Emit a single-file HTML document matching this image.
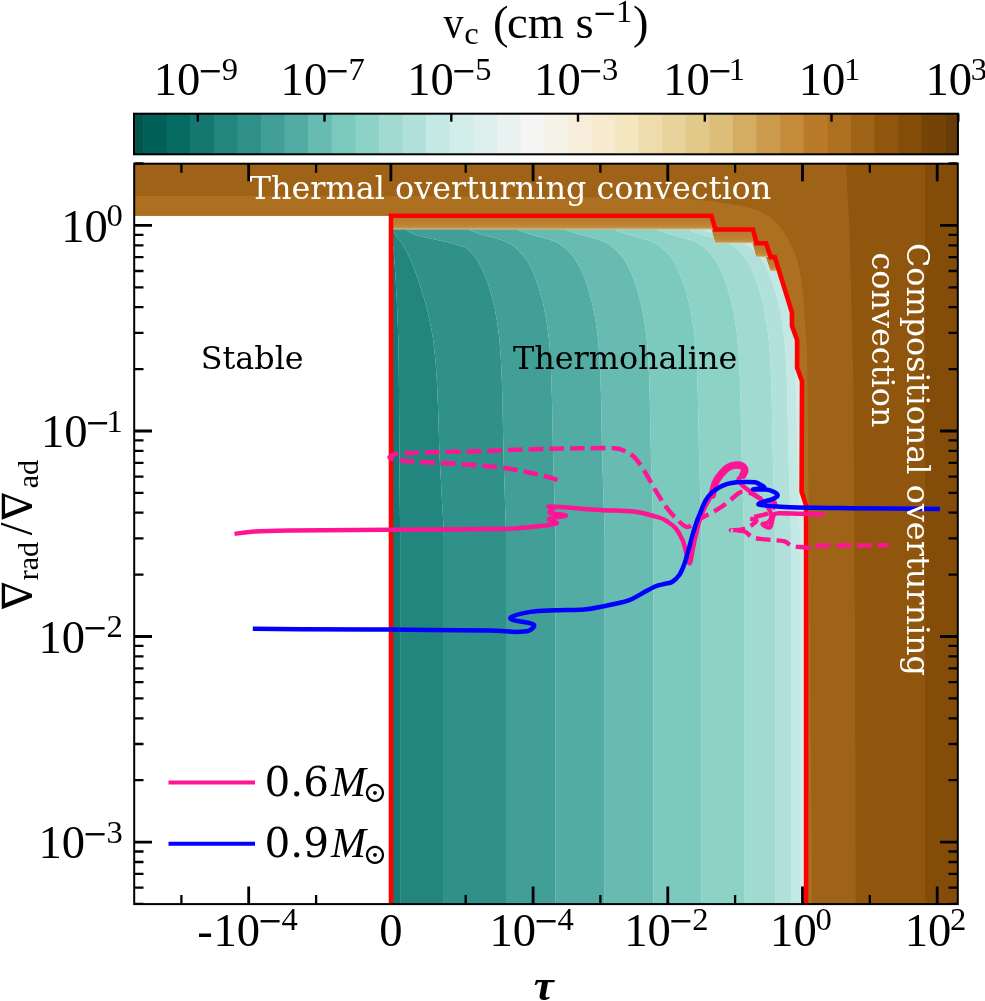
<!DOCTYPE html>
<html><head><meta charset="utf-8"><title>plot</title><style>html,body{margin:0;padding:0;background:#fff;}svg{display:block;}</style></head><body><svg width="985" height="1001" viewBox="0 0 985 1001"><rect width="985" height="1001" fill="#fff"/>
<g id="cbar">
<rect x="134" y="113.7" width="9.7" height="40.6" fill="#01554b"/>
<rect x="143.1" y="113.7" width="24.2" height="40.6" fill="#016058"/>
<rect x="166.7" y="113.7" width="24.2" height="40.6" fill="#066b63"/>
<rect x="190.3" y="113.7" width="24.2" height="40.6" fill="#147870"/>
<rect x="213.9" y="113.7" width="24.2" height="40.6" fill="#23867e"/>
<rect x="237.5" y="113.7" width="24.2" height="40.6" fill="#2f9189"/>
<rect x="261" y="113.7" width="24.2" height="40.6" fill="#419f97"/>
<rect x="284.6" y="113.7" width="24.2" height="40.6" fill="#52aca3"/>
<rect x="308.2" y="113.7" width="24.2" height="40.6" fill="#67bbb0"/>
<rect x="331.8" y="113.7" width="24.2" height="40.6" fill="#7ccabe"/>
<rect x="355.4" y="113.7" width="24.2" height="40.6" fill="#8dd2c7"/>
<rect x="379" y="113.7" width="24.2" height="40.6" fill="#a0dad1"/>
<rect x="402.6" y="113.7" width="24.2" height="40.6" fill="#b1e1da"/>
<rect x="426.2" y="113.7" width="24.2" height="40.6" fill="#c4e9e4"/>
<rect x="449.8" y="113.7" width="24.2" height="40.6" fill="#d2ede9"/>
<rect x="473.4" y="113.7" width="24.2" height="40.6" fill="#ddefed"/>
<rect x="497" y="113.7" width="24.2" height="40.6" fill="#e9f2f1"/>
<rect x="520.6" y="113.7" width="24.2" height="40.6" fill="#f5f5f4"/>
<rect x="544.2" y="113.7" width="24.2" height="40.6" fill="#f5f2e8"/>
<rect x="567.8" y="113.7" width="24.2" height="40.6" fill="#f6eedb"/>
<rect x="591.4" y="113.7" width="24.2" height="40.6" fill="#f6ebcf"/>
<rect x="615" y="113.7" width="24.2" height="40.6" fill="#f5e7c0"/>
<rect x="638.6" y="113.7" width="24.2" height="40.6" fill="#efdcad"/>
<rect x="662.1" y="113.7" width="24.2" height="40.6" fill="#e9d39d"/>
<rect x="685.7" y="113.7" width="24.2" height="40.6" fill="#e3c989"/>
<rect x="709.3" y="113.7" width="24.2" height="40.6" fill="#ddbe78"/>
<rect x="732.9" y="113.7" width="24.2" height="40.6" fill="#d4ac62"/>
<rect x="756.5" y="113.7" width="24.2" height="40.6" fill="#cc9a4c"/>
<rect x="780.1" y="113.7" width="24.2" height="40.6" fill="#c48b3a"/>
<rect x="803.7" y="113.7" width="24.2" height="40.6" fill="#b97b29"/>
<rect x="827.3" y="113.7" width="24.2" height="40.6" fill="#ad7021"/>
<rect x="850.9" y="113.7" width="24.2" height="40.6" fill="#9f6317"/>
<rect x="874.5" y="113.7" width="24.2" height="40.6" fill="#91560d"/>
<rect x="898.1" y="113.7" width="24.2" height="40.6" fill="#844c09"/>
<rect x="921.7" y="113.7" width="24.2" height="40.6" fill="#754308"/>
<rect x="945.3" y="113.7" width="13.2" height="40.6" fill="#683c07"/>
<rect x="134" y="113.7" width="823.9" height="40.6" fill="none" stroke="#000" stroke-width="2"/>
<line x1="197.8" y1="113.7" x2="197.8" y2="121.7" stroke="#000" stroke-width="2.4"/>
<line x1="324.5" y1="113.7" x2="324.5" y2="121.7" stroke="#000" stroke-width="2.4"/>
<line x1="451.3" y1="113.7" x2="451.3" y2="121.7" stroke="#000" stroke-width="2.4"/>
<line x1="578" y1="113.7" x2="578" y2="121.7" stroke="#000" stroke-width="2.4"/>
<line x1="704.8" y1="113.7" x2="704.8" y2="121.7" stroke="#000" stroke-width="2.4"/>
<line x1="831.5" y1="113.7" x2="831.5" y2="121.7" stroke="#000" stroke-width="2.4"/>
<line x1="958.3" y1="113.7" x2="958.3" y2="121.7" stroke="#000" stroke-width="2.4"/>
</g>
<clipPath id="axclip"><rect x="134.5" y="163.7" width="823" height="740.4"/></clipPath>
<g clip-path="url(#axclip)">
<path d="M134.5,163.7 H957.5 V904.1 H390.9 V215.7 H134.5 Z" fill="#9f6317"/>
<polygon points="846,163.7 849.6,234 853.3,382 854.8,604 855.8,904.1 957.5,904.1 957.5,163.7" fill="#91560d"/>
<rect x="925" y="163.7" width="32.5" height="740.4" fill="#844c09"/>
<path d="M134.5,196 C178.8,196.1 314.1,196 400,196.3 C485.9,196.6 600,197.2 650,197.8 C700,198.5 688.3,199.4 700,200.2 C711.7,201 712.5,201.4 720,202.5 C727.5,203.6 738,205.1 745,206.8 C752,208.5 757,210.1 762,212.5 C767,214.9 771.1,217.8 775,221.5 C778.9,225.2 782.2,229.2 785.5,234.5 C788.8,239.8 792.1,246.8 794.5,253 C796.9,259.2 798.5,264.3 800,272 C801.5,279.7 802.6,289.3 803.5,299 C804.4,308.7 804.9,319.8 805.5,330 C806.1,340.2 806.7,331.7 807.2,360 C807.8,388.3 808,409.3 808.8,500 C809.6,590.7 811.5,836.8 812,904.1 L390.9,904.1 L390.9,215.7 L134.5,215.7Z" fill="#ad7021"/>
<defs><linearGradient id="stripg" x1="0" y1="0" x2="0" y2="1"><stop offset="0" stop-color="#a86e26"/><stop offset="0.2" stop-color="#b77b2f"/><stop offset="0.65" stop-color="#bd8234"/><stop offset="0.88" stop-color="#c68f40"/><stop offset="0.96" stop-color="#d9b470"/><stop offset="1" stop-color="#e6cc92"/></linearGradient><pattern id="strip" patternUnits="userSpaceOnUse" x="0" y="215.7" width="985" height="13.8"><rect width="985" height="13.8" fill="url(#stripg)"/></pattern></defs>
<polygon points="391,907.1 391,215.7 711.3,215.7 715.4,229.5 753,229.5 756.5,243.3 766.1,243.3 770.7,257.1 774.8,257.1 791.9,312.3 792,326.1 797.1,339.9 797.1,367.5 802,381.3 801.6,491.7 806.1,505.5 806.1,907.1" fill="url(#strip)"/>
<clipPath id="tclip"><polygon points="391,907.1 391,229.5 711.3,229.5 715.4,243.3 752.5,243.3 756.2,257.1 765.8,257.1 770.4,270.9 776.8,270.9 789.9,312.3 790,326.1 795.1,339.9 795.1,367.5 800,381.3 799.6,491.7 804.1,505.5 804.1,907.1"/></clipPath>
<polygon points="391,907.1 391,229.5 711.3,229.5 715.4,243.3 752.5,243.3 756.2,257.1 765.8,257.1 770.4,270.9 776.8,270.9 789.9,312.3 790,326.1 795.1,339.9 795.1,367.5 800,381.3 799.6,491.7 804.1,505.5 804.1,907.1" fill="#e4f3f1"/>
<g clip-path="url(#tclip)">
<path d="M389,412 L389,410.2 L390,410.2 L390,412 L390,414 L390,416 L390,418 L390,420 L390,422 L390,424 L390,426 L390,428 L390,430 L390,432 L390,434 L390,436 L390,438 L390,440 L390,442 L390,444 L390,446 L390,448 L390,450 L390,452 L390,454 L390,456 L390,458 L390,460 L390,462 L390,464 L390,466 L390,468 L390,470 L390,472 L390,474 L390,476 L390,478 L390,480 L390,482 L390,484 L390,486 L390,488 L390,490 L390,492 L390,494 L390,496 L390,498 L390,500 L390,502 L390,504 L390,506 L390,508 L390,510 L390,512 L390,514 L390,516 L390,518 L390,520 L390,522 L390,524 L390,526 L390,528 L390,530 L390,532 L390,534 L390,536 L390,538 L390,540 L390,542 L390,544 L390,546 L390,548 L390,550 L390,552 L390,554 L390,556 L390,558 L390,560 L390,562 L390,564 L390,566 L390,568 L390,570 L390,572 L390,574 L390,576 L390,578 L390,580 L390,582 L390,584 L390,586 L390,588 L390,590 L390,592 L390,594 L390,596 L390,598 L390,600 L390,602 L390,604 L390,606 L390,608 L390,610 L390,612 L390,614 L390,616 L390,618 L390,620 L390,622 L390,624 L390,626 L390,628 L390,630 L390,632 L390,634 L390,636 L390,638 L390,640 L390,642 L390,644 L390,646 L390,648 L390,650 L390,652 L390,654 L390,656 L390,658 L390,660 L390,662 L390,664 L390,666 L390,668 L390,670 L390,672 L390,674 L390,676 L390,678 L390,680 L390,682 L390,684 L390,686 L390,688 L390,690 L390,692 L390,694 L390,696 L390,698 L390,700 L390,702 L390,704 L390,706 L390,708 L390,710 L390,712 L390,714 L390,716 L390,718 L390,720 L390,722 L390,724 L390,726 L390,728 L390,730 L390,732 L390,734 L390,736 L390,738 L390,740 L390,742 L390,744 L390,746 L390,748 L390,750 L390,752 L390,754 L390,756 L390,758 L390,760 L390,762 L390,764 L390,766 L390,768 L390,770 L390,772 L390,774 L390,776 L390,778 L390,780 L390,782 L390,784 L390,786 L390,788 L390,790 L390,792 L390,794 L390,796 L390,798 L390,800 L390,802 L390,804 L390,806 L390,808 L390,810 L390,812 L390,814 L390,816 L390,818 L390,820 L390,822 L390,824 L390,826 L390,828 L390,830 L390,832 L390,834 L390,836 L390,838 L390,840 L390,842 L390,844 L390,846 L390,848 L390,850 L390,852 L390,854 L390,856 L390,858 L390,860 L390,862 L390,864 L390,866 L390,868 L390,870 L390,872 L390,874 L390,876 L390,878 L390,880 L390,882 L390,884 L390,886 L390,888 L390,890 L390,892 L390,894 L390,896 L390,898 L390,900 L390,902 L390,904 L390,906 L390,906 L389,906 L389,904 L389,902 L389,900 L389,898 L389,896 L389,894 L389,892 L389,890 L389,888 L389,886 L389,884 L389,882 L389,880 L389,878 L389,876 L389,874 L389,872 L389,870 L389,868 L389,866 L389,864 L389,862 L389,860 L389,858 L389,856 L389,854 L389,852 L389,850 L389,848 L389,846 L389,844 L389,842 L389,840 L389,838 L389,836 L389,834 L389,832 L389,830 L389,828 L389,826 L389,824 L389,822 L389,820 L389,818 L389,816 L389,814 L389,812 L389,810 L389,808 L389,806 L389,804 L389,802 L389,800 L389,798 L389,796 L389,794 L389,792 L389,790 L389,788 L389,786 L389,784 L389,782 L389,780 L389,778 L389,776 L389,774 L389,772 L389,770 L389,768 L389,766 L389,764 L389,762 L389,760 L389,758 L389,756 L389,754 L389,752 L389,750 L389,748 L389,746 L389,744 L389,742 L389,740 L389,738 L389,736 L389,734 L389,732 L389,730 L389,728 L389,726 L389,724 L389,722 L389,720 L389,718 L389,716 L389,714 L389,712 L389,710 L389,708 L389,706 L389,704 L389,702 L389,700 L389,698 L389,696 L389,694 L389,692 L389,690 L389,688 L389,686 L389,684 L389,682 L389,680 L389,678 L389,676 L389,674 L389,672 L389,670 L389,668 L389,666 L389,664 L389,662 L389,660 L389,658 L389,656 L389,654 L389,652 L389,650 L389,648 L389,646 L389,644 L389,642 L389,640 L389,638 L389,636 L389,634 L389,632 L389,630 L389,628 L389,626 L389,624 L389,622 L389,620 L389,618 L389,616 L389,614 L389,612 L389,610 L389,608 L389,606 L389,604 L389,602 L389,600 L389,598 L389,596 L389,594 L389,592 L389,590 L389,588 L389,586 L389,584 L389,582 L389,580 L389,578 L389,576 L389,574 L389,572 L389,570 L389,568 L389,566 L389,564 L389,562 L389,560 L389,558 L389,556 L389,554 L389,552 L389,550 L389,548 L389,546 L389,544 L389,542 L389,540 L389,538 L389,536 L389,534 L389,532 L389,530 L389,528 L389,526 L389,524 L389,522 L389,520 L389,518 L389,516 L389,514 L389,512 L389,510 L389,508 L389,506 L389,504 L389,502 L389,500 L389,498 L389,496 L389,494 L389,492 L389,490 L389,488 L389,486 L389,484 L389,482 L389,480 L389,478 L389,476 L389,474 L389,472 L389,470 L389,468 L389,466 L389,464 L389,462 L389,460 L389,458 L389,456 L389,454 L389,452 L389,450 L389,448 L389,446 L389,444 L389,442 L389,440 L389,438 L389,436 L389,434 L389,432 L389,430 L389,428 L389,426 L389,424 L389,422 L389,420 L389,418 L389,416 L389,414 L389,412Z" fill="#004b40"/>
<path d="M389,240 L389,239.9 L390,239.9 L390,240 L390.1,242 L390.1,244 L390.2,246 L390.2,248 L390.2,250 L390.3,252 L390.3,254 L390.3,256 L390.3,258 L390.3,260 L390.4,262 L390.4,264 L390.4,266 L390.4,268 L390.4,270 L390.4,272 L390.4,274 L390.4,276 L390.5,278 L390.5,280 L390.5,282 L390.5,284 L390.5,286 L390.5,288 L390.5,290 L390.5,292 L390.5,294 L390.5,296 L390.5,298 L390.5,300 L390.6,302 L390.6,304 L390.6,306 L390.6,308 L390.6,310 L390.6,312 L390.6,314 L390.6,316 L390.6,318 L390.6,320 L390.6,322 L390.6,324 L390.6,326 L390.6,328 L390.6,330 L390.6,332 L390.6,334 L390.6,336 L390.6,338 L390.6,340 L390.6,342 L390.6,344 L390.6,346 L390.6,348 L390.6,350 L390.6,352 L390.6,354 L390.6,356 L390.7,358 L390.7,360 L390.7,362 L390.7,364 L390.7,366 L390.7,368 L390.7,370 L390.7,372 L390.7,374 L390.7,376 L390.7,378 L390.7,380 L390.7,382 L390.7,384 L390.7,386 L390.7,388 L390.7,390 L390.7,392 L390.7,394 L390.7,396 L390.7,398 L390.7,400 L390.7,402 L390.7,404 L390.7,406 L390.7,408 L390.7,410 L390.7,412 L390.7,414 L390.7,416 L390.7,418 L390.7,420 L390.7,422 L390.7,424 L390.7,426 L390.7,428 L390.7,430 L390.7,432 L390.7,434 L390.7,436 L390.7,438 L390.7,440 L390.7,442 L390.7,444 L390.7,446 L390.7,448 L390.7,450 L390.7,452 L390.7,454 L390.7,456 L390.7,458 L390.7,460 L390.7,462 L390.7,464 L390.7,466 L390.7,468 L390.7,470 L390.7,472 L390.7,474 L390.7,476 L390.7,478 L390.7,480 L390.7,482 L390.7,484 L390.7,486 L390.7,488 L390.7,490 L390.7,492 L390.7,494 L390.7,496 L390.7,498 L390.7,500 L390.7,502 L390.7,504 L390.7,506 L390.7,508 L390.7,510 L390.7,512 L390.7,514 L390.7,516 L390.7,518 L390.7,520 L390.7,522 L390.7,524 L390.7,526 L390.7,528 L390.7,530 L390.7,532 L390.7,534 L390.7,536 L390.7,538 L390.7,540 L390.7,542 L390.7,544 L390.7,546 L390.7,548 L390.7,550 L390.7,552 L390.7,554 L390.7,556 L390.7,558 L390.7,560 L390.7,562 L390.7,564 L390.7,566 L390.7,568 L390.7,570 L390.7,572 L390.7,574 L390.7,576 L390.7,578 L390.7,580 L390.7,582 L390.7,584 L390.7,586 L390.7,588 L390.7,590 L390.7,592 L390.7,594 L390.7,596 L390.7,598 L390.7,600 L390.7,602 L390.7,604 L390.7,606 L390.7,608 L390.7,610 L390.7,612 L390.7,614 L390.7,616 L390.7,618 L390.7,620 L390.7,622 L390.7,624 L390.7,626 L390.7,628 L390.7,630 L390.7,632 L390.7,634 L390.7,636 L390.7,638 L390.7,640 L390.7,642 L390.7,644 L390.7,646 L390.7,648 L390.7,650 L390.7,652 L390.7,654 L390.7,656 L390.7,658 L390.7,660 L390.7,662 L390.7,664 L390.7,666 L390.7,668 L390.7,670 L390.7,672 L390.7,674 L390.7,676 L390.7,678 L390.7,680 L390.7,682 L390.7,684 L390.7,686 L390.7,688 L390.7,690 L390.7,692 L390.7,694 L390.7,696 L390.7,698 L390.7,700 L390.7,702 L390.7,704 L390.7,706 L390.7,708 L390.7,710 L390.7,712 L390.7,714 L390.7,716 L390.7,718 L390.7,720 L390.7,722 L390.7,724 L390.7,726 L390.7,728 L390.7,730 L390.7,732 L390.7,734 L390.7,736 L390.7,738 L390.7,740 L390.7,742 L390.7,744 L390.7,746 L390.7,748 L390.7,750 L390.7,752 L390.7,754 L390.7,756 L390.7,758 L390.7,760 L390.7,762 L390.7,764 L390.7,766 L390.7,768 L390.7,770 L390.7,772 L390.7,774 L390.7,776 L390.7,778 L390.7,780 L390.7,782 L390.7,784 L390.7,786 L390.7,788 L390.7,790 L390.7,792 L390.7,794 L390.7,796 L390.7,798 L390.7,800 L390.7,802 L390.7,804 L390.7,806 L390.7,808 L390.7,810 L390.7,812 L390.7,814 L390.7,816 L390.7,818 L390.7,820 L390.7,822 L390.7,824 L390.7,826 L390.7,828 L390.7,830 L390.7,832 L390.7,834 L390.7,836 L390.7,838 L390.7,840 L390.7,842 L390.7,844 L390.7,846 L390.7,848 L390.7,850 L390.7,852 L390.7,854 L390.7,856 L390.7,858 L390.7,860 L390.7,862 L390.7,864 L390.7,866 L390.7,868 L390.7,870 L390.7,872 L390.7,874 L390.7,876 L390.7,878 L390.7,880 L390.7,882 L390.7,884 L390.7,886 L390.7,888 L390.7,890 L390.7,892 L390.7,894 L390.7,896 L390.7,898 L390.7,900 L390.7,902 L390.7,904 L390.7,906 L390,906 L390,904 L390,902 L390,900 L390,898 L390,896 L390,894 L390,892 L390,890 L390,888 L390,886 L390,884 L390,882 L390,880 L390,878 L390,876 L390,874 L390,872 L390,870 L390,868 L390,866 L390,864 L390,862 L390,860 L390,858 L390,856 L390,854 L390,852 L390,850 L390,848 L390,846 L390,844 L390,842 L390,840 L390,838 L390,836 L390,834 L390,832 L390,830 L390,828 L390,826 L390,824 L390,822 L390,820 L390,818 L390,816 L390,814 L390,812 L390,810 L390,808 L390,806 L390,804 L390,802 L390,800 L390,798 L390,796 L390,794 L390,792 L390,790 L390,788 L390,786 L390,784 L390,782 L390,780 L390,778 L390,776 L390,774 L390,772 L390,770 L390,768 L390,766 L390,764 L390,762 L390,760 L390,758 L390,756 L390,754 L390,752 L390,750 L390,748 L390,746 L390,744 L390,742 L390,740 L390,738 L390,736 L390,734 L390,732 L390,730 L390,728 L390,726 L390,724 L390,722 L390,720 L390,718 L390,716 L390,714 L390,712 L390,710 L390,708 L390,706 L390,704 L390,702 L390,700 L390,698 L390,696 L390,694 L390,692 L390,690 L390,688 L390,686 L390,684 L390,682 L390,680 L390,678 L390,676 L390,674 L390,672 L390,670 L390,668 L390,666 L390,664 L390,662 L390,660 L390,658 L390,656 L390,654 L390,652 L390,650 L390,648 L390,646 L390,644 L390,642 L390,640 L390,638 L390,636 L390,634 L390,632 L390,630 L390,628 L390,626 L390,624 L390,622 L390,620 L390,618 L390,616 L390,614 L390,612 L390,610 L390,608 L390,606 L390,604 L390,602 L390,600 L390,598 L390,596 L390,594 L390,592 L390,590 L390,588 L390,586 L390,584 L390,582 L390,580 L390,578 L390,576 L390,574 L390,572 L390,570 L390,568 L390,566 L390,564 L390,562 L390,560 L390,558 L390,556 L390,554 L390,552 L390,550 L390,548 L390,546 L390,544 L390,542 L390,540 L390,538 L390,536 L390,534 L390,532 L390,530 L390,528 L390,526 L390,524 L390,522 L390,520 L390,518 L390,516 L390,514 L390,512 L390,510 L390,508 L390,506 L390,504 L390,502 L390,500 L390,498 L390,496 L390,494 L390,492 L390,490 L390,488 L390,486 L390,484 L390,482 L390,480 L390,478 L390,476 L390,474 L390,472 L390,470 L390,468 L390,466 L390,464 L390,462 L390,460 L390,458 L390,456 L390,454 L390,452 L390,450 L390,448 L390,446 L390,444 L390,442 L390,440 L390,438 L390,436 L390,434 L390,432 L390,430 L390,428 L390,426 L390,424 L390,422 L390,420 L390,418 L390,416 L390,414 L390,412 L390,410.2 L389,410.2 L389,410 L389,408 L389,406 L389,404 L389,402 L389,400 L389,398 L389,396 L389,394 L389,392 L389,390 L389,388 L389,386 L389,384 L389,382 L389,380 L389,378 L389,376 L389,374 L389,372 L389,370 L389,368 L389,366 L389,364 L389,362 L389,360 L389,358 L389,356 L389,354 L389,352 L389,350 L389,348 L389,346 L389,344 L389,342 L389,340 L389,338 L389,336 L389,334 L389,332 L389,330 L389,328 L389,326 L389,324 L389,322 L389,320 L389,318 L389,316 L389,314 L389,312 L389,310 L389,308 L389,306 L389,304 L389,302 L389,300 L389,298 L389,296 L389,294 L389,292 L389,290 L389,288 L389,286 L389,284 L389,282 L389,280 L389,278 L389,276 L389,274 L389,272 L389,270 L389,268 L389,266 L389,264 L389,262 L389,260 L389,258 L389,256 L389,254 L389,252 L389,250 L389,248 L389,246 L389,244 L389,242 L389,240Z" fill="#01554b"/>
<path d="M389,226 L390,226 L390.2,226 L390.2,228 L390.3,230 L390.3,232 L390.4,234 L390.5,236 L390.6,238 L390.7,240 L390.8,242 L390.8,244 L390.8,246 L390.9,248 L390.9,250 L390.9,252 L391,254 L391,256 L391,258 L391,258.8 L391,260 L391,262 L391,264 L391.1,266 L391.1,268 L391.1,270 L391.1,272 L391.1,274 L391.1,276 L391.1,278 L391.2,280 L391.2,282 L391.2,284 L391.2,286 L391.2,288 L391.2,290 L391.2,292 L391.2,294 L391.2,296 L391.2,298 L391.2,300 L391.2,302 L391.3,304 L391.3,306 L391.3,308 L391.3,310 L391.3,312 L391.3,314 L391.3,316 L391.3,318 L391.3,320 L391.3,322 L391.3,324 L391.3,326 L391.3,328 L391.3,330 L391.3,332 L391.3,334 L391.3,336 L391.3,338 L391.3,340 L391.3,342 L391.3,344 L391.3,346 L391.3,348 L391.3,350 L391.3,352 L391.3,354 L391.4,356 L391.4,358 L391.4,360 L391.4,362 L391.4,364 L391.4,366 L391.4,368 L391.4,370 L391.4,372 L391.4,374 L391.4,376 L391.4,378 L391.4,380 L391.4,382 L391.4,384 L391.4,386 L391.4,388 L391.4,390 L391.4,392 L391.4,394 L391.4,396 L391.4,398 L391.4,400 L391.4,402 L391.4,404 L391.4,406 L391.4,408 L391.4,410 L391.4,412 L391.4,414 L391.4,416 L391.4,418 L391.4,420 L391.4,422 L391.4,424 L391.4,426 L391.4,428 L391.4,430 L391.4,432 L391.4,434 L391.4,436 L391.4,438 L391.4,440 L391.4,442 L391.4,444 L391.4,446 L391.4,448 L391.4,450 L391.4,452 L391.4,454 L391.4,456 L391.4,458 L391.4,460 L391.4,462 L391.4,464 L391.4,466 L391.4,468 L391.4,470 L391.4,472 L391.4,474 L391.4,476 L391.4,478 L391.4,480 L391.4,482 L391.4,484 L391.4,486 L391.4,488 L391.4,490 L391.4,492 L391.4,494 L391.4,496 L391.4,498 L391.4,500 L391.4,502 L391.4,504 L391.4,506 L391.4,508 L391.4,510 L391.4,512 L391.4,514 L391.4,516 L391.4,518 L391.4,520 L391.4,522 L391.4,524 L391.4,526 L391.4,528 L391.4,530 L391.4,532 L391.4,534 L391.4,536 L391.4,538 L391.4,540 L391.4,542 L391.4,544 L391.4,546 L391.4,548 L391.4,550 L391.4,552 L391.4,554 L391.4,556 L391.4,558 L391.4,560 L391.4,562 L391.4,564 L391.4,566 L391.4,568 L391.4,570 L391.4,572 L391.4,574 L391.4,576 L391.4,578 L391.4,580 L391.4,582 L391.4,584 L391.4,586 L391.4,588 L391.4,590 L391.4,592 L391.4,594 L391.4,596 L391.4,598 L391.4,600 L391.4,602 L391.4,604 L391.4,606 L391.4,608 L391.4,610 L391.4,612 L391.4,614 L391.4,616 L391.4,618 L391.4,620 L391.4,622 L391.4,624 L391.4,626 L391.4,628 L391.4,630 L391.4,632 L391.4,634 L391.4,636 L391.4,638 L391.4,640 L391.4,642 L391.4,644 L391.4,646 L391.4,648 L391.4,650 L391.4,652 L391.4,654 L391.4,656 L391.4,658 L391.4,660 L391.4,662 L391.4,664 L391.4,666 L391.4,668 L391.4,670 L391.4,672 L391.4,674 L391.4,676 L391.4,678 L391.4,680 L391.4,682 L391.4,684 L391.4,686 L391.4,688 L391.4,690 L391.4,692 L391.4,694 L391.4,696 L391.4,698 L391.4,700 L391.4,702 L391.4,704 L391.4,706 L391.4,708 L391.4,710 L391.4,712 L391.4,714 L391.4,716 L391.4,718 L391.4,720 L391.4,722 L391.4,724 L391.4,726 L391.4,728 L391.4,730 L391.4,732 L391.4,734 L391.4,736 L391.4,738 L391.4,740 L391.4,742 L391.4,744 L391.4,746 L391.4,748 L391.4,750 L391.4,752 L391.4,754 L391.4,756 L391.4,758 L391.4,760 L391.4,762 L391.4,764 L391.4,766 L391.4,768 L391.4,770 L391.4,772 L391.4,774 L391.4,776 L391.4,778 L391.4,780 L391.4,782 L391.4,784 L391.4,786 L391.4,788 L391.4,790 L391.4,792 L391.4,794 L391.4,796 L391.4,798 L391.4,800 L391.4,802 L391.4,804 L391.4,806 L391.4,808 L391.4,810 L391.4,812 L391.4,814 L391.4,816 L391.4,818 L391.4,820 L391.4,822 L391.4,824 L391.4,826 L391.4,828 L391.4,830 L391.4,832 L391.4,834 L391.4,836 L391.4,838 L391.4,840 L391.4,842 L391.4,844 L391.4,846 L391.4,848 L391.4,850 L391.4,852 L391.4,854 L391.4,856 L391.4,858 L391.4,860 L391.4,862 L391.4,864 L391.4,866 L391.4,868 L391.4,870 L391.4,872 L391.4,874 L391.4,876 L391.4,878 L391.4,880 L391.4,882 L391.4,884 L391.4,886 L391.4,888 L391.4,890 L391.4,892 L391.4,894 L391.4,896 L391.4,898 L391.4,900 L391.4,902 L391.4,904 L391.4,906 L391,906 L390.7,906 L390.7,904 L390.7,902 L390.7,900 L390.7,898 L390.7,896 L390.7,894 L390.7,892 L390.7,890 L390.7,888 L390.7,886 L390.7,884 L390.7,882 L390.7,880 L390.7,878 L390.7,876 L390.7,874 L390.7,872 L390.7,870 L390.7,868 L390.7,866 L390.7,864 L390.7,862 L390.7,860 L390.7,858 L390.7,856 L390.7,854 L390.7,852 L390.7,850 L390.7,848 L390.7,846 L390.7,844 L390.7,842 L390.7,840 L390.7,838 L390.7,836 L390.7,834 L390.7,832 L390.7,830 L390.7,828 L390.7,826 L390.7,824 L390.7,822 L390.7,820 L390.7,818 L390.7,816 L390.7,814 L390.7,812 L390.7,810 L390.7,808 L390.7,806 L390.7,804 L390.7,802 L390.7,800 L390.7,798 L390.7,796 L390.7,794 L390.7,792 L390.7,790 L390.7,788 L390.7,786 L390.7,784 L390.7,782 L390.7,780 L390.7,778 L390.7,776 L390.7,774 L390.7,772 L390.7,770 L390.7,768 L390.7,766 L390.7,764 L390.7,762 L390.7,760 L390.7,758 L390.7,756 L390.7,754 L390.7,752 L390.7,750 L390.7,748 L390.7,746 L390.7,744 L390.7,742 L390.7,740 L390.7,738 L390.7,736 L390.7,734 L390.7,732 L390.7,730 L390.7,728 L390.7,726 L390.7,724 L390.7,722 L390.7,720 L390.7,718 L390.7,716 L390.7,714 L390.7,712 L390.7,710 L390.7,708 L390.7,706 L390.7,704 L390.7,702 L390.7,700 L390.7,698 L390.7,696 L390.7,694 L390.7,692 L390.7,690 L390.7,688 L390.7,686 L390.7,684 L390.7,682 L390.7,680 L390.7,678 L390.7,676 L390.7,674 L390.7,672 L390.7,670 L390.7,668 L390.7,666 L390.7,664 L390.7,662 L390.7,660 L390.7,658 L390.7,656 L390.7,654 L390.7,652 L390.7,650 L390.7,648 L390.7,646 L390.7,644 L390.7,642 L390.7,640 L390.7,638 L390.7,636 L390.7,634 L390.7,632 L390.7,630 L390.7,628 L390.7,626 L390.7,624 L390.7,622 L390.7,620 L390.7,618 L390.7,616 L390.7,614 L390.7,612 L390.7,610 L390.7,608 L390.7,606 L390.7,604 L390.7,602 L390.7,600 L390.7,598 L390.7,596 L390.7,594 L390.7,592 L390.7,590 L390.7,588 L390.7,586 L390.7,584 L390.7,582 L390.7,580 L390.7,578 L390.7,576 L390.7,574 L390.7,572 L390.7,570 L390.7,568 L390.7,566 L390.7,564 L390.7,562 L390.7,560 L390.7,558 L390.7,556 L390.7,554 L390.7,552 L390.7,550 L390.7,548 L390.7,546 L390.7,544 L390.7,542 L390.7,540 L390.7,538 L390.7,536 L390.7,534 L390.7,532 L390.7,530 L390.7,528 L390.7,526 L390.7,524 L390.7,522 L390.7,520 L390.7,518 L390.7,516 L390.7,514 L390.7,512 L390.7,510 L390.7,508 L390.7,506 L390.7,504 L390.7,502 L390.7,500 L390.7,498 L390.7,496 L390.7,494 L390.7,492 L390.7,490 L390.7,488 L390.7,486 L390.7,484 L390.7,482 L390.7,480 L390.7,478 L390.7,476 L390.7,474 L390.7,472 L390.7,470 L390.7,468 L390.7,466 L390.7,464 L390.7,462 L390.7,460 L390.7,458 L390.7,456 L390.7,454 L390.7,452 L390.7,450 L390.7,448 L390.7,446 L390.7,444 L390.7,442 L390.7,440 L390.7,438 L390.7,436 L390.7,434 L390.7,432 L390.7,430 L390.7,428 L390.7,426 L390.7,424 L390.7,422 L390.7,420 L390.7,418 L390.7,416 L390.7,414 L390.7,412 L390.7,410 L390.7,408 L390.7,406 L390.7,404 L390.7,402 L390.7,400 L390.7,398 L390.7,396 L390.7,394 L390.7,392 L390.7,390 L390.7,388 L390.7,386 L390.7,384 L390.7,382 L390.7,380 L390.7,378 L390.7,376 L390.7,374 L390.7,372 L390.7,370 L390.7,368 L390.7,366 L390.7,364 L390.7,362 L390.7,360 L390.7,358 L390.6,356 L390.6,354 L390.6,352 L390.6,350 L390.6,348 L390.6,346 L390.6,344 L390.6,342 L390.6,340 L390.6,338 L390.6,336 L390.6,334 L390.6,332 L390.6,330 L390.6,328 L390.6,326 L390.6,324 L390.6,322 L390.6,320 L390.6,318 L390.6,316 L390.6,314 L390.6,312 L390.6,310 L390.6,308 L390.6,306 L390.6,304 L390.6,302 L390.5,300 L390.5,298 L390.5,296 L390.5,294 L390.5,292 L390.5,290 L390.5,288 L390.5,286 L390.5,284 L390.5,282 L390.5,280 L390.5,278 L390.4,276 L390.4,274 L390.4,272 L390.4,270 L390.4,268 L390.4,266 L390.4,264 L390.4,262 L390.3,260 L390.3,258 L390.3,256 L390.3,254 L390.3,252 L390.2,250 L390.2,248 L390.2,246 L390.1,244 L390.1,242 L390,240 L390,239.9 L389,239.9 L389,238 L389,236 L389,234 L389,232 L389,230 L389,228 L389,226Z" fill="#016058"/>
<path d="M390.2,226 L390.9,226 L390.9,228 L390.9,230 L391,232 L391,232.2 L391.1,234 L391.2,236 L391.3,238 L391.4,240 L391.5,242 L391.5,244 L391.6,246 L391.6,248 L391.6,250 L391.7,252 L391.7,254 L391.7,256 L391.7,258 L391.7,260 L391.8,262 L391.8,264 L391.8,266 L391.8,268 L391.8,270 L391.8,272 L391.8,274 L391.9,276 L391.9,278 L391.9,280 L391.9,282 L391.9,284 L391.9,286 L391.9,288 L391.9,290 L391.9,292 L391.9,294 L392,296 L392,298 L392,300 L392,302 L392,304 L392,306 L392,308 L392,310 L392,310.4 L392,312 L392,314 L392.1,316 L392.1,318 L392.1,320 L392.1,322 L392.1,324 L392.1,326 L392.2,328 L392.2,330 L392.2,332 L392.2,334 L392.2,336 L392.2,338 L392.2,340 L392.2,342 L392.2,344 L392.3,346 L392.3,348 L392.3,350 L392.3,352 L392.3,354 L392.3,356 L392.3,358 L392.3,360 L392.3,362 L392.3,364 L392.3,366 L392.3,368 L392.3,370 L392.3,372 L392.3,374 L392.3,376 L392.4,378 L392.4,380 L392.4,382 L392.4,384 L392.4,386 L392.4,388 L392.4,390 L392.4,392 L392.4,394 L392.4,396 L392.4,398 L392.4,400 L392.4,402 L392.4,404 L392.4,406 L392.4,408 L392.4,410 L392.4,412 L392.4,414 L392.4,416 L392.4,418 L392.4,420 L392.4,422 L392.4,424 L392.4,426 L392.4,428 L392.4,430 L392.4,432 L392.4,434 L392.4,436 L392.4,438 L392.4,440 L392.4,442 L392.4,444 L392.4,446 L392.4,448 L392.4,450 L392.4,452 L392.4,454 L392.4,456 L392.5,458 L392.5,460 L392.5,462 L392.5,464 L392.5,466 L392.5,468 L392.5,470 L392.5,472 L392.5,474 L392.5,476 L392.5,478 L392.5,480 L392.5,482 L392.5,484 L392.5,486 L392.5,488 L392.5,490 L392.5,492 L392.5,494 L392.5,496 L392.5,498 L392.5,500 L392.5,502 L392.5,504 L392.5,506 L392.5,508 L392.5,510 L392.5,512 L392.5,514 L392.6,516 L392.6,518 L392.6,520 L392.6,522 L392.6,524 L392.6,526 L392.6,528 L392.6,530 L392.6,532 L392.6,534 L392.6,536 L392.6,538 L392.6,540 L392.6,542 L392.6,544 L392.6,546 L392.6,548 L392.6,550 L392.6,552 L392.6,554 L392.6,556 L392.6,558 L392.6,560 L392.6,562 L392.6,564 L392.6,566 L392.6,568 L392.6,570 L392.6,572 L392.6,574 L392.6,576 L392.6,578 L392.6,580 L392.6,582 L392.6,584 L392.6,586 L392.6,588 L392.6,590 L392.6,592 L392.6,594 L392.6,596 L392.6,598 L392.6,600 L392.6,602 L392.6,604 L392.6,606 L392.6,608 L392.6,610 L392.6,612 L392.6,614 L392.6,616 L392.6,618 L392.6,620 L392.6,622 L392.6,624 L392.6,626 L392.6,628 L392.6,630 L392.6,632 L392.6,634 L392.6,636 L392.6,638 L392.6,640 L392.6,642 L392.6,644 L392.6,646 L392.6,648 L392.6,650 L392.6,652 L392.6,654 L392.6,656 L392.6,658 L392.6,660 L392.6,662 L392.6,664 L392.6,666 L392.6,668 L392.6,670 L392.6,672 L392.6,674 L392.6,676 L392.6,678 L392.6,680 L392.6,682 L392.6,684 L392.6,686 L392.6,688 L392.6,690 L392.6,692 L392.6,694 L392.6,696 L392.6,698 L392.6,700 L392.6,702 L392.6,704 L392.6,706 L392.6,708 L392.6,710 L392.6,712 L392.6,714 L392.6,716 L392.6,718 L392.6,720 L392.6,722 L392.6,724 L392.6,726 L392.6,728 L392.6,730 L392.6,732 L392.6,734 L392.6,736 L392.6,738 L392.6,740 L392.6,742 L392.6,744 L392.6,746 L392.6,748 L392.6,750 L392.6,752 L392.6,754 L392.6,756 L392.6,758 L392.6,760 L392.6,762 L392.6,764 L392.6,766 L392.6,768 L392.6,770 L392.6,772 L392.6,774 L392.6,776 L392.6,778 L392.6,780 L392.6,782 L392.6,784 L392.6,786 L392.6,788 L392.6,790 L392.6,792 L392.6,794 L392.6,796 L392.6,798 L392.6,800 L392.6,802 L392.6,804 L392.6,806 L392.6,808 L392.6,810 L392.6,812 L392.6,814 L392.6,816 L392.6,818 L392.6,820 L392.6,822 L392.6,824 L392.6,826 L392.6,828 L392.6,830 L392.6,832 L392.6,834 L392.6,836 L392.6,838 L392.6,840 L392.6,842 L392.6,844 L392.6,846 L392.6,848 L392.6,850 L392.6,852 L392.6,854 L392.6,856 L392.6,858 L392.6,860 L392.6,862 L392.6,864 L392.6,866 L392.6,868 L392.6,870 L392.6,872 L392.6,874 L392.6,876 L392.6,878 L392.6,880 L392.6,882 L392.6,884 L392.6,886 L392.6,888 L392.6,890 L392.6,892 L392.6,894 L392.6,896 L392.6,898 L392.6,900 L392.6,902 L392.6,904 L392.6,906 L392,906 L391.4,906 L391.4,904 L391.4,902 L391.4,900 L391.4,898 L391.4,896 L391.4,894 L391.4,892 L391.4,890 L391.4,888 L391.4,886 L391.4,884 L391.4,882 L391.4,880 L391.4,878 L391.4,876 L391.4,874 L391.4,872 L391.4,870 L391.4,868 L391.4,866 L391.4,864 L391.4,862 L391.4,860 L391.4,858 L391.4,856 L391.4,854 L391.4,852 L391.4,850 L391.4,848 L391.4,846 L391.4,844 L391.4,842 L391.4,840 L391.4,838 L391.4,836 L391.4,834 L391.4,832 L391.4,830 L391.4,828 L391.4,826 L391.4,824 L391.4,822 L391.4,820 L391.4,818 L391.4,816 L391.4,814 L391.4,812 L391.4,810 L391.4,808 L391.4,806 L391.4,804 L391.4,802 L391.4,800 L391.4,798 L391.4,796 L391.4,794 L391.4,792 L391.4,790 L391.4,788 L391.4,786 L391.4,784 L391.4,782 L391.4,780 L391.4,778 L391.4,776 L391.4,774 L391.4,772 L391.4,770 L391.4,768 L391.4,766 L391.4,764 L391.4,762 L391.4,760 L391.4,758 L391.4,756 L391.4,754 L391.4,752 L391.4,750 L391.4,748 L391.4,746 L391.4,744 L391.4,742 L391.4,740 L391.4,738 L391.4,736 L391.4,734 L391.4,732 L391.4,730 L391.4,728 L391.4,726 L391.4,724 L391.4,722 L391.4,720 L391.4,718 L391.4,716 L391.4,714 L391.4,712 L391.4,710 L391.4,708 L391.4,706 L391.4,704 L391.4,702 L391.4,700 L391.4,698 L391.4,696 L391.4,694 L391.4,692 L391.4,690 L391.4,688 L391.4,686 L391.4,684 L391.4,682 L391.4,680 L391.4,678 L391.4,676 L391.4,674 L391.4,672 L391.4,670 L391.4,668 L391.4,666 L391.4,664 L391.4,662 L391.4,660 L391.4,658 L391.4,656 L391.4,654 L391.4,652 L391.4,650 L391.4,648 L391.4,646 L391.4,644 L391.4,642 L391.4,640 L391.4,638 L391.4,636 L391.4,634 L391.4,632 L391.4,630 L391.4,628 L391.4,626 L391.4,624 L391.4,622 L391.4,620 L391.4,618 L391.4,616 L391.4,614 L391.4,612 L391.4,610 L391.4,608 L391.4,606 L391.4,604 L391.4,602 L391.4,600 L391.4,598 L391.4,596 L391.4,594 L391.4,592 L391.4,590 L391.4,588 L391.4,586 L391.4,584 L391.4,582 L391.4,580 L391.4,578 L391.4,576 L391.4,574 L391.4,572 L391.4,570 L391.4,568 L391.4,566 L391.4,564 L391.4,562 L391.4,560 L391.4,558 L391.4,556 L391.4,554 L391.4,552 L391.4,550 L391.4,548 L391.4,546 L391.4,544 L391.4,542 L391.4,540 L391.4,538 L391.4,536 L391.4,534 L391.4,532 L391.4,530 L391.4,528 L391.4,526 L391.4,524 L391.4,522 L391.4,520 L391.4,518 L391.4,516 L391.4,514 L391.4,512 L391.4,510 L391.4,508 L391.4,506 L391.4,504 L391.4,502 L391.4,500 L391.4,498 L391.4,496 L391.4,494 L391.4,492 L391.4,490 L391.4,488 L391.4,486 L391.4,484 L391.4,482 L391.4,480 L391.4,478 L391.4,476 L391.4,474 L391.4,472 L391.4,470 L391.4,468 L391.4,466 L391.4,464 L391.4,462 L391.4,460 L391.4,458 L391.4,456 L391.4,454 L391.4,452 L391.4,450 L391.4,448 L391.4,446 L391.4,444 L391.4,442 L391.4,440 L391.4,438 L391.4,436 L391.4,434 L391.4,432 L391.4,430 L391.4,428 L391.4,426 L391.4,424 L391.4,422 L391.4,420 L391.4,418 L391.4,416 L391.4,414 L391.4,412 L391.4,410 L391.4,408 L391.4,406 L391.4,404 L391.4,402 L391.4,400 L391.4,398 L391.4,396 L391.4,394 L391.4,392 L391.4,390 L391.4,388 L391.4,386 L391.4,384 L391.4,382 L391.4,380 L391.4,378 L391.4,376 L391.4,374 L391.4,372 L391.4,370 L391.4,368 L391.4,366 L391.4,364 L391.4,362 L391.4,360 L391.4,358 L391.4,356 L391.3,354 L391.3,352 L391.3,350 L391.3,348 L391.3,346 L391.3,344 L391.3,342 L391.3,340 L391.3,338 L391.3,336 L391.3,334 L391.3,332 L391.3,330 L391.3,328 L391.3,326 L391.3,324 L391.3,322 L391.3,320 L391.3,318 L391.3,316 L391.3,314 L391.3,312 L391.3,310 L391.3,308 L391.3,306 L391.3,304 L391.2,302 L391.2,300 L391.2,298 L391.2,296 L391.2,294 L391.2,292 L391.2,290 L391.2,288 L391.2,286 L391.2,284 L391.2,282 L391.2,280 L391.1,278 L391.1,276 L391.1,274 L391.1,272 L391.1,270 L391.1,268 L391.1,266 L391,264 L391,262 L391,260 L391,258.8 L391,258 L391,256 L391,254 L390.9,252 L390.9,250 L390.9,248 L390.8,246 L390.8,244 L390.8,242 L390.7,240 L390.6,238 L390.5,236 L390.4,234 L390.3,232 L390.3,230 L390.2,228 L390.2,226Z" fill="#066b63"/>
<path d="M390.9,226 L391,226 L391.6,226 L391.6,228 L391.7,230 L391.7,232 L391.8,234 L391.9,236 L392,237.7 L392.1,238 L392.4,240 L392.7,242 L392.9,244 L393,245.2 L393.1,246 L393.3,248 L393.5,250 L393.7,252 L393.8,254 L394,256 L394,256.1 L394.2,258 L394.3,260 L394.5,262 L394.6,264 L394.8,266 L394.9,268 L395,269.7 L395,270 L395.2,272 L395.3,274 L395.4,276 L395.6,278 L395.7,280 L395.8,282 L395.9,284 L396,286 L396,286.2 L396.1,288 L396.2,290 L396.3,292 L396.4,294 L396.6,296 L396.7,298 L396.8,300 L396.9,302 L396.9,304 L397,305.3 L397,306 L397.1,308 L397.2,310 L397.3,312 L397.4,314 L397.5,316 L397.6,318 L397.6,320 L397.7,322 L397.8,324 L397.8,326 L397.9,328 L398,330 L398,331.1 L398,332 L398.1,334 L398.2,336 L398.2,338 L398.3,340 L398.3,342 L398.4,344 L398.4,346 L398.4,348 L398.5,350 L398.5,352 L398.5,354 L398.6,356 L398.6,358 L398.6,360 L398.7,362 L398.7,364 L398.7,366 L398.8,368 L398.8,370 L398.8,372 L398.8,374 L398.8,376 L398.9,378 L398.9,380 L398.9,382 L398.9,384 L398.9,386 L399,388 L399,390 L399,392 L399,394 L399,394.5 L399,396 L399,398 L399,400 L399.1,402 L399.1,404 L399.1,406 L399.1,408 L399.1,410 L399.1,412 L399.1,414 L399.1,416 L399.2,418 L399.2,420 L399.2,422 L399.2,424 L399.2,426 L399.2,428 L399.2,430 L399.2,432 L399.2,434 L399.3,436 L399.3,438 L399.3,440 L399.3,442 L399.3,444 L399.3,446 L399.3,448 L399.3,450 L399.4,452 L399.4,454 L399.4,456 L399.4,458 L399.4,460 L399.4,462 L399.4,464 L399.5,466 L399.5,468 L399.5,470 L399.5,472 L399.5,474 L399.6,476 L399.6,478 L399.6,480 L399.6,482 L399.6,484 L399.7,486 L399.7,488 L399.7,490 L399.7,492 L399.7,494 L399.7,496 L399.8,498 L399.8,500 L399.8,502 L399.8,504 L399.8,506 L399.9,508 L399.9,510 L399.9,512 L399.9,514 L399.9,516 L400,518 L400,520 L400,522 L400,522 L400,524 L400,526 L400.1,528 L400.1,530 L400.1,532 L400.1,534 L400.1,536 L400.1,538 L400.1,540 L400.1,542 L400.1,544 L400.1,546 L400.1,548 L400.1,550 L400.1,552 L400.1,554 L400.1,556 L400.1,558 L400.1,560 L400.1,562 L400.1,564 L400.1,566 L400.1,568 L400.1,570 L400.1,572 L400.1,574 L400.1,576 L400.1,578 L400.1,580 L400.1,582 L400.1,584 L400.1,586 L400.1,588 L400.1,590 L400.1,592 L400.1,594 L400.1,596 L400.1,598 L400.1,600 L400.1,602 L400.1,604 L400.1,606 L400.1,608 L400.1,610 L400.1,612 L400.1,614 L400.1,616 L400.1,618 L400.1,620 L400.1,622 L400.1,624 L400.1,626 L400.1,628 L400.1,630 L400.1,632 L400.1,634 L400.1,636 L400.1,638 L400.1,640 L400.1,642 L400.1,644 L400.1,646 L400.1,648 L400.1,650 L400.1,652 L400.1,654 L400.1,656 L400.1,658 L400.1,660 L400.1,662 L400.1,664 L400.1,666 L400.1,668 L400.1,670 L400.1,672 L400.1,674 L400.1,676 L400.1,678 L400.1,680 L400.1,682 L400.1,684 L400.1,686 L400.1,688 L400.1,690 L400.1,692 L400.1,694 L400.1,696 L400.1,698 L400.1,700 L400.1,702 L400.1,704 L400.1,706 L400.1,708 L400.1,710 L400.1,712 L400.1,714 L400.1,716 L400.1,718 L400.1,720 L400.1,722 L400.1,724 L400.1,726 L400.1,728 L400.1,730 L400.1,732 L400.1,734 L400.1,736 L400.1,738 L400.1,740 L400.1,742 L400.1,744 L400.1,746 L400.1,748 L400.1,750 L400.1,752 L400.1,754 L400.1,756 L400.1,758 L400.1,760 L400.1,762 L400.1,764 L400.1,766 L400.1,768 L400.1,770 L400.1,772 L400.1,774 L400.1,776 L400.1,778 L400.1,780 L400.1,782 L400.1,784 L400.1,786 L400.1,788 L400.1,790 L400.1,792 L400.1,794 L400.1,796 L400.1,798 L400.1,800 L400.1,802 L400.1,804 L400.1,806 L400.1,808 L400.1,810 L400.1,812 L400.1,814 L400.1,816 L400.1,818 L400.1,820 L400.1,822 L400.1,824 L400.1,826 L400.1,828 L400.1,830 L400.1,832 L400.1,834 L400.1,836 L400.1,838 L400.1,840 L400.1,842 L400.1,844 L400.1,846 L400.1,848 L400.1,850 L400.1,852 L400.1,854 L400.1,856 L400.1,858 L400.1,860 L400.1,862 L400.1,864 L400.1,866 L400.1,868 L400.1,870 L400.1,872 L400.1,874 L400.1,876 L400.1,878 L400.1,880 L400.1,882 L400.1,884 L400.1,886 L400.1,888 L400.1,890 L400.1,892 L400.1,894 L400.1,896 L400.1,898 L400.1,900 L400.1,902 L400.1,904 L400.1,906 L400,906 L399,906 L398,906 L397,906 L396,906 L395,906 L394,906 L393,906 L392.6,906 L392.6,904 L392.6,902 L392.6,900 L392.6,898 L392.6,896 L392.6,894 L392.6,892 L392.6,890 L392.6,888 L392.6,886 L392.6,884 L392.6,882 L392.6,880 L392.6,878 L392.6,876 L392.6,874 L392.6,872 L392.6,870 L392.6,868 L392.6,866 L392.6,864 L392.6,862 L392.6,860 L392.6,858 L392.6,856 L392.6,854 L392.6,852 L392.6,850 L392.6,848 L392.6,846 L392.6,844 L392.6,842 L392.6,840 L392.6,838 L392.6,836 L392.6,834 L392.6,832 L392.6,830 L392.6,828 L392.6,826 L392.6,824 L392.6,822 L392.6,820 L392.6,818 L392.6,816 L392.6,814 L392.6,812 L392.6,810 L392.6,808 L392.6,806 L392.6,804 L392.6,802 L392.6,800 L392.6,798 L392.6,796 L392.6,794 L392.6,792 L392.6,790 L392.6,788 L392.6,786 L392.6,784 L392.6,782 L392.6,780 L392.6,778 L392.6,776 L392.6,774 L392.6,772 L392.6,770 L392.6,768 L392.6,766 L392.6,764 L392.6,762 L392.6,760 L392.6,758 L392.6,756 L392.6,754 L392.6,752 L392.6,750 L392.6,748 L392.6,746 L392.6,744 L392.6,742 L392.6,740 L392.6,738 L392.6,736 L392.6,734 L392.6,732 L392.6,730 L392.6,728 L392.6,726 L392.6,724 L392.6,722 L392.6,720 L392.6,718 L392.6,716 L392.6,714 L392.6,712 L392.6,710 L392.6,708 L392.6,706 L392.6,704 L392.6,702 L392.6,700 L392.6,698 L392.6,696 L392.6,694 L392.6,692 L392.6,690 L392.6,688 L392.6,686 L392.6,684 L392.6,682 L392.6,680 L392.6,678 L392.6,676 L392.6,674 L392.6,672 L392.6,670 L392.6,668 L392.6,666 L392.6,664 L392.6,662 L392.6,660 L392.6,658 L392.6,656 L392.6,654 L392.6,652 L392.6,650 L392.6,648 L392.6,646 L392.6,644 L392.6,642 L392.6,640 L392.6,638 L392.6,636 L392.6,634 L392.6,632 L392.6,630 L392.6,628 L392.6,626 L392.6,624 L392.6,622 L392.6,620 L392.6,618 L392.6,616 L392.6,614 L392.6,612 L392.6,610 L392.6,608 L392.6,606 L392.6,604 L392.6,602 L392.6,600 L392.6,598 L392.6,596 L392.6,594 L392.6,592 L392.6,590 L392.6,588 L392.6,586 L392.6,584 L392.6,582 L392.6,580 L392.6,578 L392.6,576 L392.6,574 L392.6,572 L392.6,570 L392.6,568 L392.6,566 L392.6,564 L392.6,562 L392.6,560 L392.6,558 L392.6,556 L392.6,554 L392.6,552 L392.6,550 L392.6,548 L392.6,546 L392.6,544 L392.6,542 L392.6,540 L392.6,538 L392.6,536 L392.6,534 L392.6,532 L392.6,530 L392.6,528 L392.6,526 L392.6,524 L392.6,522 L392.6,520 L392.6,518 L392.6,516 L392.5,514 L392.5,512 L392.5,510 L392.5,508 L392.5,506 L392.5,504 L392.5,502 L392.5,500 L392.5,498 L392.5,496 L392.5,494 L392.5,492 L392.5,490 L392.5,488 L392.5,486 L392.5,484 L392.5,482 L392.5,480 L392.5,478 L392.5,476 L392.5,474 L392.5,472 L392.5,470 L392.5,468 L392.5,466 L392.5,464 L392.5,462 L392.5,460 L392.5,458 L392.4,456 L392.4,454 L392.4,452 L392.4,450 L392.4,448 L392.4,446 L392.4,444 L392.4,442 L392.4,440 L392.4,438 L392.4,436 L392.4,434 L392.4,432 L392.4,430 L392.4,428 L392.4,426 L392.4,424 L392.4,422 L392.4,420 L392.4,418 L392.4,416 L392.4,414 L392.4,412 L392.4,410 L392.4,408 L392.4,406 L392.4,404 L392.4,402 L392.4,400 L392.4,398 L392.4,396 L392.4,394 L392.4,392 L392.4,390 L392.4,388 L392.4,386 L392.4,384 L392.4,382 L392.4,380 L392.4,378 L392.3,376 L392.3,374 L392.3,372 L392.3,370 L392.3,368 L392.3,366 L392.3,364 L392.3,362 L392.3,360 L392.3,358 L392.3,356 L392.3,354 L392.3,352 L392.3,350 L392.3,348 L392.3,346 L392.2,344 L392.2,342 L392.2,340 L392.2,338 L392.2,336 L392.2,334 L392.2,332 L392.2,330 L392.2,328 L392.1,326 L392.1,324 L392.1,322 L392.1,320 L392.1,318 L392.1,316 L392,314 L392,312 L392,310.4 L392,310 L392,308 L392,306 L392,304 L392,302 L392,300 L392,298 L392,296 L391.9,294 L391.9,292 L391.9,290 L391.9,288 L391.9,286 L391.9,284 L391.9,282 L391.9,280 L391.9,278 L391.9,276 L391.8,274 L391.8,272 L391.8,270 L391.8,268 L391.8,266 L391.8,264 L391.8,262 L391.7,260 L391.7,258 L391.7,256 L391.7,254 L391.7,252 L391.6,250 L391.6,248 L391.6,246 L391.5,244 L391.5,242 L391.4,240 L391.3,238 L391.2,236 L391.1,234 L391,232.2 L391,232 L390.9,230 L390.9,228 L390.9,226Z" fill="#147870"/>
<path d="M391.6,226 L392,226 L393,226 L393.2,226 L393.5,228 L393.7,230 L394,231.4 L394.2,232 L394.9,234 L395,234.2 L396,236 L396,236 L397,237.4 L397.5,238 L398,238.7 L399,239.8 L399.2,240 L400,241 L400.9,242 L401,242.1 L402,243.6 L402.3,244 L403,245.3 L403.5,246 L404,247 L404.6,248 L405,248.8 L405.7,250 L406,250.7 L406.7,252 L407,252.6 L407.7,254 L408,254.6 L408.7,256 L409,256.7 L409.6,258 L410,258.9 L410.5,260 L411,261.1 L411.4,262 L412,263.4 L412.3,264 L413,265.8 L413.1,266 L413.9,268 L414,268.4 L414.6,270 L415,271 L415.4,272 L416,273.8 L416.1,274 L416.8,276 L417,276.5 L417.5,278 L418,279.4 L418.2,280 L418.9,282 L419,282.4 L419.5,284 L420,285.4 L420.2,286 L420.8,288 L421,288.6 L421.5,290 L422,291.8 L422.1,292 L422.7,294 L423,295 L423.3,296 L423.9,298 L424,298.3 L424.5,300 L425,301.8 L425.1,302 L425.6,304 L426,305.3 L426.2,306 L426.7,308 L427,309.1 L427.2,310 L427.7,312 L428,313.3 L428.2,314 L428.6,316 L429,317.7 L429.1,318 L429.5,320 L430,322 L430,322.2 L430.4,324 L430.8,326 L431,327.1 L431.2,328 L431.6,330 L431.9,332 L432,332.4 L432.3,334 L432.6,336 L432.9,338 L433,338.7 L433.2,340 L433.4,342 L433.7,344 L433.9,346 L434,346.6 L434.2,348 L434.4,350 L434.6,352 L434.8,354 L435,355.9 L435,356 L435.2,358 L435.4,360 L435.6,362 L435.7,364 L435.9,366 L436,367.6 L436,368 L436.2,370 L436.3,372 L436.4,374 L436.6,376 L436.7,378 L436.8,380 L436.9,382 L437,383.8 L437,384 L437.1,386 L437.2,388 L437.3,390 L437.4,392 L437.5,394 L437.6,396 L437.7,398 L437.7,400 L437.8,402 L437.9,404 L438,406 L438,406.8 L438,408 L438.1,410 L438.2,412 L438.2,414 L438.3,416 L438.4,418 L438.4,420 L438.5,422 L438.5,424 L438.6,426 L438.7,428 L438.7,430 L438.8,432 L438.8,434 L438.9,436 L439,438 L439,439.6 L439,440 L439.1,442 L439.1,444 L439.2,446 L439.3,448 L439.4,450 L439.5,452 L439.5,454 L439.6,456 L439.7,458 L439.8,460 L439.9,462 L440,463.9 L440,464 L440.1,466 L440.2,468 L440.3,470 L440.4,472 L440.5,474 L440.6,476 L440.7,478 L440.9,480 L441,482 L441,482.7 L441.1,484 L441.2,486 L441.3,488 L441.4,490 L441.5,492 L441.6,494 L441.7,496 L441.8,498 L441.9,500 L442,501.5 L442,502 L442.1,504 L442.3,506 L442.4,508 L442.5,510 L442.6,512 L442.8,514 L442.9,516 L443,517.6 L443,518 L443.1,520 L443.3,522 L443.4,524 L443.5,526 L443.6,528 L443.7,530 L443.7,532 L443.8,534 L443.8,536 L443.9,538 L443.9,540 L443.9,542 L443.9,544 L443.9,546 L443.9,548 L443.9,550 L443.9,552 L443.9,554 L443.9,556 L443.9,558 L443.9,560 L443.9,562 L443.9,564 L443.9,566 L443.9,568 L443.9,570 L443.9,572 L443.9,574 L443.9,576 L443.9,578 L443.9,580 L443.9,582 L443.9,584 L443.9,586 L443.9,588 L443.9,590 L443.9,592 L443.9,594 L443.9,596 L443.9,598 L443.9,600 L443.9,602 L443.9,604 L443.9,606 L443.9,608 L443.9,610 L443.9,612 L443.9,614 L443.9,616 L443.9,618 L443.9,620 L443.9,622 L443.9,624 L443.9,626 L443.9,628 L443.9,630 L443.9,632 L443.9,634 L443.9,636 L443.9,638 L443.9,640 L443.9,642 L443.9,644 L443.9,646 L443.9,648 L443.9,650 L443.9,652 L443.9,654 L443.9,656 L443.9,658 L443.9,660 L443.9,662 L443.9,664 L443.9,666 L443.9,668 L443.9,670 L443.9,672 L443.9,674 L443.9,676 L443.9,678 L443.9,680 L443.9,682 L443.9,684 L443.9,686 L443.9,688 L443.9,690 L443.9,692 L443.9,694 L443.9,696 L443.9,698 L443.9,700 L443.9,702 L443.9,704 L443.9,706 L443.9,708 L443.9,710 L443.9,712 L443.9,714 L443.9,716 L443.9,718 L443.9,720 L443.9,722 L443.9,724 L443.9,726 L443.9,728 L443.9,730 L443.9,732 L443.9,734 L443.9,736 L443.9,738 L443.9,740 L443.9,742 L443.9,744 L443.9,746 L443.9,748 L443.9,750 L443.9,752 L443.9,754 L443.9,756 L443.9,758 L443.9,760 L443.9,762 L443.9,764 L443.9,766 L443.9,768 L443.9,770 L443.9,772 L443.9,774 L443.9,776 L443.9,778 L443.9,780 L443.9,782 L443.9,784 L443.9,786 L443.9,788 L443.9,790 L443.9,792 L443.9,794 L443.9,796 L443.9,798 L443.9,800 L443.9,802 L443.9,804 L443.9,806 L443.9,808 L443.9,810 L443.9,812 L443.9,814 L443.9,816 L443.9,818 L443.9,820 L443.9,822 L443.9,824 L443.9,826 L443.9,828 L443.9,830 L443.9,832 L443.9,834 L443.9,836 L443.9,838 L443.9,840 L443.9,842 L443.9,844 L443.9,846 L443.9,848 L443.9,850 L443.9,852 L443.9,854 L443.9,856 L443.9,858 L443.9,860 L443.9,862 L443.9,864 L443.9,866 L443.9,868 L443.9,870 L443.9,872 L443.9,874 L443.9,876 L443.9,878 L443.9,880 L443.9,882 L443.9,884 L443.9,886 L443.9,888 L443.9,890 L443.9,892 L443.9,894 L443.9,896 L443.9,898 L443.9,900 L443.9,902 L443.9,904 L443.9,906 L443,906 L442,906 L441,906 L440,906 L439,906 L438,906 L437,906 L436,906 L435,906 L434,906 L433,906 L432,906 L431,906 L430,906 L429,906 L428,906 L427,906 L426,906 L425,906 L424,906 L423,906 L422,906 L421,906 L420,906 L419,906 L418,906 L417,906 L416,906 L415,906 L414,906 L413,906 L412,906 L411,906 L410,906 L409,906 L408,906 L407,906 L406,906 L405,906 L404,906 L403,906 L402,906 L401,906 L400.1,906 L400.1,904 L400.1,902 L400.1,900 L400.1,898 L400.1,896 L400.1,894 L400.1,892 L400.1,890 L400.1,888 L400.1,886 L400.1,884 L400.1,882 L400.1,880 L400.1,878 L400.1,876 L400.1,874 L400.1,872 L400.1,870 L400.1,868 L400.1,866 L400.1,864 L400.1,862 L400.1,860 L400.1,858 L400.1,856 L400.1,854 L400.1,852 L400.1,850 L400.1,848 L400.1,846 L400.1,844 L400.1,842 L400.1,840 L400.1,838 L400.1,836 L400.1,834 L400.1,832 L400.1,830 L400.1,828 L400.1,826 L400.1,824 L400.1,822 L400.1,820 L400.1,818 L400.1,816 L400.1,814 L400.1,812 L400.1,810 L400.1,808 L400.1,806 L400.1,804 L400.1,802 L400.1,800 L400.1,798 L400.1,796 L400.1,794 L400.1,792 L400.1,790 L400.1,788 L400.1,786 L400.1,784 L400.1,782 L400.1,780 L400.1,778 L400.1,776 L400.1,774 L400.1,772 L400.1,770 L400.1,768 L400.1,766 L400.1,764 L400.1,762 L400.1,760 L400.1,758 L400.1,756 L400.1,754 L400.1,752 L400.1,750 L400.1,748 L400.1,746 L400.1,744 L400.1,742 L400.1,740 L400.1,738 L400.1,736 L400.1,734 L400.1,732 L400.1,730 L400.1,728 L400.1,726 L400.1,724 L400.1,722 L400.1,720 L400.1,718 L400.1,716 L400.1,714 L400.1,712 L400.1,710 L400.1,708 L400.1,706 L400.1,704 L400.1,702 L400.1,700 L400.1,698 L400.1,696 L400.1,694 L400.1,692 L400.1,690 L400.1,688 L400.1,686 L400.1,684 L400.1,682 L400.1,680 L400.1,678 L400.1,676 L400.1,674 L400.1,672 L400.1,670 L400.1,668 L400.1,666 L400.1,664 L400.1,662 L400.1,660 L400.1,658 L400.1,656 L400.1,654 L400.1,652 L400.1,650 L400.1,648 L400.1,646 L400.1,644 L400.1,642 L400.1,640 L400.1,638 L400.1,636 L400.1,634 L400.1,632 L400.1,630 L400.1,628 L400.1,626 L400.1,624 L400.1,622 L400.1,620 L400.1,618 L400.1,616 L400.1,614 L400.1,612 L400.1,610 L400.1,608 L400.1,606 L400.1,604 L400.1,602 L400.1,600 L400.1,598 L400.1,596 L400.1,594 L400.1,592 L400.1,590 L400.1,588 L400.1,586 L400.1,584 L400.1,582 L400.1,580 L400.1,578 L400.1,576 L400.1,574 L400.1,572 L400.1,570 L400.1,568 L400.1,566 L400.1,564 L400.1,562 L400.1,560 L400.1,558 L400.1,556 L400.1,554 L400.1,552 L400.1,550 L400.1,548 L400.1,546 L400.1,544 L400.1,542 L400.1,540 L400.1,538 L400.1,536 L400.1,534 L400.1,532 L400.1,530 L400.1,528 L400,526 L400,524 L400,522 L400,522 L400,520 L400,518 L399.9,516 L399.9,514 L399.9,512 L399.9,510 L399.9,508 L399.8,506 L399.8,504 L399.8,502 L399.8,500 L399.8,498 L399.7,496 L399.7,494 L399.7,492 L399.7,490 L399.7,488 L399.7,486 L399.6,484 L399.6,482 L399.6,480 L399.6,478 L399.6,476 L399.5,474 L399.5,472 L399.5,470 L399.5,468 L399.5,466 L399.4,464 L399.4,462 L399.4,460 L399.4,458 L399.4,456 L399.4,454 L399.4,452 L399.3,450 L399.3,448 L399.3,446 L399.3,444 L399.3,442 L399.3,440 L399.3,438 L399.3,436 L399.2,434 L399.2,432 L399.2,430 L399.2,428 L399.2,426 L399.2,424 L399.2,422 L399.2,420 L399.2,418 L399.1,416 L399.1,414 L399.1,412 L399.1,410 L399.1,408 L399.1,406 L399.1,404 L399.1,402 L399,400 L399,398 L399,396 L399,394.5 L399,394 L399,392 L399,390 L399,388 L398.9,386 L398.9,384 L398.9,382 L398.9,380 L398.9,378 L398.8,376 L398.8,374 L398.8,372 L398.8,370 L398.8,368 L398.7,366 L398.7,364 L398.7,362 L398.6,360 L398.6,358 L398.6,356 L398.5,354 L398.5,352 L398.5,350 L398.4,348 L398.4,346 L398.4,344 L398.3,342 L398.3,340 L398.2,338 L398.2,336 L398.1,334 L398,332 L398,331.1 L398,330 L397.9,328 L397.8,326 L397.8,324 L397.7,322 L397.6,320 L397.6,318 L397.5,316 L397.4,314 L397.3,312 L397.2,310 L397.1,308 L397,306 L397,305.3 L396.9,304 L396.9,302 L396.8,300 L396.7,298 L396.6,296 L396.4,294 L396.3,292 L396.2,290 L396.1,288 L396,286.2 L396,286 L395.9,284 L395.8,282 L395.7,280 L395.6,278 L395.4,276 L395.3,274 L395.2,272 L395,270 L395,269.7 L394.9,268 L394.8,266 L394.6,264 L394.5,262 L394.3,260 L394.2,258 L394,256.1 L394,256 L393.8,254 L393.7,252 L393.5,250 L393.3,248 L393.1,246 L393,245.2 L392.9,244 L392.7,242 L392.4,240 L392.1,238 L392,237.7 L391.9,236 L391.8,234 L391.7,232 L391.7,230 L391.6,228 L391.6,226Z" fill="#23867e"/>
<path d="M393.2,226 L394,226 L395,226 L396,226 L397,226 L398,226 L399,226 L400,226 L401,226 L402,226 L403,226 L403.7,226 L404,226.5 L404.9,228 L405,228.1 L406,229.5 L406.4,230 L407,230.5 L408,231.3 L409,232 L409,232 L410,232.5 L411,233 L412,233.4 L413,233.9 L413.3,234 L414,234.2 L415,234.6 L416,234.9 L417,235.2 L418,235.5 L419,235.8 L419.6,236 L420,236.1 L421,236.4 L422,236.7 L423,236.9 L424,237.1 L425,237.4 L426,237.6 L427,237.8 L427.7,238 L428,238.1 L429,238.3 L430,238.5 L431,238.7 L432,238.9 L433,239.1 L434,239.3 L435,239.5 L436,239.7 L437,239.9 L437.4,240 L438,240.1 L439,240.4 L440,240.6 L441,240.8 L442,241 L443,241.2 L444,241.4 L445,241.6 L446,241.8 L447,242 L447.1,242 L448,242.3 L449,242.5 L450,242.8 L451,243.1 L452,243.3 L453,243.6 L454,243.9 L454.6,244 L455,244.1 L456,244.5 L457,244.8 L458,245.1 L459,245.4 L460,245.7 L461,246 L461.1,246 L462,246.3 L463,246.6 L464,246.9 L465,247.2 L466,247.7 L466.4,248 L467,248.5 L468,249.4 L468.6,250 L469,250.4 L470,251.4 L470.6,252 L471,252.4 L472,253.5 L472.4,254 L473,254.7 L474,255.9 L474.1,256 L475,257.2 L475.6,258 L476,258.6 L477,260 L477,260 L478,261.6 L478.2,262 L479,263.3 L479.4,264 L480,265 L480.5,266 L481,266.9 L481.5,268 L482,269 L482.5,270 L483,271.1 L483.4,272 L484,273.4 L484.3,274 L485,275.8 L485.1,276 L485.9,278 L486,278.3 L486.6,280 L487,281.1 L487.3,282 L488,283.9 L488,284 L488.7,286 L489,287 L489.3,288 L489.9,290 L490,290.3 L490.5,292 L491,293.8 L491.1,294 L491.6,296 L492,297.4 L492.2,298 L492.7,300 L493,301.3 L493.2,302 L493.7,304 L494,305.5 L494.1,306 L494.6,308 L495,310 L495,310.2 L495.4,312 L495.7,314 L496,315.6 L496.1,316 L496.4,318 L496.8,320 L497,321.5 L497.1,322 L497.4,324 L497.7,326 L498,328 L498,328 L498.3,330 L498.5,332 L498.8,334 L499,336 L499,336 L499.2,338 L499.4,340 L499.6,342 L499.8,344 L499.9,346 L500,346.9 L500.1,348 L500.2,350 L500.4,352 L500.5,354 L500.7,356 L500.8,358 L500.9,360 L501,361.8 L501,362 L501.1,364 L501.2,366 L501.3,368 L501.4,370 L501.5,372 L501.6,374 L501.7,376 L501.7,378 L501.8,380 L501.9,382 L501.9,384 L502,385.6 L502,386 L502.1,388 L502.1,390 L502.2,392 L502.2,394 L502.3,396 L502.4,398 L502.4,400 L502.5,402 L502.5,404 L502.6,406 L502.6,408 L502.6,410 L502.7,412 L502.7,414 L502.8,416 L502.8,418 L502.8,420 L502.9,422 L502.9,424 L502.9,426 L503,428 L503,429.6 L503,430 L503,432 L503.1,434 L503.1,436 L503.2,438 L503.2,440 L503.2,442 L503.3,444 L503.3,446 L503.4,448 L503.4,450 L503.5,452 L503.5,454 L503.6,456 L503.6,458 L503.7,460 L503.7,462 L503.8,464 L503.8,466 L503.9,468 L504,470 L504,470.9 L504,472 L504.1,474 L504.2,476 L504.2,478 L504.3,480 L504.4,482 L504.4,484 L504.5,486 L504.5,488 L504.6,490 L504.7,492 L504.7,494 L504.8,496 L504.9,498 L504.9,500 L505,502 L505,503 L505,504 L505.1,506 L505.2,508 L505.2,510 L505.3,512 L505.4,514 L505.5,516 L505.5,518 L505.6,520 L505.7,522 L505.7,524 L505.8,526 L505.8,528 L505.9,530 L505.9,532 L506,534 L506,536 L506,537.6 L506,538 L506,540 L506,542 L506,544 L506,546 L506,548 L506,550 L506,552 L506,554 L506,556 L506,558 L506,560 L506,562 L506,564 L506,566 L506,568 L506,570 L506,572 L506,574 L506,576 L506,578 L506,580 L506,582 L506,584 L506,586 L506,588 L506,590 L506,592 L506,594 L506,596 L506,598 L506,600 L506,602 L506,604 L506,606 L506,608 L506,610 L506,612 L506,614 L506,616 L506,618 L506,620 L506,622 L506,624 L506,626 L506,628 L506,630 L506,632 L506,634 L506,636 L506,638 L506,640 L506,642 L506,644 L506,646 L506,648 L506,650 L506,652 L506,654 L506,656 L506,658 L506,660 L506,662 L506,664 L506,666 L506,668 L506,670 L506,672 L506,674 L506,676 L506,678 L506,680 L506,682 L506,684 L506,686 L506,688 L506,690 L506,692 L506,694 L506,696 L506,698 L506,700 L506,702 L506,704 L506,706 L506,708 L506,710 L506,712 L506,714 L506,716 L506,718 L506,720 L506,722 L506,724 L506,726 L506,728 L506,730 L506,732 L506,734 L506,736 L506,738 L506,740 L506,742 L506,744 L506,746 L506,748 L506,750 L506,752 L506,754 L506,756 L506,758 L506,760 L506,762 L506,764 L506,766 L506,768 L506,770 L506,772 L506,774 L506,776 L506,778 L506,780 L506,782 L506,784 L506,786 L506,788 L506,790 L506,792 L506,794 L506,796 L506,798 L506,800 L506,802 L506,804 L506,806 L506,808 L506,810 L506,812 L506,814 L506,816 L506,818 L506,820 L506,822 L506,824 L506,826 L506,828 L506,830 L506,832 L506,834 L506,836 L506,838 L506,840 L506,842 L506,844 L506,846 L506,848 L506,850 L506,852 L506,854 L506,856 L506,858 L506,860 L506,862 L506,864 L506,866 L506,868 L506,870 L506,872 L506,874 L506,876 L506,878 L506,880 L506,882 L506,884 L506,886 L506,888 L506,890 L506,892 L506,894 L506,896 L506,898 L506,900 L506,902 L506,904 L506,906 L506,906 L505,906 L504,906 L503,906 L502,906 L501,906 L500,906 L499,906 L498,906 L497,906 L496,906 L495,906 L494,906 L493,906 L492,906 L491,906 L490,906 L489,906 L488,906 L487,906 L486,906 L485,906 L484,906 L483,906 L482,906 L481,906 L480,906 L479,906 L478,906 L477,906 L476,906 L475,906 L474,906 L473,906 L472,906 L471,906 L470,906 L469,906 L468,906 L467,906 L466,906 L465,906 L464,906 L463,906 L462,906 L461,906 L460,906 L459,906 L458,906 L457,906 L456,906 L455,906 L454,906 L453,906 L452,906 L451,906 L450,906 L449,906 L448,906 L447,906 L446,906 L445,906 L444,906 L443.9,906 L443.9,904 L443.9,902 L443.9,900 L443.9,898 L443.9,896 L443.9,894 L443.9,892 L443.9,890 L443.9,888 L443.9,886 L443.9,884 L443.9,882 L443.9,880 L443.9,878 L443.9,876 L443.9,874 L443.9,872 L443.9,870 L443.9,868 L443.9,866 L443.9,864 L443.9,862 L443.9,860 L443.9,858 L443.9,856 L443.9,854 L443.9,852 L443.9,850 L443.9,848 L443.9,846 L443.9,844 L443.9,842 L443.9,840 L443.9,838 L443.9,836 L443.9,834 L443.9,832 L443.9,830 L443.9,828 L443.9,826 L443.9,824 L443.9,822 L443.9,820 L443.9,818 L443.9,816 L443.9,814 L443.9,812 L443.9,810 L443.9,808 L443.9,806 L443.9,804 L443.9,802 L443.9,800 L443.9,798 L443.9,796 L443.9,794 L443.9,792 L443.9,790 L443.9,788 L443.9,786 L443.9,784 L443.9,782 L443.9,780 L443.9,778 L443.9,776 L443.9,774 L443.9,772 L443.9,770 L443.9,768 L443.9,766 L443.9,764 L443.9,762 L443.9,760 L443.9,758 L443.9,756 L443.9,754 L443.9,752 L443.9,750 L443.9,748 L443.9,746 L443.9,744 L443.9,742 L443.9,740 L443.9,738 L443.9,736 L443.9,734 L443.9,732 L443.9,730 L443.9,728 L443.9,726 L443.9,724 L443.9,722 L443.9,720 L443.9,718 L443.9,716 L443.9,714 L443.9,712 L443.9,710 L443.9,708 L443.9,706 L443.9,704 L443.9,702 L443.9,700 L443.9,698 L443.9,696 L443.9,694 L443.9,692 L443.9,690 L443.9,688 L443.9,686 L443.9,684 L443.9,682 L443.9,680 L443.9,678 L443.9,676 L443.9,674 L443.9,672 L443.9,670 L443.9,668 L443.9,666 L443.9,664 L443.9,662 L443.9,660 L443.9,658 L443.9,656 L443.9,654 L443.9,652 L443.9,650 L443.9,648 L443.9,646 L443.9,644 L443.9,642 L443.9,640 L443.9,638 L443.9,636 L443.9,634 L443.9,632 L443.9,630 L443.9,628 L443.9,626 L443.9,624 L443.9,622 L443.9,620 L443.9,618 L443.9,616 L443.9,614 L443.9,612 L443.9,610 L443.9,608 L443.9,606 L443.9,604 L443.9,602 L443.9,600 L443.9,598 L443.9,596 L443.9,594 L443.9,592 L443.9,590 L443.9,588 L443.9,586 L443.9,584 L443.9,582 L443.9,580 L443.9,578 L443.9,576 L443.9,574 L443.9,572 L443.9,570 L443.9,568 L443.9,566 L443.9,564 L443.9,562 L443.9,560 L443.9,558 L443.9,556 L443.9,554 L443.9,552 L443.9,550 L443.9,548 L443.9,546 L443.9,544 L443.9,542 L443.9,540 L443.9,538 L443.8,536 L443.8,534 L443.7,532 L443.7,530 L443.6,528 L443.5,526 L443.4,524 L443.3,522 L443.1,520 L443,518 L443,517.6 L442.9,516 L442.8,514 L442.6,512 L442.5,510 L442.4,508 L442.3,506 L442.1,504 L442,502 L442,501.5 L441.9,500 L441.8,498 L441.7,496 L441.6,494 L441.5,492 L441.4,490 L441.3,488 L441.2,486 L441.1,484 L441,482.7 L441,482 L440.9,480 L440.7,478 L440.6,476 L440.5,474 L440.4,472 L440.3,470 L440.2,468 L440.1,466 L440,464 L440,463.9 L439.9,462 L439.8,460 L439.7,458 L439.6,456 L439.5,454 L439.5,452 L439.4,450 L439.3,448 L439.2,446 L439.1,444 L439.1,442 L439,440 L439,439.6 L439,438 L438.9,436 L438.8,434 L438.8,432 L438.7,430 L438.7,428 L438.6,426 L438.5,424 L438.5,422 L438.4,420 L438.4,418 L438.3,416 L438.2,414 L438.2,412 L438.1,410 L438,408 L438,406.8 L438,406 L437.9,404 L437.8,402 L437.7,400 L437.7,398 L437.6,396 L437.5,394 L437.4,392 L437.3,390 L437.2,388 L437.1,386 L437,384 L437,383.8 L436.9,382 L436.8,380 L436.7,378 L436.6,376 L436.4,374 L436.3,372 L436.2,370 L436,368 L436,367.6 L435.9,366 L435.7,364 L435.6,362 L435.4,360 L435.2,358 L435,356 L435,355.9 L434.8,354 L434.6,352 L434.4,350 L434.2,348 L434,346.6 L433.9,346 L433.7,344 L433.4,342 L433.2,340 L433,338.7 L432.9,338 L432.6,336 L432.3,334 L432,332.4 L431.9,332 L431.6,330 L431.2,328 L431,327.1 L430.8,326 L430.4,324 L430,322.2 L430,322 L429.5,320 L429.1,318 L429,317.7 L428.6,316 L428.2,314 L428,313.3 L427.7,312 L427.2,310 L427,309.1 L426.7,308 L426.2,306 L426,305.3 L425.6,304 L425.1,302 L425,301.8 L424.5,300 L424,298.3 L423.9,298 L423.3,296 L423,295 L422.7,294 L422.1,292 L422,291.8 L421.5,290 L421,288.6 L420.8,288 L420.2,286 L420,285.4 L419.5,284 L419,282.4 L418.9,282 L418.2,280 L418,279.4 L417.5,278 L417,276.5 L416.8,276 L416.1,274 L416,273.8 L415.4,272 L415,271 L414.6,270 L414,268.4 L413.9,268 L413.1,266 L413,265.8 L412.3,264 L412,263.4 L411.4,262 L411,261.1 L410.5,260 L410,258.9 L409.6,258 L409,256.7 L408.7,256 L408,254.6 L407.7,254 L407,252.6 L406.7,252 L406,250.7 L405.7,250 L405,248.8 L404.6,248 L404,247 L403.5,246 L403,245.3 L402.3,244 L402,243.6 L401,242.1 L400.9,242 L400,241 L399.2,240 L399,239.8 L398,238.7 L397.5,238 L397,237.4 L396,236 L396,236 L395,234.2 L394.9,234 L394.2,232 L394,231.4 L393.7,230 L393.5,228 L393.2,226Z" fill="#2f9189"/>
<path d="M403.7,226 L404,226 L405,226 L406,226 L407,226 L408,226 L409,226 L410,226 L411,226 L412,226 L413,226 L414,226 L415,226 L416,226 L417,226 L418,226 L419,226 L420,226 L421,226 L422,226 L423,226 L424,226 L425,226 L426,226 L427,226 L428,226 L429,226 L430,226 L431,226 L432,226 L433,226 L434,226 L435,226 L436,226 L437,226 L438,226 L439,226 L440,226 L441,226 L442,226 L443,226 L444,226 L445,226 L446,226 L447,226 L448,226 L449,226 L450,226 L451,226 L452,226 L453,226 L454,226 L455,226 L456,226 L457,226 L458,226 L459,226 L460,226 L460.5,226 L461,226.2 L462,226.5 L463,226.8 L464,227.1 L465,227.3 L466,227.7 L466.3,228 L467,228.4 L468,229.1 L469,229.8 L469.3,230 L470,230.3 L471,230.8 L472,231.2 L473,231.6 L473.8,232 L474,232.1 L475,232.4 L476,232.7 L477,233 L478,233.3 L479,233.7 L480,234 L480.1,234 L481,234.3 L482,234.5 L483,234.8 L484,235.1 L485,235.4 L486,235.7 L487,235.9 L487.2,236 L488,236.2 L489,236.5 L490,236.8 L491,237 L492,237.3 L493,237.6 L494,237.8 L494.6,238 L495,238.1 L496,238.4 L497,238.7 L498,239 L499,239.3 L500,239.6 L501,239.9 L501.4,240 L502,240.2 L503,240.6 L504,240.9 L505,241.3 L506,241.7 L506.9,242 L507,242 L508,242.6 L509,243.1 L510,243.7 L510.6,244 L511,244.3 L512,245 L513,245.7 L513.4,246 L514,246.4 L515,247.2 L516,248 L516,248 L517,248.9 L518,249.8 L518.2,250 L519,250.8 L520,251.8 L520.2,252 L521,252.9 L522,254 L522,254 L523,255.2 L523.6,256 L524,256.5 L525,257.8 L525.1,258 L526,259.2 L526.5,260 L527,260.7 L527.8,262 L528,262.3 L529,264 L529,264 L530,265.8 L530.1,266 L531,267.8 L531.1,268 L532,269.9 L532.1,270 L533,272 L533,272.1 L533.8,274 L534,274.4 L534.7,276 L535,276.9 L535.4,278 L536,279.5 L536.2,280 L536.9,282 L537,282.3 L537.6,284 L538,285.2 L538.2,286 L538.9,288 L539,288.4 L539.5,290 L540,291.8 L540.1,292 L540.6,294 L541,295.3 L541.2,296 L541.7,298 L542,299 L542.3,300 L542.8,302 L543,303 L543.2,304 L543.7,306 L544,307.4 L544.1,308 L544.5,310 L544.9,312 L545,312.4 L545.3,314 L545.6,316 L546,318 L546,318 L546.3,320 L546.7,322 L547,324 L547,324.2 L547.3,326 L547.6,328 L547.8,330 L548,331.2 L548.1,332 L548.3,334 L548.6,336 L548.8,338 L549,340 L549,340.2 L549.2,342 L549.3,344 L549.5,346 L549.7,348 L549.8,350 L550,352 L550,352.7 L550.1,354 L550.2,356 L550.3,358 L550.5,360 L550.6,362 L550.7,364 L550.8,366 L550.9,368 L551,370 L551,370.5 L551.1,372 L551.1,374 L551.2,376 L551.3,378 L551.4,380 L551.4,382 L551.5,384 L551.6,386 L551.6,388 L551.7,390 L551.8,392 L551.8,394 L551.9,396 L551.9,398 L552,400 L552,400.9 L552,402 L552.1,404 L552.1,406 L552.2,408 L552.2,410 L552.2,412 L552.3,414 L552.3,416 L552.4,418 L552.4,420 L552.4,422 L552.5,424 L552.5,426 L552.5,428 L552.6,430 L552.6,432 L552.6,434 L552.7,436 L552.7,438 L552.8,440 L552.8,442 L552.8,444 L552.9,446 L552.9,448 L553,450 L553,450.9 L553,452 L553.1,454 L553.1,456 L553.2,458 L553.2,460 L553.3,462 L553.4,464 L553.4,466 L553.5,468 L553.5,470 L553.6,472 L553.7,474 L553.7,476 L553.8,478 L553.9,480 L553.9,482 L554,484 L554,484.4 L554.1,486 L554.1,488 L554.2,490 L554.2,492 L554.3,494 L554.4,496 L554.4,498 L554.5,500 L554.5,502 L554.6,504 L554.7,506 L554.7,508 L554.8,510 L554.9,512 L555,514 L555,515.2 L555,516 L555.1,518 L555.2,520 L555.2,522 L555.3,524 L555.4,526 L555.4,528 L555.5,530 L555.5,532 L555.5,534 L555.6,536 L555.6,538 L555.6,540 L555.6,542 L555.6,544 L555.6,546 L555.6,548 L555.6,550 L555.6,552 L555.6,554 L555.6,556 L555.6,558 L555.6,560 L555.6,562 L555.6,564 L555.6,566 L555.6,568 L555.6,570 L555.6,572 L555.6,574 L555.6,576 L555.6,578 L555.6,580 L555.6,582 L555.6,584 L555.6,586 L555.6,588 L555.6,590 L555.6,592 L555.6,594 L555.6,596 L555.6,598 L555.6,600 L555.6,602 L555.6,604 L555.6,606 L555.6,608 L555.6,610 L555.6,612 L555.6,614 L555.6,616 L555.6,618 L555.6,620 L555.6,622 L555.6,624 L555.6,626 L555.6,628 L555.6,630 L555.6,632 L555.6,634 L555.6,636 L555.6,638 L555.6,640 L555.6,642 L555.6,644 L555.6,646 L555.6,648 L555.6,650 L555.6,652 L555.6,654 L555.6,656 L555.6,658 L555.6,660 L555.6,662 L555.6,664 L555.6,666 L555.6,668 L555.6,670 L555.6,672 L555.6,674 L555.6,676 L555.6,678 L555.6,680 L555.6,682 L555.6,684 L555.6,686 L555.6,688 L555.6,690 L555.6,692 L555.6,694 L555.6,696 L555.6,698 L555.6,700 L555.6,702 L555.6,704 L555.6,706 L555.6,708 L555.6,710 L555.6,712 L555.6,714 L555.6,716 L555.6,718 L555.6,720 L555.6,722 L555.6,724 L555.6,726 L555.6,728 L555.6,730 L555.6,732 L555.6,734 L555.6,736 L555.6,738 L555.6,740 L555.6,742 L555.6,744 L555.6,746 L555.6,748 L555.6,750 L555.6,752 L555.6,754 L555.6,756 L555.6,758 L555.6,760 L555.6,762 L555.6,764 L555.6,766 L555.6,768 L555.6,770 L555.6,772 L555.6,774 L555.6,776 L555.6,778 L555.6,780 L555.6,782 L555.6,784 L555.6,786 L555.6,788 L555.6,790 L555.6,792 L555.6,794 L555.6,796 L555.6,798 L555.6,800 L555.6,802 L555.6,804 L555.6,806 L555.6,808 L555.6,810 L555.6,812 L555.6,814 L555.6,816 L555.6,818 L555.6,820 L555.6,822 L555.6,824 L555.6,826 L555.6,828 L555.6,830 L555.6,832 L555.6,834 L555.6,836 L555.6,838 L555.6,840 L555.6,842 L555.6,844 L555.6,846 L555.6,848 L555.6,850 L555.6,852 L555.6,854 L555.6,856 L555.6,858 L555.6,860 L555.6,862 L555.6,864 L555.6,866 L555.6,868 L555.6,870 L555.6,872 L555.6,874 L555.6,876 L555.6,878 L555.6,880 L555.6,882 L555.6,884 L555.6,886 L555.6,888 L555.6,890 L555.6,892 L555.6,894 L555.6,896 L555.6,898 L555.6,900 L555.6,902 L555.6,904 L555.6,906 L555,906 L554,906 L553,906 L552,906 L551,906 L550,906 L549,906 L548,906 L547,906 L546,906 L545,906 L544,906 L543,906 L542,906 L541,906 L540,906 L539,906 L538,906 L537,906 L536,906 L535,906 L534,906 L533,906 L532,906 L531,906 L530,906 L529,906 L528,906 L527,906 L526,906 L525,906 L524,906 L523,906 L522,906 L521,906 L520,906 L519,906 L518,906 L517,906 L516,906 L515,906 L514,906 L513,906 L512,906 L511,906 L510,906 L509,906 L508,906 L507,906 L506,906 L506,904 L506,902 L506,900 L506,898 L506,896 L506,894 L506,892 L506,890 L506,888 L506,886 L506,884 L506,882 L506,880 L506,878 L506,876 L506,874 L506,872 L506,870 L506,868 L506,866 L506,864 L506,862 L506,860 L506,858 L506,856 L506,854 L506,852 L506,850 L506,848 L506,846 L506,844 L506,842 L506,840 L506,838 L506,836 L506,834 L506,832 L506,830 L506,828 L506,826 L506,824 L506,822 L506,820 L506,818 L506,816 L506,814 L506,812 L506,810 L506,808 L506,806 L506,804 L506,802 L506,800 L506,798 L506,796 L506,794 L506,792 L506,790 L506,788 L506,786 L506,784 L506,782 L506,780 L506,778 L506,776 L506,774 L506,772 L506,770 L506,768 L506,766 L506,764 L506,762 L506,760 L506,758 L506,756 L506,754 L506,752 L506,750 L506,748 L506,746 L506,744 L506,742 L506,740 L506,738 L506,736 L506,734 L506,732 L506,730 L506,728 L506,726 L506,724 L506,722 L506,720 L506,718 L506,716 L506,714 L506,712 L506,710 L506,708 L506,706 L506,704 L506,702 L506,700 L506,698 L506,696 L506,694 L506,692 L506,690 L506,688 L506,686 L506,684 L506,682 L506,680 L506,678 L506,676 L506,674 L506,672 L506,670 L506,668 L506,666 L506,664 L506,662 L506,660 L506,658 L506,656 L506,654 L506,652 L506,650 L506,648 L506,646 L506,644 L506,642 L506,640 L506,638 L506,636 L506,634 L506,632 L506,630 L506,628 L506,626 L506,624 L506,622 L506,620 L506,618 L506,616 L506,614 L506,612 L506,610 L506,608 L506,606 L506,604 L506,602 L506,600 L506,598 L506,596 L506,594 L506,592 L506,590 L506,588 L506,586 L506,584 L506,582 L506,580 L506,578 L506,576 L506,574 L506,572 L506,570 L506,568 L506,566 L506,564 L506,562 L506,560 L506,558 L506,556 L506,554 L506,552 L506,550 L506,548 L506,546 L506,544 L506,542 L506,540 L506,538 L506,537.6 L506,536 L506,534 L505.9,532 L505.9,530 L505.8,528 L505.8,526 L505.7,524 L505.7,522 L505.6,520 L505.5,518 L505.5,516 L505.4,514 L505.3,512 L505.2,510 L505.2,508 L505.1,506 L505,504 L505,503 L505,502 L504.9,500 L504.9,498 L504.8,496 L504.7,494 L504.7,492 L504.6,490 L504.5,488 L504.5,486 L504.4,484 L504.4,482 L504.3,480 L504.2,478 L504.2,476 L504.1,474 L504,472 L504,470.9 L504,470 L503.9,468 L503.8,466 L503.8,464 L503.7,462 L503.7,460 L503.6,458 L503.6,456 L503.5,454 L503.5,452 L503.4,450 L503.4,448 L503.3,446 L503.3,444 L503.2,442 L503.2,440 L503.2,438 L503.1,436 L503.1,434 L503,432 L503,430 L503,429.6 L503,428 L502.9,426 L502.9,424 L502.9,422 L502.8,420 L502.8,418 L502.8,416 L502.7,414 L502.7,412 L502.6,410 L502.6,408 L502.6,406 L502.5,404 L502.5,402 L502.4,400 L502.4,398 L502.3,396 L502.2,394 L502.2,392 L502.1,390 L502.1,388 L502,386 L502,385.6 L501.9,384 L501.9,382 L501.8,380 L501.7,378 L501.7,376 L501.6,374 L501.5,372 L501.4,370 L501.3,368 L501.2,366 L501.1,364 L501,362 L501,361.8 L500.9,360 L500.8,358 L500.7,356 L500.5,354 L500.4,352 L500.2,350 L500.1,348 L500,346.9 L499.9,346 L499.8,344 L499.6,342 L499.4,340 L499.2,338 L499,336 L499,336 L498.8,334 L498.5,332 L498.3,330 L498,328 L498,328 L497.7,326 L497.4,324 L497.1,322 L497,321.5 L496.8,320 L496.4,318 L496.1,316 L496,315.6 L495.7,314 L495.4,312 L495,310.2 L495,310 L494.6,308 L494.1,306 L494,305.5 L493.7,304 L493.2,302 L493,301.3 L492.7,300 L492.2,298 L492,297.4 L491.6,296 L491.1,294 L491,293.8 L490.5,292 L490,290.3 L489.9,290 L489.3,288 L489,287 L488.7,286 L488,284 L488,283.9 L487.3,282 L487,281.1 L486.6,280 L486,278.3 L485.9,278 L485.1,276 L485,275.8 L484.3,274 L484,273.4 L483.4,272 L483,271.1 L482.5,270 L482,269 L481.5,268 L481,266.9 L480.5,266 L480,265 L479.4,264 L479,263.3 L478.2,262 L478,261.6 L477,260 L477,260 L476,258.6 L475.6,258 L475,257.2 L474.1,256 L474,255.9 L473,254.7 L472.4,254 L472,253.5 L471,252.4 L470.6,252 L470,251.4 L469,250.4 L468.6,250 L468,249.4 L467,248.5 L466.4,248 L466,247.7 L465,247.2 L464,246.9 L463,246.6 L462,246.3 L461.1,246 L461,246 L460,245.7 L459,245.4 L458,245.1 L457,244.8 L456,244.5 L455,244.1 L454.6,244 L454,243.9 L453,243.6 L452,243.3 L451,243.1 L450,242.8 L449,242.5 L448,242.3 L447.1,242 L447,242 L446,241.8 L445,241.6 L444,241.4 L443,241.2 L442,241 L441,240.8 L440,240.6 L439,240.4 L438,240.1 L437.4,240 L437,239.9 L436,239.7 L435,239.5 L434,239.3 L433,239.1 L432,238.9 L431,238.7 L430,238.5 L429,238.3 L428,238.1 L427.7,238 L427,237.8 L426,237.6 L425,237.4 L424,237.1 L423,236.9 L422,236.7 L421,236.4 L420,236.1 L419.6,236 L419,235.8 L418,235.5 L417,235.2 L416,234.9 L415,234.6 L414,234.2 L413.3,234 L413,233.9 L412,233.4 L411,233 L410,232.5 L409,232 L409,232 L408,231.3 L407,230.5 L406.4,230 L406,229.5 L405,228.1 L404.9,228 L404,226.5 L403.7,226Z" fill="#419f97"/>
<path d="M460.5,226 L461,226 L462,226 L463,226 L464,226 L465,226 L466,226 L467,226 L468,226 L469,226 L470,226 L471,226 L472,226 L473,226 L474,226 L475,226 L476,226 L477,226 L478,226 L479,226 L480,226 L481,226 L482,226 L483,226 L484,226 L485,226 L486,226 L487,226 L488,226 L489,226 L490,226 L491,226 L492,226 L493,226 L494,226 L495,226 L496,226 L497,226 L498,226 L499,226 L500,226 L501,226 L502,226 L503,226 L504,226 L505,226 L506,226 L507,226 L508,226 L509,226 L510,226 L511,226 L512,226 L512.7,226 L513,226.2 L514,226.9 L515,227.7 L515.4,228 L516,228.4 L517,229.1 L518,229.7 L518.4,230 L519,230.3 L520,230.7 L521,231.2 L522,231.6 L522.9,232 L523,232 L524,232.3 L525,232.7 L526,233 L527,233.3 L528,233.6 L529,233.9 L529.2,234 L530,234.2 L531,234.5 L532,234.8 L533,235.1 L534,235.4 L535,235.6 L536,235.9 L536.3,236 L537,236.2 L538,236.5 L539,236.7 L540,237 L541,237.3 L542,237.5 L543,237.8 L543.7,238 L544,238.1 L545,238.4 L546,238.7 L547,239 L548,239.3 L549,239.6 L550,239.9 L550.5,240 L551,240.2 L552,240.5 L553,240.9 L554,241.3 L555,241.6 L556,242 L556,242 L557,242.5 L558,243.1 L559,243.6 L559.7,244 L560,244.2 L561,244.9 L562,245.6 L562.5,246 L563,246.4 L564,247.2 L565,247.9 L565.1,248 L566,248.8 L567,249.7 L567.3,250 L568,250.7 L569,251.7 L569.3,252 L570,252.8 L571,253.9 L571.1,254 L572,255.1 L572.7,256 L573,256.4 L574,257.7 L574.2,258 L575,259.1 L575.6,260 L576,260.6 L576.9,262 L577,262.1 L578,263.8 L578.1,264 L579,265.7 L579.2,266 L580,267.6 L580.2,268 L581,269.7 L581.2,270 L582,271.8 L582.1,272 L582.9,274 L583,274.2 L583.8,276 L584,276.6 L584.5,278 L585,279.2 L585.3,280 L586,282 L586,282 L586.7,284 L587,284.9 L587.3,286 L588,288 L588,288.1 L588.6,290 L589,291.4 L589.2,292 L589.7,294 L590,295 L590.3,296 L590.8,298 L591,298.7 L591.3,300 L591.9,302 L592,302.6 L592.3,304 L592.8,306 L593,307 L593.2,308 L593.6,310 L594,311.9 L594,312 L594.4,314 L594.7,316 L595,317.5 L595.1,318 L595.4,320 L595.8,322 L596,323.6 L596.1,324 L596.4,326 L596.7,328 L596.9,330 L597,330.5 L597.2,332 L597.4,334 L597.7,336 L597.9,338 L598,339.2 L598.1,340 L598.3,342 L598.4,344 L598.6,346 L598.8,348 L598.9,350 L599,351.3 L599,352 L599.2,354 L599.3,356 L599.4,358 L599.6,360 L599.7,362 L599.8,364 L599.9,366 L600,368 L600,368.3 L600.1,370 L600.2,372 L600.2,374 L600.3,376 L600.4,378 L600.5,380 L600.5,382 L600.6,384 L600.7,386 L600.7,388 L600.8,390 L600.9,392 L600.9,394 L601,396 L601,397.1 L601,398 L601.1,400 L601.1,402 L601.2,404 L601.2,406 L601.3,408 L601.3,410 L601.3,412 L601.4,414 L601.4,416 L601.5,418 L601.5,420 L601.5,422 L601.6,424 L601.6,426 L601.6,428 L601.7,430 L601.7,432 L601.7,434 L601.8,436 L601.8,438 L601.9,440 L601.9,442 L601.9,444 L602,446 L602,446.7 L602,448 L602.1,450 L602.1,452 L602.2,454 L602.2,456 L602.3,458 L602.3,460 L602.4,462 L602.5,464 L602.5,466 L602.6,468 L602.6,470 L602.7,472 L602.8,474 L602.8,476 L602.9,478 L603,480 L603,481.3 L603,482 L603.1,484 L603.1,486 L603.2,488 L603.3,490 L603.3,492 L603.4,494 L603.5,496 L603.5,498 L603.6,500 L603.6,502 L603.7,504 L603.8,506 L603.8,508 L603.9,510 L604,512 L604,512.5 L604.1,514 L604.1,516 L604.2,518 L604.3,520 L604.3,522 L604.4,524 L604.5,526 L604.5,528 L604.6,530 L604.6,532 L604.6,534 L604.7,536 L604.7,538 L604.7,540 L604.7,542 L604.7,544 L604.7,546 L604.7,548 L604.7,550 L604.7,552 L604.7,554 L604.7,556 L604.7,558 L604.7,560 L604.7,562 L604.7,564 L604.7,566 L604.7,568 L604.7,570 L604.7,572 L604.7,574 L604.7,576 L604.7,578 L604.7,580 L604.7,582 L604.7,584 L604.7,586 L604.7,588 L604.7,590 L604.7,592 L604.7,594 L604.7,596 L604.7,598 L604.7,600 L604.7,602 L604.7,604 L604.7,606 L604.7,608 L604.7,610 L604.7,612 L604.7,614 L604.7,616 L604.7,618 L604.7,620 L604.7,622 L604.7,624 L604.7,626 L604.7,628 L604.7,630 L604.7,632 L604.7,634 L604.7,636 L604.7,638 L604.7,640 L604.7,642 L604.7,644 L604.7,646 L604.7,648 L604.7,650 L604.7,652 L604.7,654 L604.7,656 L604.7,658 L604.7,660 L604.7,662 L604.7,664 L604.7,666 L604.7,668 L604.7,670 L604.7,672 L604.7,674 L604.7,676 L604.7,678 L604.7,680 L604.7,682 L604.7,684 L604.7,686 L604.7,688 L604.7,690 L604.7,692 L604.7,694 L604.7,696 L604.7,698 L604.7,700 L604.7,702 L604.7,704 L604.7,706 L604.7,708 L604.7,710 L604.7,712 L604.7,714 L604.7,716 L604.7,718 L604.7,720 L604.7,722 L604.7,724 L604.7,726 L604.7,728 L604.7,730 L604.7,732 L604.7,734 L604.7,736 L604.7,738 L604.7,740 L604.7,742 L604.7,744 L604.7,746 L604.7,748 L604.7,750 L604.7,752 L604.7,754 L604.7,756 L604.7,758 L604.7,760 L604.7,762 L604.7,764 L604.7,766 L604.7,768 L604.7,770 L604.7,772 L604.7,774 L604.7,776 L604.7,778 L604.7,780 L604.7,782 L604.7,784 L604.7,786 L604.7,788 L604.7,790 L604.7,792 L604.7,794 L604.7,796 L604.7,798 L604.7,800 L604.7,802 L604.7,804 L604.7,806 L604.7,808 L604.7,810 L604.7,812 L604.7,814 L604.7,816 L604.7,818 L604.7,820 L604.7,822 L604.7,824 L604.7,826 L604.7,828 L604.7,830 L604.7,832 L604.7,834 L604.7,836 L604.7,838 L604.7,840 L604.7,842 L604.7,844 L604.7,846 L604.7,848 L604.7,850 L604.7,852 L604.7,854 L604.7,856 L604.7,858 L604.7,860 L604.7,862 L604.7,864 L604.7,866 L604.7,868 L604.7,870 L604.7,872 L604.7,874 L604.7,876 L604.7,878 L604.7,880 L604.7,882 L604.7,884 L604.7,886 L604.7,888 L604.7,890 L604.7,892 L604.7,894 L604.7,896 L604.7,898 L604.7,900 L604.7,902 L604.7,904 L604.7,906 L604,906 L603,906 L602,906 L601,906 L600,906 L599,906 L598,906 L597,906 L596,906 L595,906 L594,906 L593,906 L592,906 L591,906 L590,906 L589,906 L588,906 L587,906 L586,906 L585,906 L584,906 L583,906 L582,906 L581,906 L580,906 L579,906 L578,906 L577,906 L576,906 L575,906 L574,906 L573,906 L572,906 L571,906 L570,906 L569,906 L568,906 L567,906 L566,906 L565,906 L564,906 L563,906 L562,906 L561,906 L560,906 L559,906 L558,906 L557,906 L556,906 L555.6,906 L555.6,904 L555.6,902 L555.6,900 L555.6,898 L555.6,896 L555.6,894 L555.6,892 L555.6,890 L555.6,888 L555.6,886 L555.6,884 L555.6,882 L555.6,880 L555.6,878 L555.6,876 L555.6,874 L555.6,872 L555.6,870 L555.6,868 L555.6,866 L555.6,864 L555.6,862 L555.6,860 L555.6,858 L555.6,856 L555.6,854 L555.6,852 L555.6,850 L555.6,848 L555.6,846 L555.6,844 L555.6,842 L555.6,840 L555.6,838 L555.6,836 L555.6,834 L555.6,832 L555.6,830 L555.6,828 L555.6,826 L555.6,824 L555.6,822 L555.6,820 L555.6,818 L555.6,816 L555.6,814 L555.6,812 L555.6,810 L555.6,808 L555.6,806 L555.6,804 L555.6,802 L555.6,800 L555.6,798 L555.6,796 L555.6,794 L555.6,792 L555.6,790 L555.6,788 L555.6,786 L555.6,784 L555.6,782 L555.6,780 L555.6,778 L555.6,776 L555.6,774 L555.6,772 L555.6,770 L555.6,768 L555.6,766 L555.6,764 L555.6,762 L555.6,760 L555.6,758 L555.6,756 L555.6,754 L555.6,752 L555.6,750 L555.6,748 L555.6,746 L555.6,744 L555.6,742 L555.6,740 L555.6,738 L555.6,736 L555.6,734 L555.6,732 L555.6,730 L555.6,728 L555.6,726 L555.6,724 L555.6,722 L555.6,720 L555.6,718 L555.6,716 L555.6,714 L555.6,712 L555.6,710 L555.6,708 L555.6,706 L555.6,704 L555.6,702 L555.6,700 L555.6,698 L555.6,696 L555.6,694 L555.6,692 L555.6,690 L555.6,688 L555.6,686 L555.6,684 L555.6,682 L555.6,680 L555.6,678 L555.6,676 L555.6,674 L555.6,672 L555.6,670 L555.6,668 L555.6,666 L555.6,664 L555.6,662 L555.6,660 L555.6,658 L555.6,656 L555.6,654 L555.6,652 L555.6,650 L555.6,648 L555.6,646 L555.6,644 L555.6,642 L555.6,640 L555.6,638 L555.6,636 L555.6,634 L555.6,632 L555.6,630 L555.6,628 L555.6,626 L555.6,624 L555.6,622 L555.6,620 L555.6,618 L555.6,616 L555.6,614 L555.6,612 L555.6,610 L555.6,608 L555.6,606 L555.6,604 L555.6,602 L555.6,600 L555.6,598 L555.6,596 L555.6,594 L555.6,592 L555.6,590 L555.6,588 L555.6,586 L555.6,584 L555.6,582 L555.6,580 L555.6,578 L555.6,576 L555.6,574 L555.6,572 L555.6,570 L555.6,568 L555.6,566 L555.6,564 L555.6,562 L555.6,560 L555.6,558 L555.6,556 L555.6,554 L555.6,552 L555.6,550 L555.6,548 L555.6,546 L555.6,544 L555.6,542 L555.6,540 L555.6,538 L555.6,536 L555.5,534 L555.5,532 L555.5,530 L555.4,528 L555.4,526 L555.3,524 L555.2,522 L555.2,520 L555.1,518 L555,516 L555,515.2 L555,514 L554.9,512 L554.8,510 L554.7,508 L554.7,506 L554.6,504 L554.5,502 L554.5,500 L554.4,498 L554.4,496 L554.3,494 L554.2,492 L554.2,490 L554.1,488 L554.1,486 L554,484.4 L554,484 L553.9,482 L553.9,480 L553.8,478 L553.7,476 L553.7,474 L553.6,472 L553.5,470 L553.5,468 L553.4,466 L553.4,464 L553.3,462 L553.2,460 L553.2,458 L553.1,456 L553.1,454 L553,452 L553,450.9 L553,450 L552.9,448 L552.9,446 L552.8,444 L552.8,442 L552.8,440 L552.7,438 L552.7,436 L552.6,434 L552.6,432 L552.6,430 L552.5,428 L552.5,426 L552.5,424 L552.4,422 L552.4,420 L552.4,418 L552.3,416 L552.3,414 L552.2,412 L552.2,410 L552.2,408 L552.1,406 L552.1,404 L552,402 L552,400.9 L552,400 L551.9,398 L551.9,396 L551.8,394 L551.8,392 L551.7,390 L551.6,388 L551.6,386 L551.5,384 L551.4,382 L551.4,380 L551.3,378 L551.2,376 L551.1,374 L551.1,372 L551,370.5 L551,370 L550.9,368 L550.8,366 L550.7,364 L550.6,362 L550.5,360 L550.3,358 L550.2,356 L550.1,354 L550,352.7 L550,352 L549.8,350 L549.7,348 L549.5,346 L549.3,344 L549.2,342 L549,340.2 L549,340 L548.8,338 L548.6,336 L548.3,334 L548.1,332 L548,331.2 L547.8,330 L547.6,328 L547.3,326 L547,324.2 L547,324 L546.7,322 L546.3,320 L546,318 L546,318 L545.6,316 L545.3,314 L545,312.4 L544.9,312 L544.5,310 L544.1,308 L544,307.4 L543.7,306 L543.2,304 L543,303 L542.8,302 L542.3,300 L542,299 L541.7,298 L541.2,296 L541,295.3 L540.6,294 L540.1,292 L540,291.8 L539.5,290 L539,288.4 L538.9,288 L538.2,286 L538,285.2 L537.6,284 L537,282.3 L536.9,282 L536.2,280 L536,279.5 L535.4,278 L535,276.9 L534.7,276 L534,274.4 L533.8,274 L533,272.1 L533,272 L532.1,270 L532,269.9 L531.1,268 L531,267.8 L530.1,266 L530,265.8 L529,264 L529,264 L528,262.3 L527.8,262 L527,260.7 L526.5,260 L526,259.2 L525.1,258 L525,257.8 L524,256.5 L523.6,256 L523,255.2 L522,254 L522,254 L521,252.9 L520.2,252 L520,251.8 L519,250.8 L518.2,250 L518,249.8 L517,248.9 L516,248 L516,248 L515,247.2 L514,246.4 L513.4,246 L513,245.7 L512,245 L511,244.3 L510.6,244 L510,243.7 L509,243.1 L508,242.6 L507,242 L506.9,242 L506,241.7 L505,241.3 L504,240.9 L503,240.6 L502,240.2 L501.4,240 L501,239.9 L500,239.6 L499,239.3 L498,239 L497,238.7 L496,238.4 L495,238.1 L494.6,238 L494,237.8 L493,237.6 L492,237.3 L491,237 L490,236.8 L489,236.5 L488,236.2 L487.2,236 L487,235.9 L486,235.7 L485,235.4 L484,235.1 L483,234.8 L482,234.5 L481,234.3 L480.1,234 L480,234 L479,233.7 L478,233.3 L477,233 L476,232.7 L475,232.4 L474,232.1 L473.8,232 L473,231.6 L472,231.2 L471,230.8 L470,230.3 L469.3,230 L469,229.8 L468,229.1 L467,228.4 L466.3,228 L466,227.7 L465,227.3 L464,227.1 L463,226.8 L462,226.5 L461,226.2 L460.5,226Z" fill="#52aca3"/>
<path d="M512.7,226 L513,226 L514,226 L515,226 L516,226 L517,226 L518,226 L519,226 L520,226 L521,226 L522,226 L523,226 L524,226 L525,226 L526,226 L527,226 L528,226 L529,226 L530,226 L531,226 L532,226 L533,226 L534,226 L535,226 L536,226 L537,226 L538,226 L539,226 L540,226 L541,226 L542,226 L543,226 L544,226 L545,226 L546,226 L547,226 L548,226 L549,226 L550,226 L551,226 L552,226 L553,226 L554,226 L555,226 L556,226 L557,226 L558,226 L559,226 L560,226 L561,226 L561.4,226 L562,226.4 L563,227.1 L564,227.9 L564.2,228 L565,228.6 L566,229.2 L567,229.9 L567.1,230 L568,230.4 L569,230.8 L570,231.3 L571,231.7 L571.7,232 L572,232.1 L573,232.4 L574,232.8 L575,233.1 L576,233.4 L577,233.7 L577.9,234 L578,234 L579,234.3 L580,234.6 L581,234.9 L582,235.1 L583,235.4 L584,235.7 L585,236 L585,236 L586,236.3 L587,236.5 L588,236.8 L589,237.1 L590,237.3 L591,237.6 L592,237.9 L592.4,238 L593,238.2 L594,238.5 L595,238.8 L596,239.1 L597,239.3 L598,239.6 L599,239.9 L599.2,240 L600,240.3 L601,240.6 L602,241 L603,241.4 L604,241.7 L604.7,242 L605,242.1 L606,242.7 L607,243.2 L608,243.8 L608.4,244 L609,244.4 L610,245.1 L611,245.8 L611.3,246 L612,246.6 L613,247.4 L613.8,248 L614,248.2 L615,249.1 L616,250 L616,250 L617,251 L618,252 L618,252 L619,253.1 L619.8,254 L620,254.2 L621,255.4 L621.5,256 L622,256.7 L623,258 L623,258 L624,259.5 L624.4,260 L625,261 L625.6,262 L626,262.6 L626.8,264 L627,264.3 L627.9,266 L628,266.2 L628.9,268 L629,268.1 L629.9,270 L630,270.2 L630.8,272 L631,272.5 L631.7,274 L632,274.8 L632.5,276 L633,277.3 L633.3,278 L634,280 L634,280 L634.7,282 L635,282.8 L635.4,284 L636,285.8 L636.1,286 L636.7,288 L637,289 L637.3,290 L637.9,292 L638,292.4 L638.5,294 L639,295.9 L639,296 L639.6,298 L640,299.7 L640.1,300 L640.6,302 L641,303.8 L641.1,304 L641.5,306 L642,308 L642,308.2 L642.4,310 L642.7,312 L643,313.4 L643.1,314 L643.5,316 L643.8,318 L644,319.1 L644.2,320 L644.5,322 L644.8,324 L645,325.3 L645.1,326 L645.4,328 L645.7,330 L645.9,332 L646,332.6 L646.2,334 L646.4,336 L646.6,338 L646.8,340 L647,342 L647,342.2 L647.2,344 L647.3,346 L647.5,348 L647.6,350 L647.8,352 L647.9,354 L648,355.3 L648,356 L648.2,358 L648.3,360 L648.4,362 L648.5,364 L648.6,366 L648.7,368 L648.8,370 L648.9,372 L649,374 L649,374.6 L649.1,376 L649.1,378 L649.2,380 L649.3,382 L649.3,384 L649.4,386 L649.5,388 L649.5,390 L649.6,392 L649.6,394 L649.7,396 L649.8,398 L649.8,400 L649.9,402 L649.9,404 L649.9,406 L650,408 L650,408.4 L650,410 L650.1,412 L650.1,414 L650.2,416 L650.2,418 L650.2,420 L650.3,422 L650.3,424 L650.3,426 L650.4,428 L650.4,430 L650.4,432 L650.5,434 L650.5,436 L650.5,438 L650.6,440 L650.6,442 L650.7,444 L650.7,446 L650.8,448 L650.8,450 L650.9,452 L650.9,454 L651,456 L651,457.6 L651,458 L651.1,460 L651.1,462 L651.2,464 L651.2,466 L651.3,468 L651.4,470 L651.4,472 L651.5,474 L651.6,476 L651.6,478 L651.7,480 L651.7,482 L651.8,484 L651.9,486 L651.9,488 L652,489.9 L652,490 L652.1,492 L652.1,494 L652.2,496 L652.2,498 L652.3,500 L652.4,502 L652.4,504 L652.5,506 L652.6,508 L652.6,510 L652.7,512 L652.8,514 L652.9,516 L652.9,518 L653,520 L653,520.1 L653.1,522 L653.1,524 L653.2,526 L653.2,528 L653.3,530 L653.3,532 L653.4,534 L653.4,536 L653.4,538 L653.4,540 L653.4,542 L653.4,544 L653.4,546 L653.4,548 L653.4,550 L653.4,552 L653.4,554 L653.4,556 L653.4,558 L653.4,560 L653.4,562 L653.4,564 L653.4,566 L653.4,568 L653.4,570 L653.4,572 L653.4,574 L653.4,576 L653.4,578 L653.4,580 L653.4,582 L653.4,584 L653.4,586 L653.4,588 L653.4,590 L653.4,592 L653.4,594 L653.4,596 L653.4,598 L653.4,600 L653.4,602 L653.4,604 L653.4,606 L653.4,608 L653.4,610 L653.4,612 L653.4,614 L653.4,616 L653.4,618 L653.4,620 L653.4,622 L653.4,624 L653.4,626 L653.4,628 L653.4,630 L653.4,632 L653.4,634 L653.4,636 L653.4,638 L653.4,640 L653.4,642 L653.4,644 L653.4,646 L653.4,648 L653.4,650 L653.4,652 L653.4,654 L653.4,656 L653.4,658 L653.4,660 L653.4,662 L653.4,664 L653.4,666 L653.4,668 L653.4,670 L653.4,672 L653.4,674 L653.4,676 L653.4,678 L653.4,680 L653.4,682 L653.4,684 L653.4,686 L653.4,688 L653.4,690 L653.4,692 L653.4,694 L653.4,696 L653.4,698 L653.4,700 L653.4,702 L653.4,704 L653.4,706 L653.4,708 L653.4,710 L653.4,712 L653.4,714 L653.4,716 L653.4,718 L653.4,720 L653.4,722 L653.4,724 L653.4,726 L653.4,728 L653.4,730 L653.4,732 L653.4,734 L653.4,736 L653.4,738 L653.4,740 L653.4,742 L653.4,744 L653.4,746 L653.4,748 L653.4,750 L653.4,752 L653.4,754 L653.4,756 L653.4,758 L653.4,760 L653.4,762 L653.4,764 L653.4,766 L653.4,768 L653.4,770 L653.4,772 L653.4,774 L653.4,776 L653.4,778 L653.4,780 L653.4,782 L653.4,784 L653.4,786 L653.4,788 L653.4,790 L653.4,792 L653.4,794 L653.4,796 L653.4,798 L653.4,800 L653.4,802 L653.4,804 L653.4,806 L653.4,808 L653.4,810 L653.4,812 L653.4,814 L653.4,816 L653.4,818 L653.4,820 L653.4,822 L653.4,824 L653.4,826 L653.4,828 L653.4,830 L653.4,832 L653.4,834 L653.4,836 L653.4,838 L653.4,840 L653.4,842 L653.4,844 L653.4,846 L653.4,848 L653.4,850 L653.4,852 L653.4,854 L653.4,856 L653.4,858 L653.4,860 L653.4,862 L653.4,864 L653.4,866 L653.4,868 L653.4,870 L653.4,872 L653.4,874 L653.4,876 L653.4,878 L653.4,880 L653.4,882 L653.4,884 L653.4,886 L653.4,888 L653.4,890 L653.4,892 L653.4,894 L653.4,896 L653.4,898 L653.4,900 L653.4,902 L653.4,904 L653.4,906 L653,906 L652,906 L651,906 L650,906 L649,906 L648,906 L647,906 L646,906 L645,906 L644,906 L643,906 L642,906 L641,906 L640,906 L639,906 L638,906 L637,906 L636,906 L635,906 L634,906 L633,906 L632,906 L631,906 L630,906 L629,906 L628,906 L627,906 L626,906 L625,906 L624,906 L623,906 L622,906 L621,906 L620,906 L619,906 L618,906 L617,906 L616,906 L615,906 L614,906 L613,906 L612,906 L611,906 L610,906 L609,906 L608,906 L607,906 L606,906 L605,906 L604.7,906 L604.7,904 L604.7,902 L604.7,900 L604.7,898 L604.7,896 L604.7,894 L604.7,892 L604.7,890 L604.7,888 L604.7,886 L604.7,884 L604.7,882 L604.7,880 L604.7,878 L604.7,876 L604.7,874 L604.7,872 L604.7,870 L604.7,868 L604.7,866 L604.7,864 L604.7,862 L604.7,860 L604.7,858 L604.7,856 L604.7,854 L604.7,852 L604.7,850 L604.7,848 L604.7,846 L604.7,844 L604.7,842 L604.7,840 L604.7,838 L604.7,836 L604.7,834 L604.7,832 L604.7,830 L604.7,828 L604.7,826 L604.7,824 L604.7,822 L604.7,820 L604.7,818 L604.7,816 L604.7,814 L604.7,812 L604.7,810 L604.7,808 L604.7,806 L604.7,804 L604.7,802 L604.7,800 L604.7,798 L604.7,796 L604.7,794 L604.7,792 L604.7,790 L604.7,788 L604.7,786 L604.7,784 L604.7,782 L604.7,780 L604.7,778 L604.7,776 L604.7,774 L604.7,772 L604.7,770 L604.7,768 L604.7,766 L604.7,764 L604.7,762 L604.7,760 L604.7,758 L604.7,756 L604.7,754 L604.7,752 L604.7,750 L604.7,748 L604.7,746 L604.7,744 L604.7,742 L604.7,740 L604.7,738 L604.7,736 L604.7,734 L604.7,732 L604.7,730 L604.7,728 L604.7,726 L604.7,724 L604.7,722 L604.7,720 L604.7,718 L604.7,716 L604.7,714 L604.7,712 L604.7,710 L604.7,708 L604.7,706 L604.7,704 L604.7,702 L604.7,700 L604.7,698 L604.7,696 L604.7,694 L604.7,692 L604.7,690 L604.7,688 L604.7,686 L604.7,684 L604.7,682 L604.7,680 L604.7,678 L604.7,676 L604.7,674 L604.7,672 L604.7,670 L604.7,668 L604.7,666 L604.7,664 L604.7,662 L604.7,660 L604.7,658 L604.7,656 L604.7,654 L604.7,652 L604.7,650 L604.7,648 L604.7,646 L604.7,644 L604.7,642 L604.7,640 L604.7,638 L604.7,636 L604.7,634 L604.7,632 L604.7,630 L604.7,628 L604.7,626 L604.7,624 L604.7,622 L604.7,620 L604.7,618 L604.7,616 L604.7,614 L604.7,612 L604.7,610 L604.7,608 L604.7,606 L604.7,604 L604.7,602 L604.7,600 L604.7,598 L604.7,596 L604.7,594 L604.7,592 L604.7,590 L604.7,588 L604.7,586 L604.7,584 L604.7,582 L604.7,580 L604.7,578 L604.7,576 L604.7,574 L604.7,572 L604.7,570 L604.7,568 L604.7,566 L604.7,564 L604.7,562 L604.7,560 L604.7,558 L604.7,556 L604.7,554 L604.7,552 L604.7,550 L604.7,548 L604.7,546 L604.7,544 L604.7,542 L604.7,540 L604.7,538 L604.7,536 L604.6,534 L604.6,532 L604.6,530 L604.5,528 L604.5,526 L604.4,524 L604.3,522 L604.3,520 L604.2,518 L604.1,516 L604.1,514 L604,512.5 L604,512 L603.9,510 L603.8,508 L603.8,506 L603.7,504 L603.6,502 L603.6,500 L603.5,498 L603.5,496 L603.4,494 L603.3,492 L603.3,490 L603.2,488 L603.1,486 L603.1,484 L603,482 L603,481.3 L603,480 L602.9,478 L602.8,476 L602.8,474 L602.7,472 L602.6,470 L602.6,468 L602.5,466 L602.5,464 L602.4,462 L602.3,460 L602.3,458 L602.2,456 L602.2,454 L602.1,452 L602.1,450 L602,448 L602,446.7 L602,446 L601.9,444 L601.9,442 L601.9,440 L601.8,438 L601.8,436 L601.7,434 L601.7,432 L601.7,430 L601.6,428 L601.6,426 L601.6,424 L601.5,422 L601.5,420 L601.5,418 L601.4,416 L601.4,414 L601.3,412 L601.3,410 L601.3,408 L601.2,406 L601.2,404 L601.1,402 L601.1,400 L601,398 L601,397.1 L601,396 L600.9,394 L600.9,392 L600.8,390 L600.7,388 L600.7,386 L600.6,384 L600.5,382 L600.5,380 L600.4,378 L600.3,376 L600.2,374 L600.2,372 L600.1,370 L600,368.3 L600,368 L599.9,366 L599.8,364 L599.7,362 L599.6,360 L599.4,358 L599.3,356 L599.2,354 L599,352 L599,351.3 L598.9,350 L598.8,348 L598.6,346 L598.4,344 L598.3,342 L598.1,340 L598,339.2 L597.9,338 L597.7,336 L597.4,334 L597.2,332 L597,330.5 L596.9,330 L596.7,328 L596.4,326 L596.1,324 L596,323.6 L595.8,322 L595.4,320 L595.1,318 L595,317.5 L594.7,316 L594.4,314 L594,312 L594,311.9 L593.6,310 L593.2,308 L593,307 L592.8,306 L592.3,304 L592,302.6 L591.9,302 L591.3,300 L591,298.7 L590.8,298 L590.3,296 L590,295 L589.7,294 L589.2,292 L589,291.4 L588.6,290 L588,288.1 L588,288 L587.3,286 L587,284.9 L586.7,284 L586,282 L586,282 L585.3,280 L585,279.2 L584.5,278 L584,276.6 L583.8,276 L583,274.2 L582.9,274 L582.1,272 L582,271.8 L581.2,270 L581,269.7 L580.2,268 L580,267.6 L579.2,266 L579,265.7 L578.1,264 L578,263.8 L577,262.1 L576.9,262 L576,260.6 L575.6,260 L575,259.1 L574.2,258 L574,257.7 L573,256.4 L572.7,256 L572,255.1 L571.1,254 L571,253.9 L570,252.8 L569.3,252 L569,251.7 L568,250.7 L567.3,250 L567,249.7 L566,248.8 L565.1,248 L565,247.9 L564,247.2 L563,246.4 L562.5,246 L562,245.6 L561,244.9 L560,244.2 L559.7,244 L559,243.6 L558,243.1 L557,242.5 L556,242 L556,242 L555,241.6 L554,241.3 L553,240.9 L552,240.5 L551,240.2 L550.5,240 L550,239.9 L549,239.6 L548,239.3 L547,239 L546,238.7 L545,238.4 L544,238.1 L543.7,238 L543,237.8 L542,237.5 L541,237.3 L540,237 L539,236.7 L538,236.5 L537,236.2 L536.3,236 L536,235.9 L535,235.6 L534,235.4 L533,235.1 L532,234.8 L531,234.5 L530,234.2 L529.2,234 L529,233.9 L528,233.6 L527,233.3 L526,233 L525,232.7 L524,232.3 L523,232 L522.9,232 L522,231.6 L521,231.2 L520,230.7 L519,230.3 L518.4,230 L518,229.7 L517,229.1 L516,228.4 L515.4,228 L515,227.7 L514,226.9 L513,226.2 L512.7,226Z" fill="#67bbb0"/>
<path d="M561.4,226 L562,226 L563,226 L564,226 L565,226 L566,226 L567,226 L568,226 L569,226 L570,226 L571,226 L572,226 L573,226 L574,226 L575,226 L576,226 L577,226 L578,226 L579,226 L580,226 L581,226 L582,226 L583,226 L584,226 L585,226 L586,226 L587,226 L588,226 L589,226 L590,226 L591,226 L592,226 L593,226 L594,226 L595,226 L596,226 L597,226 L598,226 L599,226 L600,226 L601,226 L602,226 L603,226 L604,226 L605,226 L606,226 L607,226 L608,226 L609,226 L609.6,226 L610,226.3 L611,227 L612,227.7 L612.4,228 L613,228.4 L614,229.1 L615,229.8 L615.3,230 L616,230.3 L617,230.8 L618,231.2 L619,231.6 L619.8,232 L620,232 L621,232.4 L622,232.7 L623,233 L624,233.3 L625,233.7 L626,234 L626.1,234 L627,234.3 L628,234.5 L629,234.8 L630,235.1 L631,235.4 L632,235.7 L633,235.9 L633.2,236 L634,236.2 L635,236.5 L636,236.8 L637,237 L638,237.3 L639,237.6 L640,237.8 L640.6,238 L641,238.1 L642,238.4 L643,238.7 L644,239 L645,239.3 L646,239.6 L647,239.9 L647.4,240 L648,240.2 L649,240.6 L650,240.9 L651,241.3 L652,241.7 L652.9,242 L653,242 L654,242.6 L655,243.1 L656,243.7 L656.6,244 L657,244.3 L658,245 L659,245.7 L659.4,246 L660,246.4 L661,247.2 L662,248 L662,248 L663,248.9 L664,249.8 L664.2,250 L665,250.8 L666,251.8 L666.2,252 L667,252.9 L668,254 L668,254 L669,255.2 L669.6,256 L670,256.5 L671,257.8 L671.2,258 L672,259.2 L672.6,260 L673,260.7 L673.8,262 L674,262.3 L675,264 L675,264 L676,265.8 L676.1,266 L677,267.8 L677.1,268 L678,269.8 L678.1,270 L679,272 L679,272 L679.9,274 L680,274.4 L680.7,276 L681,276.8 L681.5,278 L682,279.4 L682.2,280 L682.9,282 L683,282.2 L683.6,284 L684,285.2 L684.3,286 L684.9,288 L685,288.4 L685.5,290 L686,291.7 L686.1,292 L686.7,294 L687,295.3 L687.2,296 L687.7,298 L688,299 L688.3,300 L688.8,302 L689,303 L689.2,304 L689.7,306 L690,307.3 L690.1,308 L690.6,310 L690.9,312 L691,312.3 L691.3,314 L691.7,316 L692,318 L692,318 L692.3,320 L692.7,322 L693,324 L693,324.1 L693.3,326 L693.6,328 L693.9,330 L694,331.1 L694.1,332 L694.4,334 L694.6,336 L694.8,338 L695,340 L695,340.1 L695.2,342 L695.3,344 L695.5,346 L695.7,348 L695.8,350 L696,352 L696,352.5 L696.1,354 L696.2,356 L696.4,358 L696.5,360 L696.6,362 L696.7,364 L696.8,366 L696.9,368 L697,370 L697,370.2 L697.1,372 L697.2,374 L697.2,376 L697.3,378 L697.4,380 L697.5,382 L697.5,384 L697.6,386 L697.7,388 L697.7,390 L697.8,392 L697.8,394 L697.9,396 L697.9,398 L698,400 L698,400.3 L698,402 L698.1,404 L698.1,406 L698.2,408 L698.2,410 L698.3,412 L698.3,414 L698.3,416 L698.4,418 L698.4,420 L698.4,422 L698.5,424 L698.5,426 L698.6,428 L698.6,430 L698.6,432 L698.7,434 L698.7,436 L698.7,438 L698.8,440 L698.8,442 L698.9,444 L698.9,446 L698.9,448 L699,450 L699,450.3 L699,452 L699.1,454 L699.1,456 L699.2,458 L699.3,460 L699.3,462 L699.4,464 L699.4,466 L699.5,468 L699.6,470 L699.6,472 L699.7,474 L699.7,476 L699.8,478 L699.9,480 L699.9,482 L700,483.9 L700,484 L700.1,486 L700.1,488 L700.2,490 L700.3,492 L700.3,494 L700.4,496 L700.4,498 L700.5,500 L700.6,502 L700.6,504 L700.7,506 L700.8,508 L700.8,510 L700.9,512 L701,514 L701,514.8 L701,516 L701.1,518 L701.2,520 L701.3,522 L701.3,524 L701.4,526 L701.4,528 L701.5,530 L701.5,532 L701.5,534 L701.6,536 L701.6,538 L701.6,540 L701.6,542 L701.6,544 L701.6,546 L701.6,548 L701.6,550 L701.6,552 L701.6,554 L701.6,556 L701.6,558 L701.6,560 L701.6,562 L701.6,564 L701.6,566 L701.6,568 L701.6,570 L701.6,572 L701.6,574 L701.6,576 L701.6,578 L701.6,580 L701.6,582 L701.6,584 L701.6,586 L701.6,588 L701.6,590 L701.6,592 L701.6,594 L701.6,596 L701.6,598 L701.6,600 L701.6,602 L701.6,604 L701.6,606 L701.6,608 L701.6,610 L701.6,612 L701.6,614 L701.6,616 L701.6,618 L701.6,620 L701.6,622 L701.6,624 L701.6,626 L701.6,628 L701.6,630 L701.6,632 L701.6,634 L701.6,636 L701.6,638 L701.6,640 L701.6,642 L701.6,644 L701.6,646 L701.6,648 L701.6,650 L701.6,652 L701.6,654 L701.6,656 L701.6,658 L701.6,660 L701.6,662 L701.6,664 L701.6,666 L701.6,668 L701.6,670 L701.6,672 L701.6,674 L701.6,676 L701.6,678 L701.6,680 L701.6,682 L701.6,684 L701.6,686 L701.6,688 L701.6,690 L701.6,692 L701.6,694 L701.6,696 L701.6,698 L701.6,700 L701.6,702 L701.6,704 L701.6,706 L701.6,708 L701.6,710 L701.6,712 L701.6,714 L701.6,716 L701.6,718 L701.6,720 L701.6,722 L701.6,724 L701.6,726 L701.6,728 L701.6,730 L701.6,732 L701.6,734 L701.6,736 L701.6,738 L701.6,740 L701.6,742 L701.6,744 L701.6,746 L701.6,748 L701.6,750 L701.6,752 L701.6,754 L701.6,756 L701.6,758 L701.6,760 L701.6,762 L701.6,764 L701.6,766 L701.6,768 L701.6,770 L701.6,772 L701.6,774 L701.6,776 L701.6,778 L701.6,780 L701.6,782 L701.6,784 L701.6,786 L701.6,788 L701.6,790 L701.6,792 L701.6,794 L701.6,796 L701.6,798 L701.6,800 L701.6,802 L701.6,804 L701.6,806 L701.6,808 L701.6,810 L701.6,812 L701.6,814 L701.6,816 L701.6,818 L701.6,820 L701.6,822 L701.6,824 L701.6,826 L701.6,828 L701.6,830 L701.6,832 L701.6,834 L701.6,836 L701.6,838 L701.6,840 L701.6,842 L701.6,844 L701.6,846 L701.6,848 L701.6,850 L701.6,852 L701.6,854 L701.6,856 L701.6,858 L701.6,860 L701.6,862 L701.6,864 L701.6,866 L701.6,868 L701.6,870 L701.6,872 L701.6,874 L701.6,876 L701.6,878 L701.6,880 L701.6,882 L701.6,884 L701.6,886 L701.6,888 L701.6,890 L701.6,892 L701.6,894 L701.6,896 L701.6,898 L701.6,900 L701.6,902 L701.6,904 L701.6,906 L701,906 L700,906 L699,906 L698,906 L697,906 L696,906 L695,906 L694,906 L693,906 L692,906 L691,906 L690,906 L689,906 L688,906 L687,906 L686,906 L685,906 L684,906 L683,906 L682,906 L681,906 L680,906 L679,906 L678,906 L677,906 L676,906 L675,906 L674,906 L673,906 L672,906 L671,906 L670,906 L669,906 L668,906 L667,906 L666,906 L665,906 L664,906 L663,906 L662,906 L661,906 L660,906 L659,906 L658,906 L657,906 L656,906 L655,906 L654,906 L653.4,906 L653.4,904 L653.4,902 L653.4,900 L653.4,898 L653.4,896 L653.4,894 L653.4,892 L653.4,890 L653.4,888 L653.4,886 L653.4,884 L653.4,882 L653.4,880 L653.4,878 L653.4,876 L653.4,874 L653.4,872 L653.4,870 L653.4,868 L653.4,866 L653.4,864 L653.4,862 L653.4,860 L653.4,858 L653.4,856 L653.4,854 L653.4,852 L653.4,850 L653.4,848 L653.4,846 L653.4,844 L653.4,842 L653.4,840 L653.4,838 L653.4,836 L653.4,834 L653.4,832 L653.4,830 L653.4,828 L653.4,826 L653.4,824 L653.4,822 L653.4,820 L653.4,818 L653.4,816 L653.4,814 L653.4,812 L653.4,810 L653.4,808 L653.4,806 L653.4,804 L653.4,802 L653.4,800 L653.4,798 L653.4,796 L653.4,794 L653.4,792 L653.4,790 L653.4,788 L653.4,786 L653.4,784 L653.4,782 L653.4,780 L653.4,778 L653.4,776 L653.4,774 L653.4,772 L653.4,770 L653.4,768 L653.4,766 L653.4,764 L653.4,762 L653.4,760 L653.4,758 L653.4,756 L653.4,754 L653.4,752 L653.4,750 L653.4,748 L653.4,746 L653.4,744 L653.4,742 L653.4,740 L653.4,738 L653.4,736 L653.4,734 L653.4,732 L653.4,730 L653.4,728 L653.4,726 L653.4,724 L653.4,722 L653.4,720 L653.4,718 L653.4,716 L653.4,714 L653.4,712 L653.4,710 L653.4,708 L653.4,706 L653.4,704 L653.4,702 L653.4,700 L653.4,698 L653.4,696 L653.4,694 L653.4,692 L653.4,690 L653.4,688 L653.4,686 L653.4,684 L653.4,682 L653.4,680 L653.4,678 L653.4,676 L653.4,674 L653.4,672 L653.4,670 L653.4,668 L653.4,666 L653.4,664 L653.4,662 L653.4,660 L653.4,658 L653.4,656 L653.4,654 L653.4,652 L653.4,650 L653.4,648 L653.4,646 L653.4,644 L653.4,642 L653.4,640 L653.4,638 L653.4,636 L653.4,634 L653.4,632 L653.4,630 L653.4,628 L653.4,626 L653.4,624 L653.4,622 L653.4,620 L653.4,618 L653.4,616 L653.4,614 L653.4,612 L653.4,610 L653.4,608 L653.4,606 L653.4,604 L653.4,602 L653.4,600 L653.4,598 L653.4,596 L653.4,594 L653.4,592 L653.4,590 L653.4,588 L653.4,586 L653.4,584 L653.4,582 L653.4,580 L653.4,578 L653.4,576 L653.4,574 L653.4,572 L653.4,570 L653.4,568 L653.4,566 L653.4,564 L653.4,562 L653.4,560 L653.4,558 L653.4,556 L653.4,554 L653.4,552 L653.4,550 L653.4,548 L653.4,546 L653.4,544 L653.4,542 L653.4,540 L653.4,538 L653.4,536 L653.4,534 L653.3,532 L653.3,530 L653.2,528 L653.2,526 L653.1,524 L653.1,522 L653,520.1 L653,520 L652.9,518 L652.9,516 L652.8,514 L652.7,512 L652.6,510 L652.6,508 L652.5,506 L652.4,504 L652.4,502 L652.3,500 L652.2,498 L652.2,496 L652.1,494 L652.1,492 L652,490 L652,489.9 L651.9,488 L651.9,486 L651.8,484 L651.7,482 L651.7,480 L651.6,478 L651.6,476 L651.5,474 L651.4,472 L651.4,470 L651.3,468 L651.2,466 L651.2,464 L651.1,462 L651.1,460 L651,458 L651,457.6 L651,456 L650.9,454 L650.9,452 L650.8,450 L650.8,448 L650.7,446 L650.7,444 L650.6,442 L650.6,440 L650.5,438 L650.5,436 L650.5,434 L650.4,432 L650.4,430 L650.4,428 L650.3,426 L650.3,424 L650.3,422 L650.2,420 L650.2,418 L650.2,416 L650.1,414 L650.1,412 L650,410 L650,408.4 L650,408 L649.9,406 L649.9,404 L649.9,402 L649.8,400 L649.8,398 L649.7,396 L649.6,394 L649.6,392 L649.5,390 L649.5,388 L649.4,386 L649.3,384 L649.3,382 L649.2,380 L649.1,378 L649.1,376 L649,374.6 L649,374 L648.9,372 L648.8,370 L648.7,368 L648.6,366 L648.5,364 L648.4,362 L648.3,360 L648.2,358 L648,356 L648,355.3 L647.9,354 L647.8,352 L647.6,350 L647.5,348 L647.3,346 L647.2,344 L647,342.2 L647,342 L646.8,340 L646.6,338 L646.4,336 L646.2,334 L646,332.6 L645.9,332 L645.7,330 L645.4,328 L645.1,326 L645,325.3 L644.8,324 L644.5,322 L644.2,320 L644,319.1 L643.8,318 L643.5,316 L643.1,314 L643,313.4 L642.7,312 L642.4,310 L642,308.2 L642,308 L641.5,306 L641.1,304 L641,303.8 L640.6,302 L640.1,300 L640,299.7 L639.6,298 L639,296 L639,295.9 L638.5,294 L638,292.4 L637.9,292 L637.3,290 L637,289 L636.7,288 L636.1,286 L636,285.8 L635.4,284 L635,282.8 L634.7,282 L634,280 L634,280 L633.3,278 L633,277.3 L632.5,276 L632,274.8 L631.7,274 L631,272.5 L630.8,272 L630,270.2 L629.9,270 L629,268.1 L628.9,268 L628,266.2 L627.9,266 L627,264.3 L626.8,264 L626,262.6 L625.6,262 L625,261 L624.4,260 L624,259.5 L623,258 L623,258 L622,256.7 L621.5,256 L621,255.4 L620,254.2 L619.8,254 L619,253.1 L618,252 L618,252 L617,251 L616,250 L616,250 L615,249.1 L614,248.2 L613.8,248 L613,247.4 L612,246.6 L611.3,246 L611,245.8 L610,245.1 L609,244.4 L608.4,244 L608,243.8 L607,243.2 L606,242.7 L605,242.1 L604.7,242 L604,241.7 L603,241.4 L602,241 L601,240.6 L600,240.3 L599.2,240 L599,239.9 L598,239.6 L597,239.3 L596,239.1 L595,238.8 L594,238.5 L593,238.2 L592.4,238 L592,237.9 L591,237.6 L590,237.3 L589,237.1 L588,236.8 L587,236.5 L586,236.3 L585,236 L585,236 L584,235.7 L583,235.4 L582,235.1 L581,234.9 L580,234.6 L579,234.3 L578,234 L577.9,234 L577,233.7 L576,233.4 L575,233.1 L574,232.8 L573,232.4 L572,232.1 L571.7,232 L571,231.7 L570,231.3 L569,230.8 L568,230.4 L567.1,230 L567,229.9 L566,229.2 L565,228.6 L564.2,228 L564,227.9 L563,227.1 L562,226.4 L561.4,226Z" fill="#7ccabe"/>
<path d="M609.6,226 L610,226 L611,226 L612,226 L613,226 L614,226 L615,226 L616,226 L617,226 L618,226 L619,226 L620,226 L621,226 L622,226 L623,226 L624,226 L625,226 L626,226 L627,226 L628,226 L629,226 L630,226 L631,226 L632,226 L633,226 L634,226 L635,226 L636,226 L637,226 L638,226 L639,226 L640,226 L641,226 L642,226 L643,226 L644,226 L645,226 L646,226 L647,226 L648,226 L649,226 L650,226 L651,226 L652,226 L652.1,226 L653,226.6 L654,227.4 L654.9,228 L655,228.1 L656,228.8 L657,229.5 L657.8,230 L658,230.1 L659,230.5 L660,231 L661,231.4 L662,231.8 L662.4,232 L663,232.2 L664,232.5 L665,232.9 L666,233.2 L667,233.5 L668,233.8 L668.6,234 L669,234.1 L670,234.4 L671,234.7 L672,235 L673,235.2 L674,235.5 L675,235.8 L675.7,236 L676,236.1 L677,236.3 L678,236.6 L679,236.9 L680,237.2 L681,237.4 L682,237.7 L683,238 L683.1,238 L684,238.3 L685,238.6 L686,238.9 L687,239.1 L688,239.4 L689,239.7 L689.9,240 L690,240 L691,240.4 L692,240.8 L693,241.1 L694,241.5 L695,241.8 L695.4,242 L696,242.3 L697,242.9 L698,243.4 L699,243.9 L699.1,244 L700,244.6 L701,245.3 L702,246 L702,246 L703,246.8 L704,247.6 L704.5,248 L705,248.5 L706,249.3 L706.7,250 L707,250.3 L708,251.3 L708.7,252 L709,252.3 L710,253.4 L710.5,254 L711,254.6 L712,255.8 L712.2,256 L713,257.1 L713.7,258 L714,258.5 L715,259.9 L715.1,260 L716,261.5 L716.3,262 L717,263.1 L717.5,264 L718,264.9 L718.6,266 L719,266.8 L719.6,268 L720,268.8 L720.6,270 L721,270.9 L721.5,272 L722,273.2 L722.4,274 L723,275.6 L723.2,276 L724,278 L724,278.1 L724.7,280 L725,280.8 L725.4,282 L726,283.7 L726.1,284 L726.8,286 L727,286.7 L727.4,288 L728,290 L728,290 L728.6,292 L729,293.4 L729.2,294 L729.7,296 L730,297 L730.3,298 L730.8,300 L731,300.9 L731.3,302 L731.8,304 L732,305.1 L732.2,306 L732.7,308 L733,309.7 L733.1,310 L733.4,312 L733.8,314 L734,315 L734.2,316 L734.5,318 L734.9,320 L735,320.9 L735.2,322 L735.5,324 L735.8,326 L736,327.4 L736.1,328 L736.4,330 L736.6,332 L736.9,334 L737,335.1 L737.1,336 L737.3,338 L737.5,340 L737.7,342 L737.9,344 L738,345.7 L738,346 L738.2,348 L738.3,350 L738.5,352 L738.6,354 L738.7,356 L738.9,358 L739,360 L739,360.1 L739.1,362 L739.2,364 L739.3,366 L739.4,368 L739.5,370 L739.6,372 L739.7,374 L739.8,376 L739.8,378 L739.9,380 L740,382 L740,382.7 L740,384 L740.1,386 L740.2,388 L740.2,390 L740.3,392 L740.3,394 L740.4,396 L740.5,398 L740.5,400 L740.6,402 L740.6,404 L740.6,406 L740.7,408 L740.7,410 L740.8,412 L740.8,414 L740.9,416 L740.9,418 L740.9,420 L741,422 L741,424 L741,424.2 L741,426 L741.1,428 L741.1,430 L741.1,432 L741.2,434 L741.2,436 L741.2,438 L741.3,440 L741.3,442 L741.4,444 L741.4,446 L741.5,448 L741.5,450 L741.6,452 L741.6,454 L741.7,456 L741.7,458 L741.8,460 L741.8,462 L741.9,464 L741.9,466 L742,467.8 L742,468 L742.1,470 L742.1,472 L742.2,474 L742.3,476 L742.3,478 L742.4,480 L742.4,482 L742.5,484 L742.6,486 L742.6,488 L742.7,490 L742.8,492 L742.8,494 L742.9,496 L742.9,498 L743,499.8 L743,500 L743.1,502 L743.1,504 L743.2,506 L743.3,508 L743.3,510 L743.4,512 L743.5,514 L743.6,516 L743.6,518 L743.7,520 L743.8,522 L743.8,524 L743.9,526 L743.9,528 L744,530 L744,530.7 L744,532 L744.1,534 L744.1,536 L744.1,538 L744.1,540 L744.1,542 L744.1,544 L744.1,546 L744.1,548 L744.1,550 L744.1,552 L744.1,554 L744.1,556 L744.1,558 L744.1,560 L744.1,562 L744.1,564 L744.1,566 L744.1,568 L744.1,570 L744.1,572 L744.1,574 L744.1,576 L744.1,578 L744.1,580 L744.1,582 L744.1,584 L744.1,586 L744.1,588 L744.1,590 L744.1,592 L744.1,594 L744.1,596 L744.1,598 L744.1,600 L744.1,602 L744.1,604 L744.1,606 L744.1,608 L744.1,610 L744.1,612 L744.1,614 L744.1,616 L744.1,618 L744.1,620 L744.1,622 L744.1,624 L744.1,626 L744.1,628 L744.1,630 L744.1,632 L744.1,634 L744.1,636 L744.1,638 L744.1,640 L744.1,642 L744.1,644 L744.1,646 L744.1,648 L744.1,650 L744.1,652 L744.1,654 L744.1,656 L744.1,658 L744.1,660 L744.1,662 L744.1,664 L744.1,666 L744.1,668 L744.1,670 L744.1,672 L744.1,674 L744.1,676 L744.1,678 L744.1,680 L744.1,682 L744.1,684 L744.1,686 L744.1,688 L744.1,690 L744.1,692 L744.1,694 L744.1,696 L744.1,698 L744.1,700 L744.1,702 L744.1,704 L744.1,706 L744.1,708 L744.1,710 L744.1,712 L744.1,714 L744.1,716 L744.1,718 L744.1,720 L744.1,722 L744.1,724 L744.1,726 L744.1,728 L744.1,730 L744.1,732 L744.1,734 L744.1,736 L744.1,738 L744.1,740 L744.1,742 L744.1,744 L744.1,746 L744.1,748 L744.1,750 L744.1,752 L744.1,754 L744.1,756 L744.1,758 L744.1,760 L744.1,762 L744.1,764 L744.1,766 L744.1,768 L744.1,770 L744.1,772 L744.1,774 L744.1,776 L744.1,778 L744.1,780 L744.1,782 L744.1,784 L744.1,786 L744.1,788 L744.1,790 L744.1,792 L744.1,794 L744.1,796 L744.1,798 L744.1,800 L744.1,802 L744.1,804 L744.1,806 L744.1,808 L744.1,810 L744.1,812 L744.1,814 L744.1,816 L744.1,818 L744.1,820 L744.1,822 L744.1,824 L744.1,826 L744.1,828 L744.1,830 L744.1,832 L744.1,834 L744.1,836 L744.1,838 L744.1,840 L744.1,842 L744.1,844 L744.1,846 L744.1,848 L744.1,850 L744.1,852 L744.1,854 L744.1,856 L744.1,858 L744.1,860 L744.1,862 L744.1,864 L744.1,866 L744.1,868 L744.1,870 L744.1,872 L744.1,874 L744.1,876 L744.1,878 L744.1,880 L744.1,882 L744.1,884 L744.1,886 L744.1,888 L744.1,890 L744.1,892 L744.1,894 L744.1,896 L744.1,898 L744.1,900 L744.1,902 L744.1,904 L744.1,906 L744,906 L743,906 L742,906 L741,906 L740,906 L739,906 L738,906 L737,906 L736,906 L735,906 L734,906 L733,906 L732,906 L731,906 L730,906 L729,906 L728,906 L727,906 L726,906 L725,906 L724,906 L723,906 L722,906 L721,906 L720,906 L719,906 L718,906 L717,906 L716,906 L715,906 L714,906 L713,906 L712,906 L711,906 L710,906 L709,906 L708,906 L707,906 L706,906 L705,906 L704,906 L703,906 L702,906 L701.6,906 L701.6,904 L701.6,902 L701.6,900 L701.6,898 L701.6,896 L701.6,894 L701.6,892 L701.6,890 L701.6,888 L701.6,886 L701.6,884 L701.6,882 L701.6,880 L701.6,878 L701.6,876 L701.6,874 L701.6,872 L701.6,870 L701.6,868 L701.6,866 L701.6,864 L701.6,862 L701.6,860 L701.6,858 L701.6,856 L701.6,854 L701.6,852 L701.6,850 L701.6,848 L701.6,846 L701.6,844 L701.6,842 L701.6,840 L701.6,838 L701.6,836 L701.6,834 L701.6,832 L701.6,830 L701.6,828 L701.6,826 L701.6,824 L701.6,822 L701.6,820 L701.6,818 L701.6,816 L701.6,814 L701.6,812 L701.6,810 L701.6,808 L701.6,806 L701.6,804 L701.6,802 L701.6,800 L701.6,798 L701.6,796 L701.6,794 L701.6,792 L701.6,790 L701.6,788 L701.6,786 L701.6,784 L701.6,782 L701.6,780 L701.6,778 L701.6,776 L701.6,774 L701.6,772 L701.6,770 L701.6,768 L701.6,766 L701.6,764 L701.6,762 L701.6,760 L701.6,758 L701.6,756 L701.6,754 L701.6,752 L701.6,750 L701.6,748 L701.6,746 L701.6,744 L701.6,742 L701.6,740 L701.6,738 L701.6,736 L701.6,734 L701.6,732 L701.6,730 L701.6,728 L701.6,726 L701.6,724 L701.6,722 L701.6,720 L701.6,718 L701.6,716 L701.6,714 L701.6,712 L701.6,710 L701.6,708 L701.6,706 L701.6,704 L701.6,702 L701.6,700 L701.6,698 L701.6,696 L701.6,694 L701.6,692 L701.6,690 L701.6,688 L701.6,686 L701.6,684 L701.6,682 L701.6,680 L701.6,678 L701.6,676 L701.6,674 L701.6,672 L701.6,670 L701.6,668 L701.6,666 L701.6,664 L701.6,662 L701.6,660 L701.6,658 L701.6,656 L701.6,654 L701.6,652 L701.6,650 L701.6,648 L701.6,646 L701.6,644 L701.6,642 L701.6,640 L701.6,638 L701.6,636 L701.6,634 L701.6,632 L701.6,630 L701.6,628 L701.6,626 L701.6,624 L701.6,622 L701.6,620 L701.6,618 L701.6,616 L701.6,614 L701.6,612 L701.6,610 L701.6,608 L701.6,606 L701.6,604 L701.6,602 L701.6,600 L701.6,598 L701.6,596 L701.6,594 L701.6,592 L701.6,590 L701.6,588 L701.6,586 L701.6,584 L701.6,582 L701.6,580 L701.6,578 L701.6,576 L701.6,574 L701.6,572 L701.6,570 L701.6,568 L701.6,566 L701.6,564 L701.6,562 L701.6,560 L701.6,558 L701.6,556 L701.6,554 L701.6,552 L701.6,550 L701.6,548 L701.6,546 L701.6,544 L701.6,542 L701.6,540 L701.6,538 L701.6,536 L701.5,534 L701.5,532 L701.5,530 L701.4,528 L701.4,526 L701.3,524 L701.3,522 L701.2,520 L701.1,518 L701,516 L701,514.8 L701,514 L700.9,512 L700.8,510 L700.8,508 L700.7,506 L700.6,504 L700.6,502 L700.5,500 L700.4,498 L700.4,496 L700.3,494 L700.3,492 L700.2,490 L700.1,488 L700.1,486 L700,484 L700,483.9 L699.9,482 L699.9,480 L699.8,478 L699.7,476 L699.7,474 L699.6,472 L699.6,470 L699.5,468 L699.4,466 L699.4,464 L699.3,462 L699.3,460 L699.2,458 L699.1,456 L699.1,454 L699,452 L699,450.3 L699,450 L698.9,448 L698.9,446 L698.9,444 L698.8,442 L698.8,440 L698.7,438 L698.7,436 L698.7,434 L698.6,432 L698.6,430 L698.6,428 L698.5,426 L698.5,424 L698.4,422 L698.4,420 L698.4,418 L698.3,416 L698.3,414 L698.3,412 L698.2,410 L698.2,408 L698.1,406 L698.1,404 L698,402 L698,400.3 L698,400 L697.9,398 L697.9,396 L697.8,394 L697.8,392 L697.7,390 L697.7,388 L697.6,386 L697.5,384 L697.5,382 L697.4,380 L697.3,378 L697.2,376 L697.2,374 L697.1,372 L697,370.2 L697,370 L696.9,368 L696.8,366 L696.7,364 L696.6,362 L696.5,360 L696.4,358 L696.2,356 L696.1,354 L696,352.5 L696,352 L695.8,350 L695.7,348 L695.5,346 L695.3,344 L695.2,342 L695,340.1 L695,340 L694.8,338 L694.6,336 L694.4,334 L694.1,332 L694,331.1 L693.9,330 L693.6,328 L693.3,326 L693,324.1 L693,324 L692.7,322 L692.3,320 L692,318 L692,318 L691.7,316 L691.3,314 L691,312.3 L690.9,312 L690.6,310 L690.1,308 L690,307.3 L689.7,306 L689.2,304 L689,303 L688.8,302 L688.3,300 L688,299 L687.7,298 L687.2,296 L687,295.3 L686.7,294 L686.1,292 L686,291.7 L685.5,290 L685,288.4 L684.9,288 L684.3,286 L684,285.2 L683.6,284 L683,282.2 L682.9,282 L682.2,280 L682,279.4 L681.5,278 L681,276.8 L680.7,276 L680,274.4 L679.9,274 L679,272 L679,272 L678.1,270 L678,269.8 L677.1,268 L677,267.8 L676.1,266 L676,265.8 L675,264 L675,264 L674,262.3 L673.8,262 L673,260.7 L672.6,260 L672,259.2 L671.2,258 L671,257.8 L670,256.5 L669.6,256 L669,255.2 L668,254 L668,254 L667,252.9 L666.2,252 L666,251.8 L665,250.8 L664.2,250 L664,249.8 L663,248.9 L662,248 L662,248 L661,247.2 L660,246.4 L659.4,246 L659,245.7 L658,245 L657,244.3 L656.6,244 L656,243.7 L655,243.1 L654,242.6 L653,242 L652.9,242 L652,241.7 L651,241.3 L650,240.9 L649,240.6 L648,240.2 L647.4,240 L647,239.9 L646,239.6 L645,239.3 L644,239 L643,238.7 L642,238.4 L641,238.1 L640.6,238 L640,237.8 L639,237.6 L638,237.3 L637,237 L636,236.8 L635,236.5 L634,236.2 L633.2,236 L633,235.9 L632,235.7 L631,235.4 L630,235.1 L629,234.8 L628,234.5 L627,234.3 L626.1,234 L626,234 L625,233.7 L624,233.3 L623,233 L622,232.7 L621,232.4 L620,232 L619.8,232 L619,231.6 L618,231.2 L617,230.8 L616,230.3 L615.3,230 L615,229.8 L614,229.1 L613,228.4 L612.4,228 L612,227.7 L611,227 L610,226.3 L609.6,226Z" fill="#8dd2c7"/>
<path d="M652.1,226 L653,226 L654,226 L655,226 L656,226 L657,226 L658,226 L659,226 L660,226 L661,226 L662,226 L663,226 L664,226 L665,226 L666,226 L667,226 L668,226 L669,226 L670,226 L671,226 L672,226 L673,226 L674,226 L675,226 L676,226 L677,226 L678,226 L679,226 L680,226 L681,226 L682,226 L683,226 L683.3,226 L684,226.5 L685,227.2 L686,228 L686.1,228 L687,228.7 L688,229.3 L689,230 L689,230 L690,230.5 L691,230.9 L692,231.4 L693,231.8 L693.6,232 L694,232.2 L695,232.5 L696,232.8 L697,233.2 L698,233.5 L699,233.8 L699.8,234 L700,234.1 L701,234.4 L702,234.7 L703,235 L704,235.3 L705,235.5 L706,235.8 L706.9,236 L707,236 L708,236.3 L709,236.6 L710,236.9 L711,237.2 L712,237.4 L713,237.7 L714,237.9 L714.3,238 L715,238.2 L716,238.5 L717,238.9 L718,239.2 L719,239.4 L720,239.7 L721,240 L721.1,240 L722,240.3 L723,240.7 L724,241.1 L725,241.5 L726,241.8 L726.6,242 L727,242.2 L728,242.8 L729,243.3 L730,243.9 L730.3,244 L731,244.5 L732,245.2 L733,245.9 L733.2,246 L734,246.7 L735,247.5 L735.7,248 L736,248.3 L737,249.2 L737.9,250 L738,250.1 L739,251.1 L739.9,252 L740,252.1 L741,253.2 L741.7,254 L742,254.4 L743,255.6 L743.3,256 L744,256.9 L744.9,258 L745,258.2 L746,259.6 L746.3,260 L747,261.2 L747.5,262 L748,262.8 L748.7,264 L749,264.5 L749.8,266 L750,266.4 L750.8,268 L751,268.4 L751.8,270 L752,270.5 L752.7,272 L753,272.7 L753.6,274 L754,275.1 L754.4,276 L755,277.6 L755.2,278 L755.9,280 L756,280.2 L756.6,282 L757,283.1 L757.3,284 L758,286 L758,286.1 L758.6,288 L759,289.3 L759.2,290 L759.8,292 L760,292.8 L760.4,294 L760.9,296 L761,296.3 L761.4,298 L762,300 L762,300.1 L762.5,302 L763,304 L763,304.2 L763.4,306 L763.8,308 L764,308.7 L764.3,310 L764.6,312 L765,313.9 L765,314 L765.4,316 L765.7,318 L766,319.7 L766.1,320 L766.4,322 L766.7,324 L767,326 L767,326 L767.3,328 L767.6,330 L767.8,332 L768,333.4 L768.1,334 L768.3,336 L768.5,338 L768.7,340 L768.9,342 L769,343.4 L769.1,344 L769.2,346 L769.4,348 L769.5,350 L769.7,352 L769.8,354 L769.9,356 L770,356.9 L770.1,358 L770.2,360 L770.3,362 L770.4,364 L770.5,366 L770.6,368 L770.7,370 L770.8,372 L770.9,374 L771,376 L771,377.3 L771,378 L771.1,380 L771.2,382 L771.2,384 L771.3,386 L771.4,388 L771.4,390 L771.5,392 L771.5,394 L771.6,396 L771.6,398 L771.7,400 L771.7,402 L771.8,404 L771.8,406 L771.9,408 L771.9,410 L772,412 L772,413.5 L772,414 L772,416 L772.1,418 L772.1,420 L772.2,422 L772.2,424 L772.2,426 L772.3,428 L772.3,430 L772.3,432 L772.4,434 L772.4,436 L772.4,438 L772.5,440 L772.5,442 L772.6,444 L772.6,446 L772.6,448 L772.7,450 L772.7,452 L772.8,454 L772.9,456 L772.9,458 L773,460 L773,461.2 L773,462 L773.1,464 L773.1,466 L773.2,468 L773.3,470 L773.3,472 L773.4,474 L773.4,476 L773.5,478 L773.6,480 L773.6,482 L773.7,484 L773.8,486 L773.8,488 L773.9,490 L774,492 L774,493.2 L774,494 L774.1,496 L774.1,498 L774.2,500 L774.3,502 L774.3,504 L774.4,506 L774.5,508 L774.5,510 L774.6,512 L774.7,514 L774.7,516 L774.8,518 L774.9,520 L775,522 L775,523.2 L775,524 L775.1,526 L775.1,528 L775.2,530 L775.2,532 L775.3,534 L775.3,536 L775.3,538 L775.3,540 L775.3,542 L775.3,544 L775.3,546 L775.3,548 L775.3,550 L775.3,552 L775.3,554 L775.3,556 L775.3,558 L775.3,560 L775.3,562 L775.3,564 L775.3,566 L775.3,568 L775.3,570 L775.3,572 L775.3,574 L775.3,576 L775.3,578 L775.3,580 L775.3,582 L775.3,584 L775.3,586 L775.3,588 L775.3,590 L775.3,592 L775.3,594 L775.3,596 L775.3,598 L775.3,600 L775.3,602 L775.3,604 L775.3,606 L775.3,608 L775.3,610 L775.3,612 L775.3,614 L775.3,616 L775.3,618 L775.3,620 L775.3,622 L775.3,624 L775.3,626 L775.3,628 L775.3,630 L775.3,632 L775.3,634 L775.3,636 L775.3,638 L775.3,640 L775.3,642 L775.3,644 L775.3,646 L775.3,648 L775.3,650 L775.3,652 L775.3,654 L775.3,656 L775.3,658 L775.3,660 L775.3,662 L775.3,664 L775.3,666 L775.3,668 L775.3,670 L775.3,672 L775.3,674 L775.3,676 L775.3,678 L775.3,680 L775.3,682 L775.3,684 L775.3,686 L775.3,688 L775.3,690 L775.3,692 L775.3,694 L775.3,696 L775.3,698 L775.3,700 L775.3,702 L775.3,704 L775.3,706 L775.3,708 L775.3,710 L775.3,712 L775.3,714 L775.3,716 L775.3,718 L775.3,720 L775.3,722 L775.3,724 L775.3,726 L775.3,728 L775.3,730 L775.3,732 L775.3,734 L775.3,736 L775.3,738 L775.3,740 L775.3,742 L775.3,744 L775.3,746 L775.3,748 L775.3,750 L775.3,752 L775.3,754 L775.3,756 L775.3,758 L775.3,760 L775.3,762 L775.3,764 L775.3,766 L775.3,768 L775.3,770 L775.3,772 L775.3,774 L775.3,776 L775.3,778 L775.3,780 L775.3,782 L775.3,784 L775.3,786 L775.3,788 L775.3,790 L775.3,792 L775.3,794 L775.3,796 L775.3,798 L775.3,800 L775.3,802 L775.3,804 L775.3,806 L775.3,808 L775.3,810 L775.3,812 L775.3,814 L775.3,816 L775.3,818 L775.3,820 L775.3,822 L775.3,824 L775.3,826 L775.3,828 L775.3,830 L775.3,832 L775.3,834 L775.3,836 L775.3,838 L775.3,840 L775.3,842 L775.3,844 L775.3,846 L775.3,848 L775.3,850 L775.3,852 L775.3,854 L775.3,856 L775.3,858 L775.3,860 L775.3,862 L775.3,864 L775.3,866 L775.3,868 L775.3,870 L775.3,872 L775.3,874 L775.3,876 L775.3,878 L775.3,880 L775.3,882 L775.3,884 L775.3,886 L775.3,888 L775.3,890 L775.3,892 L775.3,894 L775.3,896 L775.3,898 L775.3,900 L775.3,902 L775.3,904 L775.3,906 L775,906 L774,906 L773,906 L772,906 L771,906 L770,906 L769,906 L768,906 L767,906 L766,906 L765,906 L764,906 L763,906 L762,906 L761,906 L760,906 L759,906 L758,906 L757,906 L756,906 L755,906 L754,906 L753,906 L752,906 L751,906 L750,906 L749,906 L748,906 L747,906 L746,906 L745,906 L744.1,906 L744.1,904 L744.1,902 L744.1,900 L744.1,898 L744.1,896 L744.1,894 L744.1,892 L744.1,890 L744.1,888 L744.1,886 L744.1,884 L744.1,882 L744.1,880 L744.1,878 L744.1,876 L744.1,874 L744.1,872 L744.1,870 L744.1,868 L744.1,866 L744.1,864 L744.1,862 L744.1,860 L744.1,858 L744.1,856 L744.1,854 L744.1,852 L744.1,850 L744.1,848 L744.1,846 L744.1,844 L744.1,842 L744.1,840 L744.1,838 L744.1,836 L744.1,834 L744.1,832 L744.1,830 L744.1,828 L744.1,826 L744.1,824 L744.1,822 L744.1,820 L744.1,818 L744.1,816 L744.1,814 L744.1,812 L744.1,810 L744.1,808 L744.1,806 L744.1,804 L744.1,802 L744.1,800 L744.1,798 L744.1,796 L744.1,794 L744.1,792 L744.1,790 L744.1,788 L744.1,786 L744.1,784 L744.1,782 L744.1,780 L744.1,778 L744.1,776 L744.1,774 L744.1,772 L744.1,770 L744.1,768 L744.1,766 L744.1,764 L744.1,762 L744.1,760 L744.1,758 L744.1,756 L744.1,754 L744.1,752 L744.1,750 L744.1,748 L744.1,746 L744.1,744 L744.1,742 L744.1,740 L744.1,738 L744.1,736 L744.1,734 L744.1,732 L744.1,730 L744.1,728 L744.1,726 L744.1,724 L744.1,722 L744.1,720 L744.1,718 L744.1,716 L744.1,714 L744.1,712 L744.1,710 L744.1,708 L744.1,706 L744.1,704 L744.1,702 L744.1,700 L744.1,698 L744.1,696 L744.1,694 L744.1,692 L744.1,690 L744.1,688 L744.1,686 L744.1,684 L744.1,682 L744.1,680 L744.1,678 L744.1,676 L744.1,674 L744.1,672 L744.1,670 L744.1,668 L744.1,666 L744.1,664 L744.1,662 L744.1,660 L744.1,658 L744.1,656 L744.1,654 L744.1,652 L744.1,650 L744.1,648 L744.1,646 L744.1,644 L744.1,642 L744.1,640 L744.1,638 L744.1,636 L744.1,634 L744.1,632 L744.1,630 L744.1,628 L744.1,626 L744.1,624 L744.1,622 L744.1,620 L744.1,618 L744.1,616 L744.1,614 L744.1,612 L744.1,610 L744.1,608 L744.1,606 L744.1,604 L744.1,602 L744.1,600 L744.1,598 L744.1,596 L744.1,594 L744.1,592 L744.1,590 L744.1,588 L744.1,586 L744.1,584 L744.1,582 L744.1,580 L744.1,578 L744.1,576 L744.1,574 L744.1,572 L744.1,570 L744.1,568 L744.1,566 L744.1,564 L744.1,562 L744.1,560 L744.1,558 L744.1,556 L744.1,554 L744.1,552 L744.1,550 L744.1,548 L744.1,546 L744.1,544 L744.1,542 L744.1,540 L744.1,538 L744.1,536 L744.1,534 L744,532 L744,530.7 L744,530 L743.9,528 L743.9,526 L743.8,524 L743.8,522 L743.7,520 L743.6,518 L743.6,516 L743.5,514 L743.4,512 L743.3,510 L743.3,508 L743.2,506 L743.1,504 L743.1,502 L743,500 L743,499.8 L742.9,498 L742.9,496 L742.8,494 L742.8,492 L742.7,490 L742.6,488 L742.6,486 L742.5,484 L742.4,482 L742.4,480 L742.3,478 L742.3,476 L742.2,474 L742.1,472 L742.1,470 L742,468 L742,467.8 L741.9,466 L741.9,464 L741.8,462 L741.8,460 L741.7,458 L741.7,456 L741.6,454 L741.6,452 L741.5,450 L741.5,448 L741.4,446 L741.4,444 L741.3,442 L741.3,440 L741.2,438 L741.2,436 L741.2,434 L741.1,432 L741.1,430 L741.1,428 L741,426 L741,424.2 L741,424 L741,422 L740.9,420 L740.9,418 L740.9,416 L740.8,414 L740.8,412 L740.7,410 L740.7,408 L740.6,406 L740.6,404 L740.6,402 L740.5,400 L740.5,398 L740.4,396 L740.3,394 L740.3,392 L740.2,390 L740.2,388 L740.1,386 L740,384 L740,382.7 L740,382 L739.9,380 L739.8,378 L739.8,376 L739.7,374 L739.6,372 L739.5,370 L739.4,368 L739.3,366 L739.2,364 L739.1,362 L739,360.1 L739,360 L738.9,358 L738.7,356 L738.6,354 L738.5,352 L738.3,350 L738.2,348 L738,346 L738,345.7 L737.9,344 L737.7,342 L737.5,340 L737.3,338 L737.1,336 L737,335.1 L736.9,334 L736.6,332 L736.4,330 L736.1,328 L736,327.4 L735.8,326 L735.5,324 L735.2,322 L735,320.9 L734.9,320 L734.5,318 L734.2,316 L734,315 L733.8,314 L733.4,312 L733.1,310 L733,309.7 L732.7,308 L732.2,306 L732,305.1 L731.8,304 L731.3,302 L731,300.9 L730.8,300 L730.3,298 L730,297 L729.7,296 L729.2,294 L729,293.4 L728.6,292 L728,290 L728,290 L727.4,288 L727,286.7 L726.8,286 L726.1,284 L726,283.7 L725.4,282 L725,280.8 L724.7,280 L724,278.1 L724,278 L723.2,276 L723,275.6 L722.4,274 L722,273.2 L721.5,272 L721,270.9 L720.6,270 L720,268.8 L719.6,268 L719,266.8 L718.6,266 L718,264.9 L717.5,264 L717,263.1 L716.3,262 L716,261.5 L715.1,260 L715,259.9 L714,258.5 L713.7,258 L713,257.1 L712.2,256 L712,255.8 L711,254.6 L710.5,254 L710,253.4 L709,252.3 L708.7,252 L708,251.3 L707,250.3 L706.7,250 L706,249.3 L705,248.5 L704.5,248 L704,247.6 L703,246.8 L702,246 L702,246 L701,245.3 L700,244.6 L699.1,244 L699,243.9 L698,243.4 L697,242.9 L696,242.3 L695.4,242 L695,241.8 L694,241.5 L693,241.1 L692,240.8 L691,240.4 L690,240 L689.9,240 L689,239.7 L688,239.4 L687,239.1 L686,238.9 L685,238.6 L684,238.3 L683.1,238 L683,238 L682,237.7 L681,237.4 L680,237.2 L679,236.9 L678,236.6 L677,236.3 L676,236.1 L675.7,236 L675,235.8 L674,235.5 L673,235.2 L672,235 L671,234.7 L670,234.4 L669,234.1 L668.6,234 L668,233.8 L667,233.5 L666,233.2 L665,232.9 L664,232.5 L663,232.2 L662.4,232 L662,231.8 L661,231.4 L660,231 L659,230.5 L658,230.1 L657.8,230 L657,229.5 L656,228.8 L655,228.1 L654.9,228 L654,227.4 L653,226.6 L652.1,226Z" fill="#a0dad1"/>
<path d="M683.3,226 L684,226 L685,226 L686,226 L687,226 L688,226 L689,226 L690,226 L691,226 L692,226 L693,226 L694,226 L695,226 L696,226 L697,226 L698,226 L699,226 L699,226 L700,226.7 L701,227.5 L701.8,228 L702,228.2 L703,228.9 L704,229.6 L704.7,230 L705,230.1 L706,230.6 L707,231.1 L708,231.5 L709,231.9 L709.2,232 L710,232.3 L711,232.6 L712,233 L713,233.3 L714,233.6 L715,233.9 L715.5,234 L716,234.2 L717,234.5 L718,234.8 L719,235.1 L720,235.4 L721,235.6 L722,235.9 L722.6,236 L723,236.1 L724,236.4 L725,236.7 L726,237 L727,237.3 L728,237.5 L729,237.8 L730,238 L730,238 L731,238.3 L732,238.7 L733,239 L734,239.3 L735,239.6 L736,239.8 L736.8,240 L737,240.1 L738,240.5 L739,240.9 L740,241.2 L741,241.6 L742,241.9 L742.3,242 L743,242.4 L744,243 L745,243.5 L746,244 L746,244 L747,244.7 L748,245.4 L748.9,246 L749,246.1 L750,246.9 L751,247.7 L751.4,248 L752,248.6 L753,249.5 L753.6,250 L754,250.4 L755,251.4 L755.6,252 L756,252.4 L757,253.6 L757.4,254 L758,254.7 L759,255.9 L759.1,256 L760,257.3 L760.6,258 L761,258.6 L762,260 L762,260.1 L763,261.6 L763.2,262 L764,263.3 L764.4,264 L765,265.1 L765.5,266 L766,267 L766.5,268 L767,269 L767.5,270 L768,271.1 L768.4,272 L769,273.4 L769.2,274 L770,275.8 L770.1,276 L770.9,278 L771,278.4 L771.6,280 L772,281.1 L772.3,282 L773,284 L773,284 L773.7,286 L774,287.1 L774.3,288 L774.9,290 L775,290.3 L775.5,292 L776,293.8 L776.1,294 L776.6,296 L777,297.4 L777.1,298 L777.7,300 L778,301.3 L778.2,302 L778.6,304 L779,305.5 L779.1,306 L779.5,308 L780,310 L780,310.2 L780.3,312 L780.7,314 L781,315.6 L781.1,316 L781.4,318 L781.7,320 L782,321.5 L782.1,322 L782.4,324 L782.7,326 L783,328 L783,328.1 L783.3,330 L783.5,332 L783.8,334 L784,336 L784,336 L784.2,338 L784.4,340 L784.6,342 L784.7,344 L784.9,346 L785,347 L785.1,348 L785.2,350 L785.4,352 L785.5,354 L785.6,356 L785.8,358 L785.9,360 L786,362 L786,362 L786.1,364 L786.2,366 L786.3,368 L786.4,370 L786.5,372 L786.6,374 L786.6,376 L786.7,378 L786.8,380 L786.9,382 L786.9,384 L787,385.9 L787,386 L787.1,388 L787.1,390 L787.2,392 L787.2,394 L787.3,396 L787.3,398 L787.4,400 L787.4,402 L787.5,404 L787.5,406 L787.6,408 L787.6,410 L787.7,412 L787.7,414 L787.7,416 L787.8,418 L787.8,420 L787.9,422 L787.9,424 L787.9,426 L788,428 L788,430 L788,430.1 L788,432 L788.1,434 L788.1,436 L788.1,438 L788.2,440 L788.2,442 L788.3,444 L788.3,446 L788.3,448 L788.4,450 L788.4,452 L788.5,454 L788.5,456 L788.6,458 L788.7,460 L788.7,462 L788.8,464 L788.8,466 L788.9,468 L789,470 L789,471.2 L789,472 L789.1,474 L789.1,476 L789.2,478 L789.3,480 L789.3,482 L789.4,484 L789.5,486 L789.5,488 L789.6,490 L789.7,492 L789.7,494 L789.8,496 L789.8,498 L789.9,500 L790,502 L790,503.3 L790,504 L790.1,506 L790.2,508 L790.2,510 L790.3,512 L790.4,514 L790.4,516 L790.5,518 L790.6,520 L790.7,522 L790.7,524 L790.8,526 L790.8,528 L790.9,530 L790.9,532 L791,534 L791,536 L791,538 L791,539.9 L791,540 L791,542 L791,544 L791,546 L791,548 L791,550 L791,552 L791,554 L791,556 L791,558 L791,560 L791,562 L791,564 L791,566 L791,568 L791,570 L791,572 L791,574 L791,576 L791,578 L791,580 L791,582 L791,584 L791,586 L791,588 L791,590 L791,592 L791,594 L791,596 L791,598 L791,600 L791,602 L791,604 L791,606 L791,608 L791,610 L791,612 L791,614 L791,616 L791,618 L791,620 L791,622 L791,624 L791,626 L791,628 L791,630 L791,632 L791,634 L791,636 L791,638 L791,640 L791,642 L791,644 L791,646 L791,648 L791,650 L791,652 L791,654 L791,656 L791,658 L791,660 L791,662 L791,664 L791,666 L791,668 L791,670 L791,672 L791,674 L791,676 L791,678 L791,680 L791,682 L791,684 L791,686 L791,688 L791,690 L791,692 L791,694 L791,696 L791,698 L791,700 L791,702 L791,704 L791,706 L791,708 L791,710 L791,712 L791,714 L791,716 L791,718 L791,720 L791,722 L791,724 L791,726 L791,728 L791,730 L791,732 L791,734 L791,736 L791,738 L791,740 L791,742 L791,744 L791,746 L791,748 L791,750 L791,752 L791,754 L791,756 L791,758 L791,760 L791,762 L791,764 L791,766 L791,768 L791,770 L791,772 L791,774 L791,776 L791,778 L791,780 L791,782 L791,784 L791,786 L791,788 L791,790 L791,792 L791,794 L791,796 L791,798 L791,800 L791,802 L791,804 L791,806 L791,808 L791,810 L791,812 L791,814 L791,816 L791,818 L791,820 L791,822 L791,824 L791,826 L791,828 L791,830 L791,832 L791,834 L791,836 L791,838 L791,840 L791,842 L791,844 L791,846 L791,848 L791,850 L791,852 L791,854 L791,856 L791,858 L791,860 L791,862 L791,864 L791,866 L791,868 L791,870 L791,872 L791,874 L791,876 L791,878 L791,880 L791,882 L791,884 L791,886 L791,888 L791,890 L791,892 L791,894 L791,896 L791,898 L791,900 L791,902 L791,904 L791,906 L791,906 L790,906 L789,906 L788,906 L787,906 L786,906 L785,906 L784,906 L783,906 L782,906 L781,906 L780,906 L779,906 L778,906 L777,906 L776,906 L775.3,906 L775.3,904 L775.3,902 L775.3,900 L775.3,898 L775.3,896 L775.3,894 L775.3,892 L775.3,890 L775.3,888 L775.3,886 L775.3,884 L775.3,882 L775.3,880 L775.3,878 L775.3,876 L775.3,874 L775.3,872 L775.3,870 L775.3,868 L775.3,866 L775.3,864 L775.3,862 L775.3,860 L775.3,858 L775.3,856 L775.3,854 L775.3,852 L775.3,850 L775.3,848 L775.3,846 L775.3,844 L775.3,842 L775.3,840 L775.3,838 L775.3,836 L775.3,834 L775.3,832 L775.3,830 L775.3,828 L775.3,826 L775.3,824 L775.3,822 L775.3,820 L775.3,818 L775.3,816 L775.3,814 L775.3,812 L775.3,810 L775.3,808 L775.3,806 L775.3,804 L775.3,802 L775.3,800 L775.3,798 L775.3,796 L775.3,794 L775.3,792 L775.3,790 L775.3,788 L775.3,786 L775.3,784 L775.3,782 L775.3,780 L775.3,778 L775.3,776 L775.3,774 L775.3,772 L775.3,770 L775.3,768 L775.3,766 L775.3,764 L775.3,762 L775.3,760 L775.3,758 L775.3,756 L775.3,754 L775.3,752 L775.3,750 L775.3,748 L775.3,746 L775.3,744 L775.3,742 L775.3,740 L775.3,738 L775.3,736 L775.3,734 L775.3,732 L775.3,730 L775.3,728 L775.3,726 L775.3,724 L775.3,722 L775.3,720 L775.3,718 L775.3,716 L775.3,714 L775.3,712 L775.3,710 L775.3,708 L775.3,706 L775.3,704 L775.3,702 L775.3,700 L775.3,698 L775.3,696 L775.3,694 L775.3,692 L775.3,690 L775.3,688 L775.3,686 L775.3,684 L775.3,682 L775.3,680 L775.3,678 L775.3,676 L775.3,674 L775.3,672 L775.3,670 L775.3,668 L775.3,666 L775.3,664 L775.3,662 L775.3,660 L775.3,658 L775.3,656 L775.3,654 L775.3,652 L775.3,650 L775.3,648 L775.3,646 L775.3,644 L775.3,642 L775.3,640 L775.3,638 L775.3,636 L775.3,634 L775.3,632 L775.3,630 L775.3,628 L775.3,626 L775.3,624 L775.3,622 L775.3,620 L775.3,618 L775.3,616 L775.3,614 L775.3,612 L775.3,610 L775.3,608 L775.3,606 L775.3,604 L775.3,602 L775.3,600 L775.3,598 L775.3,596 L775.3,594 L775.3,592 L775.3,590 L775.3,588 L775.3,586 L775.3,584 L775.3,582 L775.3,580 L775.3,578 L775.3,576 L775.3,574 L775.3,572 L775.3,570 L775.3,568 L775.3,566 L775.3,564 L775.3,562 L775.3,560 L775.3,558 L775.3,556 L775.3,554 L775.3,552 L775.3,550 L775.3,548 L775.3,546 L775.3,544 L775.3,542 L775.3,540 L775.3,538 L775.3,536 L775.3,534 L775.2,532 L775.2,530 L775.1,528 L775.1,526 L775,524 L775,523.2 L775,522 L774.9,520 L774.8,518 L774.7,516 L774.7,514 L774.6,512 L774.5,510 L774.5,508 L774.4,506 L774.3,504 L774.3,502 L774.2,500 L774.1,498 L774.1,496 L774,494 L774,493.2 L774,492 L773.9,490 L773.8,488 L773.8,486 L773.7,484 L773.6,482 L773.6,480 L773.5,478 L773.4,476 L773.4,474 L773.3,472 L773.3,470 L773.2,468 L773.1,466 L773.1,464 L773,462 L773,461.2 L773,460 L772.9,458 L772.9,456 L772.8,454 L772.7,452 L772.7,450 L772.6,448 L772.6,446 L772.6,444 L772.5,442 L772.5,440 L772.4,438 L772.4,436 L772.4,434 L772.3,432 L772.3,430 L772.3,428 L772.2,426 L772.2,424 L772.2,422 L772.1,420 L772.1,418 L772,416 L772,414 L772,413.5 L772,412 L771.9,410 L771.9,408 L771.8,406 L771.8,404 L771.7,402 L771.7,400 L771.6,398 L771.6,396 L771.5,394 L771.5,392 L771.4,390 L771.4,388 L771.3,386 L771.2,384 L771.2,382 L771.1,380 L771,378 L771,377.3 L771,376 L770.9,374 L770.8,372 L770.7,370 L770.6,368 L770.5,366 L770.4,364 L770.3,362 L770.2,360 L770.1,358 L770,356.9 L769.9,356 L769.8,354 L769.7,352 L769.5,350 L769.4,348 L769.2,346 L769.1,344 L769,343.4 L768.9,342 L768.7,340 L768.5,338 L768.3,336 L768.1,334 L768,333.4 L767.8,332 L767.6,330 L767.3,328 L767,326 L767,326 L766.7,324 L766.4,322 L766.1,320 L766,319.7 L765.7,318 L765.4,316 L765,314 L765,313.9 L764.6,312 L764.3,310 L764,308.7 L763.8,308 L763.4,306 L763,304.2 L763,304 L762.5,302 L762,300.1 L762,300 L761.4,298 L761,296.3 L760.9,296 L760.4,294 L760,292.8 L759.8,292 L759.2,290 L759,289.3 L758.6,288 L758,286.1 L758,286 L757.3,284 L757,283.1 L756.6,282 L756,280.2 L755.9,280 L755.2,278 L755,277.6 L754.4,276 L754,275.1 L753.6,274 L753,272.7 L752.7,272 L752,270.5 L751.8,270 L751,268.4 L750.8,268 L750,266.4 L749.8,266 L749,264.5 L748.7,264 L748,262.8 L747.5,262 L747,261.2 L746.3,260 L746,259.6 L745,258.2 L744.9,258 L744,256.9 L743.3,256 L743,255.6 L742,254.4 L741.7,254 L741,253.2 L740,252.1 L739.9,252 L739,251.1 L738,250.1 L737.9,250 L737,249.2 L736,248.3 L735.7,248 L735,247.5 L734,246.7 L733.2,246 L733,245.9 L732,245.2 L731,244.5 L730.3,244 L730,243.9 L729,243.3 L728,242.8 L727,242.2 L726.6,242 L726,241.8 L725,241.5 L724,241.1 L723,240.7 L722,240.3 L721.1,240 L721,240 L720,239.7 L719,239.4 L718,239.2 L717,238.9 L716,238.5 L715,238.2 L714.3,238 L714,237.9 L713,237.7 L712,237.4 L711,237.2 L710,236.9 L709,236.6 L708,236.3 L707,236 L706.9,236 L706,235.8 L705,235.5 L704,235.3 L703,235 L702,234.7 L701,234.4 L700,234.1 L699.8,234 L699,233.8 L698,233.5 L697,233.2 L696,232.8 L695,232.5 L694,232.2 L693.6,232 L693,231.8 L692,231.4 L691,230.9 L690,230.5 L689,230 L689,230 L688,229.3 L687,228.7 L686.1,228 L686,228 L685,227.2 L684,226.5 L683.3,226Z" fill="#b1e1da"/>
<path d="M699,226 L700,226 L701,226 L702,226 L703,226 L704,226 L705,226 L706,226 L707,226 L708,226 L708,226 L709,226.7 L710,227.4 L710.8,228 L711,228.1 L712,228.8 L713,229.5 L713.7,230 L714,230.1 L715,230.5 L716,230.9 L717,231.4 L718,231.9 L718.3,232 L719,232.2 L720,232.5 L721,232.8 L722,233.1 L723,233.5 L724,233.8 L724.5,234 L725,234.1 L726,234.4 L727,234.7 L728,234.9 L729,235.2 L730,235.5 L731,235.8 L731.7,236 L732,236.1 L733,236.3 L734,236.6 L735,236.9 L736,237.1 L737,237.4 L738,237.7 L739,238 L739,238 L740,238.3 L741,238.6 L742,238.8 L743,239.1 L744,239.4 L745,239.7 L745.8,240 L746,240.1 L747,240.4 L748,240.7 L749,241.1 L750,241.5 L751,241.9 L751.4,242 L752,242.3 L753,242.8 L754,243.4 L755,244 L755,244 L756,244.6 L757,245.3 L757.9,246 L758,246.1 L759,246.8 L760,247.7 L760.4,248 L761,248.5 L762,249.4 L762.7,250 L763,250.3 L764,251.3 L764.7,252 L765,252.4 L766,253.5 L766.5,254 L767,254.6 L768,255.9 L768.1,256 L769,257.2 L769.6,258 L770,258.6 L771,260 L771,260.1 L772,261.6 L772.3,262 L773,263.2 L773.5,264 L774,265 L774.5,266 L775,266.9 L775.6,268 L776,268.9 L776.5,270 L777,271.1 L777.4,272 L778,273.3 L778.3,274 L779,275.8 L779.1,276 L779.9,278 L780,278.3 L780.6,280 L781,281 L781.4,282 L782,284 L782,284 L782.7,286 L783,287 L783.3,288 L783.9,290 L784,290.3 L784.5,292 L785,293.8 L785.1,294 L785.6,296 L786,297.4 L786.2,298 L786.7,300 L787,301.2 L787.2,302 L787.7,304 L788,305.5 L788.1,306 L788.6,308 L789,310 L789,310.2 L789.4,312 L789.7,314 L790,315.6 L790.1,316 L790.4,318 L790.8,320 L791,321.5 L791.1,322 L791.4,324 L791.7,326 L792,328 L792,328.1 L792.3,330 L792.6,332 L792.8,334 L793,336 L793,336 L793.2,338 L793.4,340 L793.6,342 L793.8,344 L793.9,346 L794,347 L794.1,348 L794.3,350 L794.4,352 L794.5,354 L794.7,356 L794.8,358 L794.9,360 L795,362 L795,362 L795.1,364 L795.2,366 L795.3,368 L795.4,370 L795.5,372 L795.6,374 L795.7,376 L795.8,378 L795.8,380 L795.9,382 L795.9,384 L796,386 L796,386 L796.1,388 L796.1,390 L796.2,392 L796.3,394 L796.3,396 L796.4,398 L796.4,400 L796.5,402 L796.5,404 L796.6,406 L796.6,408 L796.7,410 L796.7,412 L796.7,414 L796.8,416 L796.8,418 L796.8,420 L796.9,422 L796.9,424 L796.9,426 L797,428 L797,430 L797,430.2 L797,432 L797.1,434 L797.1,436 L797.2,438 L797.2,440 L797.2,442 L797.3,444 L797.3,446 L797.4,448 L797.4,450 L797.5,452 L797.5,454 L797.6,456 L797.6,458 L797.7,460 L797.7,462 L797.8,464 L797.9,466 L797.9,468 L798,470 L798,471.2 L798,472 L798.1,474 L798.2,476 L798.2,478 L798.3,480 L798.4,482 L798.4,484 L798.5,486 L798.6,488 L798.6,490 L798.7,492 L798.7,494 L798.8,496 L798.9,498 L798.9,500 L799,502 L799,503.3 L799,504 L799.1,506 L799.2,508 L799.3,510 L799.3,512 L799.4,514 L799.5,516 L799.6,518 L799.6,520 L799.7,522 L799.7,524 L799.8,526 L799.9,528 L799.9,530 L799.9,532 L800,534 L800,536 L800,538 L800,540 L800,542 L800,544 L800,546 L800,548 L800,550 L800,552 L800,554 L800,556 L800,558 L800,560 L800,562 L800,564 L800,566 L800,568 L800,570 L800,572 L800,574 L800,576 L800,578 L800,580 L800,582 L800,584 L800,586 L800,588 L800,590 L800,592 L800,594 L800,596 L800,598 L800,600 L800,602 L800,604 L800,606 L800,608 L800,610 L800,612 L800,614 L800,616 L800,618 L800,620 L800,622 L800,624 L800,626 L800,628 L800,630 L800,632 L800,634 L800,636 L800,638 L800,640 L800,642 L800,644 L800,646 L800,648 L800,650 L800,652 L800,654 L800,656 L800,658 L800,660 L800,662 L800,664 L800,666 L800,668 L800,670 L800,672 L800,674 L800,676 L800,678 L800,680 L800,682 L800,684 L800,686 L800,688 L800,690 L800,692 L800,694 L800,696 L800,698 L800,700 L800,702 L800,704 L800,706 L800,708 L800,710 L800,712 L800,714 L800,716 L800,718 L800,720 L800,722 L800,724 L800,726 L800,728 L800,730 L800,732 L800,734 L800,736 L800,738 L800,740 L800,742 L800,744 L800,746 L800,748 L800,750 L800,752 L800,754 L800,756 L800,758 L800,760 L800,762 L800,764 L800,766 L800,768 L800,770 L800,772 L800,774 L800,776 L800,778 L800,780 L800,782 L800,784 L800,786 L800,788 L800,790 L800,792 L800,794 L800,796 L800,798 L800,800 L800,802 L800,804 L800,806 L800,808 L800,810 L800,812 L800,814 L800,816 L800,818 L800,820 L800,822 L800,824 L800,826 L800,828 L800,830 L800,832 L800,834 L800,836 L800,838 L800,840 L800,842 L800,844 L800,846 L800,848 L800,850 L800,852 L800,854 L800,856 L800,858 L800,860 L800,862 L800,864 L800,866 L800,868 L800,870 L800,872 L800,874 L800,876 L800,878 L800,880 L800,882 L800,884 L800,886 L800,888 L800,890 L800,892 L800,894 L800,896 L800,898 L800,900 L800,902 L800,904 L800,906 L799,906 L798,906 L797,906 L796,906 L795,906 L794,906 L793,906 L792,906 L791,906 L791,904 L791,902 L791,900 L791,898 L791,896 L791,894 L791,892 L791,890 L791,888 L791,886 L791,884 L791,882 L791,880 L791,878 L791,876 L791,874 L791,872 L791,870 L791,868 L791,866 L791,864 L791,862 L791,860 L791,858 L791,856 L791,854 L791,852 L791,850 L791,848 L791,846 L791,844 L791,842 L791,840 L791,838 L791,836 L791,834 L791,832 L791,830 L791,828 L791,826 L791,824 L791,822 L791,820 L791,818 L791,816 L791,814 L791,812 L791,810 L791,808 L791,806 L791,804 L791,802 L791,800 L791,798 L791,796 L791,794 L791,792 L791,790 L791,788 L791,786 L791,784 L791,782 L791,780 L791,778 L791,776 L791,774 L791,772 L791,770 L791,768 L791,766 L791,764 L791,762 L791,760 L791,758 L791,756 L791,754 L791,752 L791,750 L791,748 L791,746 L791,744 L791,742 L791,740 L791,738 L791,736 L791,734 L791,732 L791,730 L791,728 L791,726 L791,724 L791,722 L791,720 L791,718 L791,716 L791,714 L791,712 L791,710 L791,708 L791,706 L791,704 L791,702 L791,700 L791,698 L791,696 L791,694 L791,692 L791,690 L791,688 L791,686 L791,684 L791,682 L791,680 L791,678 L791,676 L791,674 L791,672 L791,670 L791,668 L791,666 L791,664 L791,662 L791,660 L791,658 L791,656 L791,654 L791,652 L791,650 L791,648 L791,646 L791,644 L791,642 L791,640 L791,638 L791,636 L791,634 L791,632 L791,630 L791,628 L791,626 L791,624 L791,622 L791,620 L791,618 L791,616 L791,614 L791,612 L791,610 L791,608 L791,606 L791,604 L791,602 L791,600 L791,598 L791,596 L791,594 L791,592 L791,590 L791,588 L791,586 L791,584 L791,582 L791,580 L791,578 L791,576 L791,574 L791,572 L791,570 L791,568 L791,566 L791,564 L791,562 L791,560 L791,558 L791,556 L791,554 L791,552 L791,550 L791,548 L791,546 L791,544 L791,542 L791,540 L791,539.9 L791,538 L791,536 L791,534 L790.9,532 L790.9,530 L790.8,528 L790.8,526 L790.7,524 L790.7,522 L790.6,520 L790.5,518 L790.4,516 L790.4,514 L790.3,512 L790.2,510 L790.2,508 L790.1,506 L790,504 L790,503.3 L790,502 L789.9,500 L789.8,498 L789.8,496 L789.7,494 L789.7,492 L789.6,490 L789.5,488 L789.5,486 L789.4,484 L789.3,482 L789.3,480 L789.2,478 L789.1,476 L789.1,474 L789,472 L789,471.2 L789,470 L788.9,468 L788.8,466 L788.8,464 L788.7,462 L788.7,460 L788.6,458 L788.5,456 L788.5,454 L788.4,452 L788.4,450 L788.3,448 L788.3,446 L788.3,444 L788.2,442 L788.2,440 L788.1,438 L788.1,436 L788.1,434 L788,432 L788,430.1 L788,430 L788,428 L787.9,426 L787.9,424 L787.9,422 L787.8,420 L787.8,418 L787.7,416 L787.7,414 L787.7,412 L787.6,410 L787.6,408 L787.5,406 L787.5,404 L787.4,402 L787.4,400 L787.3,398 L787.3,396 L787.2,394 L787.2,392 L787.1,390 L787.1,388 L787,386 L787,385.9 L786.9,384 L786.9,382 L786.8,380 L786.7,378 L786.6,376 L786.6,374 L786.5,372 L786.4,370 L786.3,368 L786.2,366 L786.1,364 L786,362 L786,362 L785.9,360 L785.8,358 L785.6,356 L785.5,354 L785.4,352 L785.2,350 L785.1,348 L785,347 L784.9,346 L784.7,344 L784.6,342 L784.4,340 L784.2,338 L784,336 L784,336 L783.8,334 L783.5,332 L783.3,330 L783,328.1 L783,328 L782.7,326 L782.4,324 L782.1,322 L782,321.5 L781.7,320 L781.4,318 L781.1,316 L781,315.6 L780.7,314 L780.3,312 L780,310.2 L780,310 L779.5,308 L779.1,306 L779,305.5 L778.6,304 L778.2,302 L778,301.3 L777.7,300 L777.1,298 L777,297.4 L776.6,296 L776.1,294 L776,293.8 L775.5,292 L775,290.3 L774.9,290 L774.3,288 L774,287.1 L773.7,286 L773,284 L773,284 L772.3,282 L772,281.1 L771.6,280 L771,278.4 L770.9,278 L770.1,276 L770,275.8 L769.2,274 L769,273.4 L768.4,272 L768,271.1 L767.5,270 L767,269 L766.5,268 L766,267 L765.5,266 L765,265.1 L764.4,264 L764,263.3 L763.2,262 L763,261.6 L762,260.1 L762,260 L761,258.6 L760.6,258 L760,257.3 L759.1,256 L759,255.9 L758,254.7 L757.4,254 L757,253.6 L756,252.4 L755.6,252 L755,251.4 L754,250.4 L753.6,250 L753,249.5 L752,248.6 L751.4,248 L751,247.7 L750,246.9 L749,246.1 L748.9,246 L748,245.4 L747,244.7 L746,244 L746,244 L745,243.5 L744,243 L743,242.4 L742.3,242 L742,241.9 L741,241.6 L740,241.2 L739,240.9 L738,240.5 L737,240.1 L736.8,240 L736,239.8 L735,239.6 L734,239.3 L733,239 L732,238.7 L731,238.3 L730,238 L730,238 L729,237.8 L728,237.5 L727,237.3 L726,237 L725,236.7 L724,236.4 L723,236.1 L722.6,236 L722,235.9 L721,235.6 L720,235.4 L719,235.1 L718,234.8 L717,234.5 L716,234.2 L715.5,234 L715,233.9 L714,233.6 L713,233.3 L712,233 L711,232.6 L710,232.3 L709.2,232 L709,231.9 L708,231.5 L707,231.1 L706,230.6 L705,230.1 L704.7,230 L704,229.6 L703,228.9 L702,228.2 L701.8,228 L701,227.5 L700,226.7 L699,226Z" fill="#c4e9e4"/>
<path d="M708,226 L709,226 L710,226 L711,226 L712,226 L713,226 L714,226 L715,226 L716,226 L717,226 L717,226 L718,226.7 L719,227.4 L719.8,228 L720,228.1 L721,228.8 L722,229.5 L722.7,230 L723,230.1 L724,230.6 L725,231 L726,231.4 L727,231.9 L727.3,232 L728,232.2 L729,232.6 L730,232.9 L731,233.2 L732,233.5 L733,233.8 L733.5,234 L734,234.1 L735,234.4 L736,234.7 L737,235 L738,235.3 L739,235.5 L740,235.8 L740.7,236 L741,236.1 L742,236.4 L743,236.6 L744,236.9 L745,237.2 L746,237.5 L747,237.7 L748,238 L748,238 L749,238.3 L750,238.6 L751,238.9 L752,239.2 L753,239.5 L754,239.8 L754.8,240 L755,240.1 L756,240.4 L757,240.8 L758,241.1 L759,241.5 L760,241.9 L760.4,242 L761,242.3 L762,242.9 L763,243.4 L764,244 L764,244 L765,244.7 L766,245.4 L766.9,246 L767,246.1 L768,246.9 L769,247.7 L769.4,248 L770,248.5 L771,249.4 L771.7,250 L772,250.3 L773,251.3 L773.6,252 L774,252.4 L775,253.5 L775.4,254 L776,254.7 L777,255.9 L777.1,256 L778,257.2 L778.6,258 L779,258.6 L780,260 L780,260 L781,261.6 L781.3,262 L782,263.2 L782.4,264 L783,265 L783.5,266 L784,266.9 L784.6,268 L785,268.9 L785.5,270 L786,271.1 L786.4,272 L787,273.4 L787.3,274 L788,275.7 L788.1,276 L788.9,278 L789,278.3 L789.6,280 L790,281 L790.4,282 L791,283.9 L791,284 L791.7,286 L792,287 L792.3,288 L792.9,290 L793,290.3 L793.5,292 L794,293.7 L794.1,294 L794.6,296 L795,297.4 L795.2,298 L795.7,300 L796,301.2 L796.2,302 L796.7,304 L797,305.4 L797.1,306 L797.6,308 L798,310 L798,310.1 L798.4,312 L798.7,314 L799,315.5 L799.1,316 L799.4,318 L799.8,320 L800,321.4 L800.1,322 L800.4,324 L800.7,326 L801,327.9 L801,328 L801.3,330 L801.5,332 L801.8,334 L802,335.8 L802,336 L802.2,338 L802.4,340 L802.6,342 L802.8,344 L802.9,346 L803,346.8 L803.1,348 L803.3,350 L803.4,352 L803.5,354 L803.7,356 L803.8,358 L803.9,360 L804,361.6 L804,362 L804.1,364 L804.2,366 L804.3,368 L804.4,370 L804.5,372 L804.6,374 L804.7,376 L804.7,378 L804.8,380 L804.9,382 L805,384 L805,385.2 L805,386 L805.1,388 L805.1,390 L805.2,392 L805.3,394 L805.3,396 L805.4,398 L805.4,400 L805.5,402 L805.5,404 L805.6,406 L805.6,408 L805.7,410 L805.7,412 L805.7,414 L805.8,416 L805.8,418 L805.8,420 L805.9,422 L805.9,424 L806,426 L806,428 L806,428.8 L806,430 L806.1,432 L806.1,434 L806.1,436 L806.2,438 L806.2,440 L806.2,442 L806.3,444 L806.3,446 L806.4,448 L806.4,450 L806.5,452 L806.5,454 L806.6,456 L806.6,458 L806.7,460 L806.7,462 L806.8,464 L806.9,466 L806.9,468 L807,470 L807,470.4 L807,472 L807.1,474 L807.2,476 L807.2,478 L807.3,480 L807.4,482 L807.4,484 L807.5,486 L807.6,488 L807.6,490 L807.7,492 L807.7,494 L807.8,496 L807.9,498 L807.9,500 L808,502 L808,502.5 L808,504 L808.1,506 L808.2,508 L808.3,510 L808.3,512 L808.4,514 L808.5,516 L808.5,518 L808.6,520 L808.7,522 L808.7,524 L808.8,526 L808.9,528 L808.9,530 L808.9,532 L809,534 L809,535.8 L809,536 L809,538 L809,540 L809,542 L809,544 L809,546 L809,548 L809,550 L809,552 L809,554 L809,556 L809,558 L809,560 L809,562 L809,564 L809,566 L809,568 L809,570 L809,572 L809,574 L809,576 L809,578 L809,580 L809,582 L809,584 L809,586 L809,588 L809,590 L809,592 L809,594 L809,596 L809,598 L809,600 L809,602 L809,604 L809,606 L809,608 L809,610 L809,612 L809,614 L809,616 L809,618 L809,620 L809,622 L809,624 L809,626 L809,628 L809,630 L809,632 L809,634 L809,636 L809,638 L809,640 L809,642 L809,644 L809,646 L809,648 L809,650 L809,652 L809,654 L809,656 L809,658 L809,660 L809,662 L809,664 L809,666 L809,668 L809,670 L809,672 L809,674 L809,676 L809,678 L809,680 L809,682 L809,684 L809,686 L809,688 L809,690 L809,692 L809,694 L809,696 L809,698 L809,700 L809,702 L809,704 L809,706 L809,708 L809,710 L809,712 L809,714 L809,716 L809,718 L809,720 L809,722 L809,724 L809,726 L809,728 L809,730 L809,732 L809,734 L809,736 L809,738 L809,740 L809,742 L809,744 L809,746 L809,748 L809,750 L809,752 L809,754 L809,756 L809,758 L809,760 L809,762 L809,764 L809,766 L809,768 L809,770 L809,772 L809,774 L809,776 L809,778 L809,780 L809,782 L809,784 L809,786 L809,788 L809,790 L809,792 L809,794 L809,796 L809,798 L809,800 L809,802 L809,804 L809,806 L809,808 L809,810 L809,812 L809,814 L809,816 L809,818 L809,820 L809,822 L809,824 L809,826 L809,828 L809,830 L809,832 L809,834 L809,836 L809,838 L809,840 L809,842 L809,844 L809,846 L809,848 L809,850 L809,852 L809,854 L809,856 L809,858 L809,860 L809,862 L809,864 L809,866 L809,868 L809,870 L809,872 L809,874 L809,876 L809,878 L809,880 L809,882 L809,884 L809,886 L809,888 L809,890 L809,892 L809,894 L809,896 L809,898 L809,900 L809,902 L809,904 L809,906 L809,906 L808,906 L807,906 L806,906 L805,906 L804,906 L803,906 L802,906 L801,906 L800,906 L800,906 L800,904 L800,902 L800,900 L800,898 L800,896 L800,894 L800,892 L800,890 L800,888 L800,886 L800,884 L800,882 L800,880 L800,878 L800,876 L800,874 L800,872 L800,870 L800,868 L800,866 L800,864 L800,862 L800,860 L800,858 L800,856 L800,854 L800,852 L800,850 L800,848 L800,846 L800,844 L800,842 L800,840 L800,838 L800,836 L800,834 L800,832 L800,830 L800,828 L800,826 L800,824 L800,822 L800,820 L800,818 L800,816 L800,814 L800,812 L800,810 L800,808 L800,806 L800,804 L800,802 L800,800 L800,798 L800,796 L800,794 L800,792 L800,790 L800,788 L800,786 L800,784 L800,782 L800,780 L800,778 L800,776 L800,774 L800,772 L800,770 L800,768 L800,766 L800,764 L800,762 L800,760 L800,758 L800,756 L800,754 L800,752 L800,750 L800,748 L800,746 L800,744 L800,742 L800,740 L800,738 L800,736 L800,734 L800,732 L800,730 L800,728 L800,726 L800,724 L800,722 L800,720 L800,718 L800,716 L800,714 L800,712 L800,710 L800,708 L800,706 L800,704 L800,702 L800,700 L800,698 L800,696 L800,694 L800,692 L800,690 L800,688 L800,686 L800,684 L800,682 L800,680 L800,678 L800,676 L800,674 L800,672 L800,670 L800,668 L800,666 L800,664 L800,662 L800,660 L800,658 L800,656 L800,654 L800,652 L800,650 L800,648 L800,646 L800,644 L800,642 L800,640 L800,638 L800,636 L800,634 L800,632 L800,630 L800,628 L800,626 L800,624 L800,622 L800,620 L800,618 L800,616 L800,614 L800,612 L800,610 L800,608 L800,606 L800,604 L800,602 L800,600 L800,598 L800,596 L800,594 L800,592 L800,590 L800,588 L800,586 L800,584 L800,582 L800,580 L800,578 L800,576 L800,574 L800,572 L800,570 L800,568 L800,566 L800,564 L800,562 L800,560 L800,558 L800,556 L800,554 L800,552 L800,550 L800,548 L800,546 L800,544 L800,542 L800,540 L800,538 L800,536 L800,534 L799.9,532 L799.9,530 L799.9,528 L799.8,526 L799.7,524 L799.7,522 L799.6,520 L799.6,518 L799.5,516 L799.4,514 L799.3,512 L799.3,510 L799.2,508 L799.1,506 L799,504 L799,503.3 L799,502 L798.9,500 L798.9,498 L798.8,496 L798.7,494 L798.7,492 L798.6,490 L798.6,488 L798.5,486 L798.4,484 L798.4,482 L798.3,480 L798.2,478 L798.2,476 L798.1,474 L798,472 L798,471.2 L798,470 L797.9,468 L797.9,466 L797.8,464 L797.7,462 L797.7,460 L797.6,458 L797.6,456 L797.5,454 L797.5,452 L797.4,450 L797.4,448 L797.3,446 L797.3,444 L797.2,442 L797.2,440 L797.2,438 L797.1,436 L797.1,434 L797,432 L797,430.2 L797,430 L797,428 L796.9,426 L796.9,424 L796.9,422 L796.8,420 L796.8,418 L796.8,416 L796.7,414 L796.7,412 L796.7,410 L796.6,408 L796.6,406 L796.5,404 L796.5,402 L796.4,400 L796.4,398 L796.3,396 L796.3,394 L796.2,392 L796.1,390 L796.1,388 L796,386 L796,386 L795.9,384 L795.9,382 L795.8,380 L795.8,378 L795.7,376 L795.6,374 L795.5,372 L795.4,370 L795.3,368 L795.2,366 L795.1,364 L795,362 L795,362 L794.9,360 L794.8,358 L794.7,356 L794.5,354 L794.4,352 L794.3,350 L794.1,348 L794,347 L793.9,346 L793.8,344 L793.6,342 L793.4,340 L793.2,338 L793,336 L793,336 L792.8,334 L792.6,332 L792.3,330 L792,328.1 L792,328 L791.7,326 L791.4,324 L791.1,322 L791,321.5 L790.8,320 L790.4,318 L790.1,316 L790,315.6 L789.7,314 L789.4,312 L789,310.2 L789,310 L788.6,308 L788.1,306 L788,305.5 L787.7,304 L787.2,302 L787,301.2 L786.7,300 L786.2,298 L786,297.4 L785.6,296 L785.1,294 L785,293.8 L784.5,292 L784,290.3 L783.9,290 L783.3,288 L783,287 L782.7,286 L782,284 L782,284 L781.4,282 L781,281 L780.6,280 L780,278.3 L779.9,278 L779.1,276 L779,275.8 L778.3,274 L778,273.3 L777.4,272 L777,271.1 L776.5,270 L776,268.9 L775.6,268 L775,266.9 L774.5,266 L774,265 L773.5,264 L773,263.2 L772.3,262 L772,261.6 L771,260.1 L771,260 L770,258.6 L769.6,258 L769,257.2 L768.1,256 L768,255.9 L767,254.6 L766.5,254 L766,253.5 L765,252.4 L764.7,252 L764,251.3 L763,250.3 L762.7,250 L762,249.4 L761,248.5 L760.4,248 L760,247.7 L759,246.8 L758,246.1 L757.9,246 L757,245.3 L756,244.6 L755,244 L755,244 L754,243.4 L753,242.8 L752,242.3 L751.4,242 L751,241.9 L750,241.5 L749,241.1 L748,240.7 L747,240.4 L746,240.1 L745.8,240 L745,239.7 L744,239.4 L743,239.1 L742,238.8 L741,238.6 L740,238.3 L739,238 L739,238 L738,237.7 L737,237.4 L736,237.1 L735,236.9 L734,236.6 L733,236.3 L732,236.1 L731.7,236 L731,235.8 L730,235.5 L729,235.2 L728,234.9 L727,234.7 L726,234.4 L725,234.1 L724.5,234 L724,233.8 L723,233.5 L722,233.1 L721,232.8 L720,232.5 L719,232.2 L718.3,232 L718,231.9 L717,231.4 L716,230.9 L715,230.5 L714,230.1 L713.7,230 L713,229.5 L712,228.8 L711,228.1 L710.8,228 L710,227.4 L709,226.7 L708,226Z" fill="#d2ede9"/>
<path d="M717,226 L718,226 L719,226 L720,226 L721,226 L722,226 L723,226 L724,226 L725,226 L726,226 L726.1,226 L727,226.7 L728,227.4 L728.8,228 L729,228.1 L730,228.8 L731,229.5 L731.7,230 L732,230.1 L733,230.6 L734,231 L735,231.4 L736,231.9 L736.3,232 L737,232.2 L738,232.5 L739,232.9 L740,233.2 L741,233.5 L742,233.8 L742.5,234 L743,234.1 L744,234.4 L745,234.7 L746,235 L747,235.2 L748,235.5 L749,235.8 L749.7,236 L750,236.1 L751,236.4 L752,236.6 L753,236.9 L754,237.2 L755,237.4 L756,237.7 L757,238 L757,238 L758,238.3 L759,238.6 L760,238.9 L761,239.2 L762,239.5 L763,239.7 L763.9,240 L764,240.1 L765,240.4 L766,240.8 L767,241.1 L768,241.5 L769,241.9 L769.4,242 L770,242.3 L771,242.9 L772,243.4 L773,244 L773,244 L774,244.7 L775,245.4 L775.9,246 L776,246.1 L777,246.9 L778,247.7 L778.4,248 L779,248.5 L780,249.4 L780.7,250 L781,250.3 L782,251.3 L782.7,252 L783,252.4 L784,253.5 L784.5,254 L785,254.7 L786,255.9 L786.1,256 L787,257.2 L787.6,258 L788,258.6 L789,260 L789,260 L790,261.5 L790.3,262 L791,263.2 L791.5,264 L792,265 L792.6,266 L793,266.9 L793.6,268 L794,268.9 L794.5,270 L795,271 L795.4,272 L796,273.3 L796.3,274 L797,275.7 L797.1,276 L797.9,278 L798,278.2 L798.7,280 L799,280.9 L799.4,282 L800,283.8 L800.1,284 L800.7,286 L801,286.9 L801.3,288 L801.9,290 L802,290.2 L802.5,292 L803,293.6 L803.1,294 L803.7,296 L804,297.3 L804.2,298 L804.7,300 L805,301.1 L805.2,302 L805.7,304 L806,305.3 L806.2,306 L806.6,308 L807,310 L807,310 L807.4,312 L807.8,314 L808,315.4 L808.1,316 L808.5,318 L808.8,320 L809,321.2 L809.1,322 L809.4,324 L809.7,326 L810,327.8 L810,328 L810.3,330 L810.6,332 L810.8,334 L811,335.6 L811,336 L811,338 L811,340 L811,342 L811,344 L811,346 L811,348 L811,350 L811,352 L811,354 L811,356 L811,358 L811,360 L811,362 L811,364 L811,366 L811,368 L811,370 L811,372 L811,374 L811,376 L811,378 L811,380 L811,382 L811,384 L811,386 L811,388 L811,390 L811,392 L811,394 L811,396 L811,398 L811,400 L811,402 L811,404 L811,406 L811,408 L811,410 L811,412 L811,414 L811,416 L811,418 L811,420 L811,422 L811,424 L811,426 L811,428 L811,430 L811,432 L811,434 L811,436 L811,438 L811,440 L811,442 L811,444 L811,446 L811,448 L811,450 L811,452 L811,454 L811,456 L811,458 L811,460 L811,462 L811,464 L811,466 L811,468 L811,470 L811,472 L811,474 L811,476 L811,478 L811,480 L811,482 L811,484 L811,486 L811,488 L811,490 L811,492 L811,494 L811,496 L811,498 L811,500 L811,502 L811,504 L811,506 L811,508 L811,510 L811,512 L811,514 L811,516 L811,518 L811,520 L811,522 L811,524 L811,526 L811,528 L811,530 L811,532 L811,534 L811,536 L811,538 L811,540 L811,542 L811,544 L811,546 L811,548 L811,550 L811,552 L811,554 L811,556 L811,558 L811,560 L811,562 L811,564 L811,566 L811,568 L811,570 L811,572 L811,574 L811,576 L811,578 L811,580 L811,582 L811,584 L811,586 L811,588 L811,590 L811,592 L811,594 L811,596 L811,598 L811,600 L811,602 L811,604 L811,606 L811,608 L811,610 L811,612 L811,614 L811,616 L811,618 L811,620 L811,622 L811,624 L811,626 L811,628 L811,630 L811,632 L811,634 L811,636 L811,638 L811,640 L811,642 L811,644 L811,646 L811,648 L811,650 L811,652 L811,654 L811,656 L811,658 L811,660 L811,662 L811,664 L811,666 L811,668 L811,670 L811,672 L811,674 L811,676 L811,678 L811,680 L811,682 L811,684 L811,686 L811,688 L811,690 L811,692 L811,694 L811,696 L811,698 L811,700 L811,702 L811,704 L811,706 L811,708 L811,710 L811,712 L811,714 L811,716 L811,718 L811,720 L811,722 L811,724 L811,726 L811,728 L811,730 L811,732 L811,734 L811,736 L811,738 L811,740 L811,742 L811,744 L811,746 L811,748 L811,750 L811,752 L811,754 L811,756 L811,758 L811,760 L811,762 L811,764 L811,766 L811,768 L811,770 L811,772 L811,774 L811,776 L811,778 L811,780 L811,782 L811,784 L811,786 L811,788 L811,790 L811,792 L811,794 L811,796 L811,798 L811,800 L811,802 L811,804 L811,806 L811,808 L811,810 L811,812 L811,814 L811,816 L811,818 L811,820 L811,822 L811,824 L811,826 L811,828 L811,830 L811,832 L811,834 L811,836 L811,838 L811,840 L811,842 L811,844 L811,846 L811,848 L811,850 L811,852 L811,854 L811,856 L811,858 L811,860 L811,862 L811,864 L811,866 L811,868 L811,870 L811,872 L811,874 L811,876 L811,878 L811,880 L811,882 L811,884 L811,886 L811,888 L811,890 L811,892 L811,894 L811,896 L811,898 L811,900 L811,902 L811,904 L811,906 L810,906 L809,906 L809,904 L809,902 L809,900 L809,898 L809,896 L809,894 L809,892 L809,890 L809,888 L809,886 L809,884 L809,882 L809,880 L809,878 L809,876 L809,874 L809,872 L809,870 L809,868 L809,866 L809,864 L809,862 L809,860 L809,858 L809,856 L809,854 L809,852 L809,850 L809,848 L809,846 L809,844 L809,842 L809,840 L809,838 L809,836 L809,834 L809,832 L809,830 L809,828 L809,826 L809,824 L809,822 L809,820 L809,818 L809,816 L809,814 L809,812 L809,810 L809,808 L809,806 L809,804 L809,802 L809,800 L809,798 L809,796 L809,794 L809,792 L809,790 L809,788 L809,786 L809,784 L809,782 L809,780 L809,778 L809,776 L809,774 L809,772 L809,770 L809,768 L809,766 L809,764 L809,762 L809,760 L809,758 L809,756 L809,754 L809,752 L809,750 L809,748 L809,746 L809,744 L809,742 L809,740 L809,738 L809,736 L809,734 L809,732 L809,730 L809,728 L809,726 L809,724 L809,722 L809,720 L809,718 L809,716 L809,714 L809,712 L809,710 L809,708 L809,706 L809,704 L809,702 L809,700 L809,698 L809,696 L809,694 L809,692 L809,690 L809,688 L809,686 L809,684 L809,682 L809,680 L809,678 L809,676 L809,674 L809,672 L809,670 L809,668 L809,666 L809,664 L809,662 L809,660 L809,658 L809,656 L809,654 L809,652 L809,650 L809,648 L809,646 L809,644 L809,642 L809,640 L809,638 L809,636 L809,634 L809,632 L809,630 L809,628 L809,626 L809,624 L809,622 L809,620 L809,618 L809,616 L809,614 L809,612 L809,610 L809,608 L809,606 L809,604 L809,602 L809,600 L809,598 L809,596 L809,594 L809,592 L809,590 L809,588 L809,586 L809,584 L809,582 L809,580 L809,578 L809,576 L809,574 L809,572 L809,570 L809,568 L809,566 L809,564 L809,562 L809,560 L809,558 L809,556 L809,554 L809,552 L809,550 L809,548 L809,546 L809,544 L809,542 L809,540 L809,538 L809,536 L809,535.8 L809,534 L808.9,532 L808.9,530 L808.9,528 L808.8,526 L808.7,524 L808.7,522 L808.6,520 L808.5,518 L808.5,516 L808.4,514 L808.3,512 L808.3,510 L808.2,508 L808.1,506 L808,504 L808,502.5 L808,502 L807.9,500 L807.9,498 L807.8,496 L807.7,494 L807.7,492 L807.6,490 L807.6,488 L807.5,486 L807.4,484 L807.4,482 L807.3,480 L807.2,478 L807.2,476 L807.1,474 L807,472 L807,470.4 L807,470 L806.9,468 L806.9,466 L806.8,464 L806.7,462 L806.7,460 L806.6,458 L806.6,456 L806.5,454 L806.5,452 L806.4,450 L806.4,448 L806.3,446 L806.3,444 L806.2,442 L806.2,440 L806.2,438 L806.1,436 L806.1,434 L806.1,432 L806,430 L806,428.8 L806,428 L806,426 L805.9,424 L805.9,422 L805.8,420 L805.8,418 L805.8,416 L805.7,414 L805.7,412 L805.7,410 L805.6,408 L805.6,406 L805.5,404 L805.5,402 L805.4,400 L805.4,398 L805.3,396 L805.3,394 L805.2,392 L805.1,390 L805.1,388 L805,386 L805,385.2 L805,384 L804.9,382 L804.8,380 L804.7,378 L804.7,376 L804.6,374 L804.5,372 L804.4,370 L804.3,368 L804.2,366 L804.1,364 L804,362 L804,361.6 L803.9,360 L803.8,358 L803.7,356 L803.5,354 L803.4,352 L803.3,350 L803.1,348 L803,346.8 L802.9,346 L802.8,344 L802.6,342 L802.4,340 L802.2,338 L802,336 L802,335.8 L801.8,334 L801.5,332 L801.3,330 L801,328 L801,327.9 L800.7,326 L800.4,324 L800.1,322 L800,321.4 L799.8,320 L799.4,318 L799.1,316 L799,315.5 L798.7,314 L798.4,312 L798,310.1 L798,310 L797.6,308 L797.1,306 L797,305.4 L796.7,304 L796.2,302 L796,301.2 L795.7,300 L795.2,298 L795,297.4 L794.6,296 L794.1,294 L794,293.7 L793.5,292 L793,290.3 L792.9,290 L792.3,288 L792,287 L791.7,286 L791,284 L791,283.9 L790.4,282 L790,281 L789.6,280 L789,278.3 L788.9,278 L788.1,276 L788,275.7 L787.3,274 L787,273.4 L786.4,272 L786,271.1 L785.5,270 L785,268.9 L784.6,268 L784,266.9 L783.5,266 L783,265 L782.4,264 L782,263.2 L781.3,262 L781,261.6 L780,260 L780,260 L779,258.6 L778.6,258 L778,257.2 L777.1,256 L777,255.9 L776,254.7 L775.4,254 L775,253.5 L774,252.4 L773.6,252 L773,251.3 L772,250.3 L771.7,250 L771,249.4 L770,248.5 L769.4,248 L769,247.7 L768,246.9 L767,246.1 L766.9,246 L766,245.4 L765,244.7 L764,244 L764,244 L763,243.4 L762,242.9 L761,242.3 L760.4,242 L760,241.9 L759,241.5 L758,241.1 L757,240.8 L756,240.4 L755,240.1 L754.8,240 L754,239.8 L753,239.5 L752,239.2 L751,238.9 L750,238.6 L749,238.3 L748,238 L748,238 L747,237.7 L746,237.5 L745,237.2 L744,236.9 L743,236.6 L742,236.4 L741,236.1 L740.7,236 L740,235.8 L739,235.5 L738,235.3 L737,235 L736,234.7 L735,234.4 L734,234.1 L733.5,234 L733,233.8 L732,233.5 L731,233.2 L730,232.9 L729,232.6 L728,232.2 L727.3,232 L727,231.9 L726,231.4 L725,231 L724,230.6 L723,230.1 L722.7,230 L722,229.5 L721,228.8 L720,228.1 L719.8,228 L719,227.4 L718,226.7 L717,226Z" fill="#ddefed"/>
<path d="M726.1,226 L727,226 L728,226 L729,226 L730,226 L731,226 L732,226 L733,226 L734,226 L735,226 L735.1,226 L736,226.7 L737,227.4 L737.8,228 L738,228.1 L739,228.8 L740,229.5 L740.8,230 L741,230.1 L742,230.5 L743,231 L744,231.4 L745,231.9 L745.3,232 L746,232.2 L747,232.5 L748,232.9 L749,233.2 L750,233.5 L751,233.8 L751.6,234 L752,234.1 L753,234.4 L754,234.7 L755,235 L756,235.2 L757,235.5 L758,235.8 L758.7,236 L759,236.1 L760,236.3 L761,236.6 L762,236.9 L763,237.2 L764,237.4 L765,237.7 L766,238 L766.1,238 L767,238.3 L768,238.6 L769,238.9 L770,239.2 L771,239.4 L772,239.7 L772.9,240 L773,240 L774,240.4 L775,240.8 L776,241.1 L777,241.5 L778,241.9 L778.4,242 L779,242.3 L780,242.9 L781,243.4 L782,244 L782.1,244 L783,244.7 L784,245.4 L784.9,246 L785,246.1 L786,246.8 L787,247.6 L787.5,248 L788,248.5 L789,249.4 L789.7,250 L790,250.3 L791,251.3 L791.7,252 L792,252.3 L793,253.5 L793.5,254 L794,254.6 L795,255.8 L795.1,256 L796,257.2 L796.6,258 L797,258.5 L798,260 L798,260 L799,261.5 L799.3,262 L800,263.2 L800.5,264 L801,264.9 L801.6,266 L802,266.8 L802.6,268 L803,268.8 L803.6,270 L804,271 L804.5,272 L805,273.2 L805.3,274 L806,275.6 L806.2,276 L806.9,278 L807,278.2 L807.7,280 L808,280.9 L808.4,282 L809,283.7 L809.1,284 L809.7,286 L810,286.8 L810.4,288 L811,290 L811,290.1 L811,292 L811,294 L811,296 L811,298 L811,300 L811,302 L811,304 L811,306 L811,308 L811,310 L811,312 L811,314 L811,316 L811,318 L811,320 L811,322 L811,324 L811,326 L811,328 L811,330 L811,332 L811,334 L811,335.6 L810.8,334 L810.6,332 L810.3,330 L810,328 L810,327.8 L809.7,326 L809.4,324 L809.1,322 L809,321.2 L808.8,320 L808.5,318 L808.1,316 L808,315.4 L807.8,314 L807.4,312 L807,310 L807,310 L806.6,308 L806.2,306 L806,305.3 L805.7,304 L805.2,302 L805,301.1 L804.7,300 L804.2,298 L804,297.3 L803.7,296 L803.1,294 L803,293.6 L802.5,292 L802,290.2 L801.9,290 L801.3,288 L801,286.9 L800.7,286 L800.1,284 L800,283.8 L799.4,282 L799,280.9 L798.7,280 L798,278.2 L797.9,278 L797.1,276 L797,275.7 L796.3,274 L796,273.3 L795.4,272 L795,271 L794.5,270 L794,268.9 L793.6,268 L793,266.9 L792.6,266 L792,265 L791.5,264 L791,263.2 L790.3,262 L790,261.5 L789,260 L789,260 L788,258.6 L787.6,258 L787,257.2 L786.1,256 L786,255.9 L785,254.7 L784.5,254 L784,253.5 L783,252.4 L782.7,252 L782,251.3 L781,250.3 L780.7,250 L780,249.4 L779,248.5 L778.4,248 L778,247.7 L777,246.9 L776,246.1 L775.9,246 L775,245.4 L774,244.7 L773,244 L773,244 L772,243.4 L771,242.9 L770,242.3 L769.4,242 L769,241.9 L768,241.5 L767,241.1 L766,240.8 L765,240.4 L764,240.1 L763.9,240 L763,239.7 L762,239.5 L761,239.2 L760,238.9 L759,238.6 L758,238.3 L757,238 L757,238 L756,237.7 L755,237.4 L754,237.2 L753,236.9 L752,236.6 L751,236.4 L750,236.1 L749.7,236 L749,235.8 L748,235.5 L747,235.2 L746,235 L745,234.7 L744,234.4 L743,234.1 L742.5,234 L742,233.8 L741,233.5 L740,233.2 L739,232.9 L738,232.5 L737,232.2 L736.3,232 L736,231.9 L735,231.4 L734,231 L733,230.6 L732,230.1 L731.7,230 L731,229.5 L730,228.8 L729,228.1 L728.8,228 L728,227.4 L727,226.7 L726.1,226Z" fill="#e9f2f1"/>
<path d="M735.1,226 L736,226 L737,226 L738,226 L739,226 L740,226 L741,226 L742,226 L743,226 L744,226 L744.1,226 L745,226.6 L746,227.4 L746.9,228 L747,228.1 L748,228.8 L749,229.5 L749.8,230 L750,230.1 L751,230.5 L752,231 L753,231.4 L754,231.8 L754.4,232 L755,232.2 L756,232.5 L757,232.8 L758,233.2 L759,233.5 L760,233.8 L760.6,234 L761,234.1 L762,234.4 L763,234.7 L764,235 L765,235.2 L766,235.5 L767,235.8 L767.7,236 L768,236.1 L769,236.3 L770,236.6 L771,236.9 L772,237.2 L773,237.4 L774,237.7 L775,238 L775.1,238 L776,238.3 L777,238.6 L778,238.9 L779,239.1 L780,239.4 L781,239.7 L781.9,240 L782,240 L783,240.4 L784,240.8 L785,241.1 L786,241.5 L787,241.8 L787.4,242 L788,242.3 L789,242.9 L790,243.4 L791,244 L791.1,244 L792,244.6 L793,245.3 L794,246 L794,246 L795,246.8 L796,247.6 L796.5,248 L797,248.5 L798,249.3 L798.7,250 L799,250.3 L800,251.3 L800.7,252 L801,252.3 L802,253.4 L802.5,254 L803,254.6 L804,255.8 L804.2,256 L805,257.1 L805.7,258 L806,258.5 L807,259.9 L807.1,260 L808,261.5 L808.3,262 L809,263.1 L809.5,264 L810,264.9 L810.6,266 L811,266.8 L811,268 L811,270 L811,272 L811,274 L811,276 L811,278 L811,280 L811,282 L811,284 L811,286 L811,288 L811,290 L811,290.1 L811,290 L810.4,288 L810,286.8 L809.7,286 L809.1,284 L809,283.7 L808.4,282 L808,280.9 L807.7,280 L807,278.2 L806.9,278 L806.2,276 L806,275.6 L805.3,274 L805,273.2 L804.5,272 L804,271 L803.6,270 L803,268.8 L802.6,268 L802,266.8 L801.6,266 L801,264.9 L800.5,264 L800,263.2 L799.3,262 L799,261.5 L798,260 L798,260 L797,258.5 L796.6,258 L796,257.2 L795.1,256 L795,255.8 L794,254.6 L793.5,254 L793,253.5 L792,252.3 L791.7,252 L791,251.3 L790,250.3 L789.7,250 L789,249.4 L788,248.5 L787.5,248 L787,247.6 L786,246.8 L785,246.1 L784.9,246 L784,245.4 L783,244.7 L782.1,244 L782,244 L781,243.4 L780,242.9 L779,242.3 L778.4,242 L778,241.9 L777,241.5 L776,241.1 L775,240.8 L774,240.4 L773,240 L772.9,240 L772,239.7 L771,239.4 L770,239.2 L769,238.9 L768,238.6 L767,238.3 L766.1,238 L766,238 L765,237.7 L764,237.4 L763,237.2 L762,236.9 L761,236.6 L760,236.3 L759,236.1 L758.7,236 L758,235.8 L757,235.5 L756,235.2 L755,235 L754,234.7 L753,234.4 L752,234.1 L751.6,234 L751,233.8 L750,233.5 L749,233.2 L748,232.9 L747,232.5 L746,232.2 L745.3,232 L745,231.9 L744,231.4 L743,231 L742,230.5 L741,230.1 L740.8,230 L740,229.5 L739,228.8 L738,228.1 L737.8,228 L737,227.4 L736,226.7 L735.1,226Z" fill="#f5f5f4"/>
<path d="M744.1,226 L745,226 L746,226 L747,226 L748,226 L749,226 L750,226 L751,226 L752,226 L753,226 L753.1,226 L754,226.6 L755,227.4 L755.9,228 L756,228.1 L757,228.8 L758,229.4 L758.8,230 L759,230.1 L760,230.5 L761,231 L762,231.4 L763,231.8 L763.4,232 L764,232.2 L765,232.5 L766,232.8 L767,233.2 L768,233.5 L769,233.8 L769.6,234 L770,234.1 L771,234.4 L772,234.7 L773,234.9 L774,235.2 L775,235.5 L776,235.8 L776.8,236 L777,236.1 L778,236.3 L779,236.6 L780,236.9 L781,237.2 L782,237.4 L783,237.7 L784,238 L784.1,238 L785,238.3 L786,238.6 L787,238.8 L788,239.1 L789,239.4 L790,239.7 L790.9,240 L791,240 L792,240.4 L793,240.7 L794,241.1 L795,241.5 L796,241.8 L796.5,242 L797,242.3 L798,242.8 L799,243.4 L800,243.9 L800.1,244 L801,244.6 L802,245.3 L803,246 L803,246 L804,246.8 L805,247.6 L805.5,248 L806,248.4 L807,249.3 L807.8,250 L808,250.2 L809,251.2 L809.7,252 L810,252.3 L811,253.4 L811,254 L811,256 L811,258 L811,260 L811,262 L811,264 L811,266 L811,266.8 L810.6,266 L810,264.9 L809.5,264 L809,263.1 L808.3,262 L808,261.5 L807.1,260 L807,259.9 L806,258.5 L805.7,258 L805,257.1 L804.2,256 L804,255.8 L803,254.6 L802.5,254 L802,253.4 L801,252.3 L800.7,252 L800,251.3 L799,250.3 L798.7,250 L798,249.3 L797,248.5 L796.5,248 L796,247.6 L795,246.8 L794,246 L794,246 L793,245.3 L792,244.6 L791.1,244 L791,244 L790,243.4 L789,242.9 L788,242.3 L787.4,242 L787,241.8 L786,241.5 L785,241.1 L784,240.8 L783,240.4 L782,240 L781.9,240 L781,239.7 L780,239.4 L779,239.1 L778,238.9 L777,238.6 L776,238.3 L775.1,238 L775,238 L774,237.7 L773,237.4 L772,237.2 L771,236.9 L770,236.6 L769,236.3 L768,236.1 L767.7,236 L767,235.8 L766,235.5 L765,235.2 L764,235 L763,234.7 L762,234.4 L761,234.1 L760.6,234 L760,233.8 L759,233.5 L758,233.2 L757,232.8 L756,232.5 L755,232.2 L754.4,232 L754,231.8 L753,231.4 L752,231 L751,230.5 L750,230.1 L749.8,230 L749,229.5 L748,228.8 L747,228.1 L746.9,228 L746,227.4 L745,226.6 L744.1,226Z" fill="#f5f2e8"/>
<path d="M753.1,226 L754,226 L755,226 L756,226 L757,226 L758,226 L759,226 L760,226 L761,226 L762,226 L762.2,226 L763,226.6 L764,227.3 L764.9,228 L765,228.1 L766,228.7 L767,229.4 L767.8,230 L768,230.1 L769,230.5 L770,230.9 L771,231.4 L772,231.8 L772.4,232 L773,232.2 L774,232.5 L775,232.8 L776,233.2 L777,233.5 L778,233.8 L778.6,234 L779,234.1 L780,234.4 L781,234.7 L782,234.9 L783,235.2 L784,235.5 L785,235.8 L785.8,236 L786,236.1 L787,236.3 L788,236.6 L789,236.9 L790,237.1 L791,237.4 L792,237.7 L793,238 L793.1,238 L794,238.3 L795,238.5 L796,238.8 L797,239.1 L798,239.4 L799,239.7 L800,240 L800,240 L801,240.4 L802,240.7 L803,241.1 L804,241.5 L805,241.8 L805.5,242 L806,242.3 L807,242.8 L808,243.4 L809,243.9 L809.1,244 L810,244.6 L811,245.3 L811,246 L811,248 L811,250 L811,252 L811,253.4 L810,252.3 L809.7,252 L809,251.2 L808,250.2 L807.8,250 L807,249.3 L806,248.4 L805.5,248 L805,247.6 L804,246.8 L803,246 L803,246 L802,245.3 L801,244.6 L800.1,244 L800,243.9 L799,243.4 L798,242.8 L797,242.3 L796.5,242 L796,241.8 L795,241.5 L794,241.1 L793,240.7 L792,240.4 L791,240 L790.9,240 L790,239.7 L789,239.4 L788,239.1 L787,238.8 L786,238.6 L785,238.3 L784.1,238 L784,238 L783,237.7 L782,237.4 L781,237.2 L780,236.9 L779,236.6 L778,236.3 L777,236.1 L776.8,236 L776,235.8 L775,235.5 L774,235.2 L773,234.9 L772,234.7 L771,234.4 L770,234.1 L769.6,234 L769,233.8 L768,233.5 L767,233.2 L766,232.8 L765,232.5 L764,232.2 L763.4,232 L763,231.8 L762,231.4 L761,231 L760,230.5 L759,230.1 L758.8,230 L758,229.4 L757,228.8 L756,228.1 L755.9,228 L755,227.4 L754,226.6 L753.1,226Z" fill="#f6eedb"/>
<path d="M762.2,226 L763,226 L764,226 L765,226 L766,226 L767,226 L768,226 L769,226 L770,226 L771,226 L771.2,226 L772,226.6 L773,227.3 L773.9,228 L774,228 L775,228.7 L776,229.4 L776.9,230 L777,230.1 L778,230.5 L779,230.9 L780,231.4 L781,231.8 L781.4,232 L782,232.2 L783,232.5 L784,232.8 L785,233.1 L786,233.5 L787,233.8 L787.7,234 L788,234.1 L789,234.4 L790,234.7 L791,234.9 L792,235.2 L793,235.5 L794,235.8 L794.8,236 L795,236.1 L796,236.3 L797,236.6 L798,236.9 L799,237.1 L800,237.4 L801,237.7 L802,238 L802.2,238 L803,238.2 L804,238.5 L805,238.8 L806,239.1 L807,239.4 L808,239.7 L809,240 L809,240 L810,240.4 L811,240.7 L811,242 L811,244 L811,245.3 L810,244.6 L809.1,244 L809,243.9 L808,243.4 L807,242.8 L806,242.3 L805.5,242 L805,241.8 L804,241.5 L803,241.1 L802,240.7 L801,240.4 L800,240 L800,240 L799,239.7 L798,239.4 L797,239.1 L796,238.8 L795,238.5 L794,238.3 L793.1,238 L793,238 L792,237.7 L791,237.4 L790,237.1 L789,236.9 L788,236.6 L787,236.3 L786,236.1 L785.8,236 L785,235.8 L784,235.5 L783,235.2 L782,234.9 L781,234.7 L780,234.4 L779,234.1 L778.6,234 L778,233.8 L777,233.5 L776,233.2 L775,232.8 L774,232.5 L773,232.2 L772.4,232 L772,231.8 L771,231.4 L770,230.9 L769,230.5 L768,230.1 L767.8,230 L767,229.4 L766,228.7 L765,228.1 L764.9,228 L764,227.3 L763,226.6 L762.2,226Z" fill="#f6ebcf"/>
<path d="M771.2,226 L772,226 L773,226 L774,226 L775,226 L776,226 L777,226 L778,226 L779,226 L780,226 L780.2,226 L781,226.6 L782,227.3 L783,228 L783,228 L784,228.7 L785,229.4 L785.9,230 L786,230 L787,230.5 L788,230.9 L789,231.4 L790,231.8 L790.5,232 L791,232.2 L792,232.5 L793,232.8 L794,233.1 L795,233.5 L796,233.8 L796.7,234 L797,234.1 L798,234.4 L799,234.6 L800,234.9 L801,235.2 L802,235.5 L803,235.8 L803.8,236 L804,236 L805,236.3 L806,236.6 L807,236.9 L808,237.1 L809,237.4 L810,237.7 L811,237.9 L811,238 L811,240 L811,240.7 L810,240.4 L809,240 L809,240 L808,239.7 L807,239.4 L806,239.1 L805,238.8 L804,238.5 L803,238.2 L802.2,238 L802,238 L801,237.7 L800,237.4 L799,237.1 L798,236.9 L797,236.6 L796,236.3 L795,236.1 L794.8,236 L794,235.8 L793,235.5 L792,235.2 L791,234.9 L790,234.7 L789,234.4 L788,234.1 L787.7,234 L787,233.8 L786,233.5 L785,233.1 L784,232.8 L783,232.5 L782,232.2 L781.4,232 L781,231.8 L780,231.4 L779,230.9 L778,230.5 L777,230.1 L776.9,230 L776,229.4 L775,228.7 L774,228 L773.9,228 L773,227.3 L772,226.6 L771.2,226Z" fill="#f5e7c0"/>
<path d="M780.2,226 L781,226 L782,226 L783,226 L784,226 L785,226 L786,226 L787,226 L788,226 L789,226 L789.2,226 L790,226.5 L791,227.3 L792,228 L792,228 L793,228.7 L794,229.4 L794.9,230 L795,230 L796,230.5 L797,230.9 L798,231.4 L799,231.8 L799.5,232 L800,232.2 L801,232.5 L802,232.8 L803,233.1 L804,233.5 L805,233.8 L805.7,234 L806,234.1 L807,234.4 L808,234.6 L809,234.9 L810,235.2 L811,235.5 L811,236 L811,237.9 L810,237.7 L809,237.4 L808,237.1 L807,236.9 L806,236.6 L805,236.3 L804,236 L803.8,236 L803,235.8 L802,235.5 L801,235.2 L800,234.9 L799,234.6 L798,234.4 L797,234.1 L796.7,234 L796,233.8 L795,233.5 L794,233.1 L793,232.8 L792,232.5 L791,232.2 L790.5,232 L790,231.8 L789,231.4 L788,230.9 L787,230.5 L786,230 L785.9,230 L785,229.4 L784,228.7 L783,228 L783,228 L782,227.3 L781,226.6 L780.2,226Z" fill="#efdcad"/>
<path d="M789.2,226 L790,226 L791,226 L792,226 L793,226 L794,226 L795,226 L796,226 L797,226 L798,226 L798.3,226 L799,226.5 L800,227.3 L801,228 L801,228 L802,228.7 L803,229.4 L803.9,230 L804,230 L805,230.5 L806,230.9 L807,231.3 L808,231.8 L808.5,232 L809,232.2 L810,232.5 L811,232.8 L811,234 L811,235.5 L810,235.2 L809,234.9 L808,234.6 L807,234.4 L806,234.1 L805.7,234 L805,233.8 L804,233.5 L803,233.1 L802,232.8 L801,232.5 L800,232.2 L799.5,232 L799,231.8 L798,231.4 L797,230.9 L796,230.5 L795,230 L794.9,230 L794,229.4 L793,228.7 L792,228 L792,228 L791,227.3 L790,226.5 L789.2,226Z" fill="#e9d39d"/>
<path d="M798.3,226 L799,226 L800,226 L801,226 L802,226 L803,226 L804,226 L805,226 L806,226 L807,226 L807.3,226 L808,226.5 L809,227.2 L810,228 L810,228 L811,228.7 L811,230 L811,232 L811,232.8 L810,232.5 L809,232.2 L808.5,232 L808,231.8 L807,231.3 L806,230.9 L805,230.5 L804,230 L803.9,230 L803,229.4 L802,228.7 L801,228 L801,228 L800,227.3 L799,226.5 L798.3,226Z" fill="#e3c989"/>
<path d="M807.3,226 L808,226 L809,226 L810,226 L811,226 L811,228 L811,228.7 L810,228 L810,228 L809,227.2 L808,226.5 L807.3,226Z" fill="#ddbe78"/>
</g>
</g>
<path d="M248.7,904.1v-17.5M248.7,163.7v17.5M390.9,904.1v-17.5M390.9,163.7v17.5M533.1,904.1v-17.5M533.1,163.7v17.5M667.8,904.1v-17.5M667.8,163.7v17.5M802.5,904.1v-17.5M802.5,163.7v17.5M937.2,904.1v-17.5M937.2,163.7v17.5M134.5,842.1h17.5M957.5,842.1h-17.5M134.5,636.5h17.5M957.5,636.5h-17.5M134.5,431h17.5M957.5,431h-17.5M134.5,225.4h17.5M957.5,225.4h-17.5" stroke="#000" stroke-width="2.8" fill="none"/>
<path d="M181.4,904.1v-9M181.4,163.7v9M316.1,904.1v-9M316.1,163.7v9M465.7,904.1v-9M465.7,163.7v9M600.4,904.1v-9M600.4,163.7v9M735.1,904.1v-9M735.1,163.7v9M869.8,904.1v-9M869.8,163.7v9M134.5,903.9h9M957.5,903.9h-9M134.5,887.7h9M957.5,887.7h-9M134.5,873.9h9M957.5,873.9h-9M134.5,862h9M957.5,862h-9M134.5,851.5h9M957.5,851.5h-9M134.5,780.2h9M957.5,780.2h-9M134.5,744h9M957.5,744h-9M134.5,718.3h9M957.5,718.3h-9M134.5,698.4h9M957.5,698.4h-9M134.5,682.1h9M957.5,682.1h-9M134.5,668.3h9M957.5,668.3h-9M134.5,656.4h9M957.5,656.4h-9M134.5,645.9h9M957.5,645.9h-9M134.5,574.6h9M957.5,574.6h-9M134.5,538.4h9M957.5,538.4h-9M134.5,512.7h9M957.5,512.7h-9M134.5,492.8h9M957.5,492.8h-9M134.5,476.6h9M957.5,476.6h-9M134.5,462.8h9M957.5,462.8h-9M134.5,450.9h9M957.5,450.9h-9M134.5,440.4h9M957.5,440.4h-9M134.5,369.1h9M957.5,369.1h-9M134.5,332.9h9M957.5,332.9h-9M134.5,307.2h9M957.5,307.2h-9M134.5,287.3h9M957.5,287.3h-9M134.5,271h9M957.5,271h-9M134.5,257.2h9M957.5,257.2h-9M134.5,245.3h9M957.5,245.3h-9M134.5,234.8h9M957.5,234.8h-9M134.5,163.5h9M957.5,163.5h-9" stroke="#000" stroke-width="2.3" fill="none"/>
<polyline clip-path="url(#axclip)" points="391,907.1 391,215.7 711.3,215.7 715.4,229.5 753,229.5 756.5,243.3 766.1,243.3 770.7,257.1 774.8,257.1 791.9,312.3 792,326.1 797.1,339.9 797.1,367.5 802,381.3 801.6,491.7 806.1,505.5 806.1,907.1" fill="none" stroke="#ff0000" stroke-width="4.6" stroke-linejoin="miter"/>
<g fill="none" stroke-linejoin="round" stroke-linecap="butt">
<path d="M557.5,480 C554.8,479.2 549.5,477.1 541,475.2 C532.5,473.2 519.7,470.1 506.5,468.3 C493.3,466.5 477.7,465.4 461.6,464.2 C445.5,463 420.9,462.2 409.8,461.4 C398.7,460.6 398.4,460.2 395,459.5 C391.6,458.8 389.8,458 389.5,457.3 C389.2,456.6 391.2,455.9 393,455.2 C394.8,454.5 393.8,453.9 400,453.4 C406.2,452.9 416.7,452.7 430,452.3 C443.3,451.9 465,451.6 480,451.2 C495,450.8 506.7,450 520,449.6 C533.3,449.2 549.2,448.8 560,448.6 C570.8,448.4 575.9,448.4 585,448.3 C594.1,448.2 608,447.8 614.7,448.3 C621.4,448.8 621.6,449.6 625,451.2 C628.4,452.8 631.7,454.4 635.1,458 C638.5,461.6 641.9,467.1 645.3,472.5 C648.7,477.9 652.1,484.7 655.5,490.3 C658.9,495.9 662.3,501.7 665.7,506.4 C669.1,511.1 672.5,514.9 675.9,518.3 C679.3,521.7 683.3,525.8 686.1,526.8 C688.9,527.8 690.3,525.8 692.9,524.3 C695.5,522.8 698.6,520 701.8,518 C705,516 709.1,514.1 711.9,512.6 C714.6,511.1 715.7,510.6 718.3,508.9 C720.9,507.2 724,505.1 727.4,502.5 C730.8,499.9 735.8,495.2 738.4,493.4 C741,491.6 740.9,491.6 743,491.6 C745.1,491.6 748.5,492.3 751.2,493.4 C753.9,494.5 756.7,496.8 759.4,498 C762.1,499.2 765,499.9 767.6,500.7 C770.2,501.5 774.6,501.1 775,503 C775.4,504.9 772.5,509.9 770,512 C767.5,514.1 763.7,514.7 760.2,515.7 C756.7,516.7 749.8,517.3 749.2,518.1 C748.6,518.9 756.5,519.2 756.5,520.6 C756.5,522 751.8,525.2 749.2,526.7 C746.6,528.2 743.7,529.1 740.7,529.7 C737.7,530.3 730.4,530 731,530.3 C731.6,530.6 740.9,530.4 744.4,531.5 C747.9,532.6 749.1,535.8 751.7,537 C754.3,538.2 756.6,538.4 760.2,538.9 C763.9,539.4 769.5,539.7 773.6,540.1 C777.7,540.5 782.2,540.7 784.6,541.3 C787,541.9 786.8,542.9 788.2,543.7 C789.6,544.5 790.2,545.6 793.1,546.2 C796,546.8 802,547 805.3,547.4 C808.5,547.8 810.6,548.8 812.6,548.6 C814.6,548.4 815.1,546.7 817.5,546.2 C819.9,545.7 815.3,545.6 827.2,545.5 C839.1,545.4 878.5,545.3 888.7,545.3" stroke="#ff1493" stroke-width="4.4" stroke-dasharray="14.5,6.2"/>
<path d="M234.5,533.9 C237.8,533.5 245.4,532.1 254.5,531.5 C263.6,530.9 266.6,530.8 289,530.5 C311.4,530.2 354.5,530 389,529.8 C423.5,529.5 474.2,529.3 496,529 C517.8,528.7 512.7,528.5 520,528 C527.3,527.5 535.2,526.5 540,526 C544.8,525.5 546.2,525.5 549,525 C551.8,524.5 557,524 557,523 C557,522 547.5,520.2 549,519 C550.5,517.8 565.8,516.5 566,515.5 C566.2,514.5 552.2,514.1 550,513 C547.8,511.9 552.8,510.1 553,509 C553.2,507.9 543.7,506.3 551.5,506.5 C559.3,506.7 586.4,509.2 600,510 C613.6,510.8 623.6,510.2 633.4,511.5 C643.2,512.8 653.2,515.8 659,517.5 C664.8,519.2 665.2,520.2 668,522 C670.8,523.8 673.4,525.4 675.9,528.5 C678.4,531.6 681,536.5 682.7,540.4 C684.4,544.3 685.1,548.6 686,552 C686.9,555.4 687.1,559 687.8,560.8 C688.5,562.5 689.4,564.5 690.3,562.5 C691.1,560.5 692,553.4 692.9,548.9 C693.8,544.4 694.6,540.3 695.8,535.3 C697,530.3 698.5,523.7 700,519 C701.5,514.3 703.2,510.7 705,507 C706.8,503.3 709.2,500 710.5,497 C711.8,494 712.2,491.4 713,489 C713.8,486.6 714.2,484.9 715.5,482.4 C716.8,479.9 719,476.6 721,474.2 C723,471.8 725.1,469.3 727.4,467.8 C729.7,466.3 732.3,465.4 734.7,465.1 C737.1,464.8 740.3,465.1 742,466 C743.7,466.9 744.6,469 744.8,470.5 C744.9,472 744,473.7 742.9,475.1 C741.8,476.6 738.5,477.6 738.4,479.2 C738.2,480.8 740,482.9 742,485 C744,487.1 747.8,489.8 750.3,491.6 C752.8,493.5 754.4,494.3 756.7,496.1 C759,497.9 761.9,500.2 764,502.5 C766.1,504.8 768.3,507.4 769.5,509.8 C770.7,512.2 771.6,515.1 771.3,517.2 C771,519.3 769.2,521.4 767.7,522.6 C766.2,523.8 762.2,523.4 762.6,524.2 C763,525 768.2,528.7 770,527.3 C771.8,525.9 772.2,518 773.6,515.7 C775,513.4 774.1,513.6 778.5,513.3 C782.9,513 792.3,513.6 800,513.8 C807.7,514 820.7,514.3 824.8,514.4" stroke="#ff1493" stroke-width="4.4"/>
<path d="M712.3,495 C712.8,492.9 714,485.9 715.5,482.4 C717,478.9 719,476.6 721,474.2 C723,471.8 725.1,469.3 727.4,467.8 C729.7,466.3 732.3,465.4 734.7,465.1 C737.1,464.8 740.3,465.1 742,466 C743.7,466.9 744.6,469 744.8,470.5 C744.9,472 743.2,474.3 742.9,475.1" stroke="#ff1493" stroke-width="7.5" stroke-linecap="round"/>
<path d="M252.8,628.8 C260.7,628.9 277.3,629.2 300,629.3 C322.7,629.4 357.3,629.4 389,629.6 C420.7,629.8 469.1,630.2 490,630.6 C510.9,631 507.9,631.9 514.4,631.9 C520.9,631.9 525.8,631.8 529,630.6 C532.2,629.4 535,626.4 533.9,624.9 C532.8,623.4 526,622.5 522.5,621.7 C519,620.9 514.5,620.8 512.7,620 C510.9,619.2 508.9,618.1 511.9,616.8 C514.9,615.4 523.4,613 530.6,611.9 C537.8,610.8 546.1,610.7 555,610.3 C563.9,609.9 576.1,610.2 584.2,609.5 C592.3,608.8 596.4,607.7 603.7,606.2 C611,604.7 621.6,602.7 628,600.6 C634.4,598.5 637.5,595.9 642,593.5 C646.5,591.1 651.2,588.1 655,586.5 C658.8,584.9 662.2,584.5 665,583.8 C667.8,583 669.6,583.5 672,582 C674.4,580.5 677.3,577.8 679.3,575 C681.3,572.2 682.5,568.8 684,565 C685.5,561.2 686.6,557 688,552 C689.4,547 691,540.2 692.5,535 C694,529.8 695.8,524.6 697,521 C698.2,517.4 698.6,516.9 700,513.5 C701.4,510.1 703.5,504.2 705.5,500.7 C707.5,497.2 709.8,494.6 711.9,492.5 C714,490.4 715.7,489.3 718.3,487.9 C720.9,486.4 724.3,484.8 727.4,483.8 C730.5,482.9 733.5,482.5 736.6,482.2 C739.7,481.9 742.7,482 745.7,482 C748.7,482 752.6,481.9 754.8,482.2 C757,482.5 757.5,483.1 759,484 C760.5,484.9 765,486.6 764,487.5 C763,488.4 752.7,489.2 753,489.5 C753.3,489.8 762.6,489.2 766,489.5 C769.4,489.8 771.1,490.6 773.1,491.5 C775.1,492.4 777.7,494 777.7,495.2 C777.7,496.4 775.4,497.8 773.1,498.9 C770.8,500 766.4,500.7 764,501.6 C761.6,502.5 757.8,503.6 758.5,504.3 C759.2,505 763.2,505.2 768.5,505.7 C773.8,506.2 776.4,506.9 790,507.3 C803.6,507.7 825,507.9 850,508.2 C875,508.5 924.9,508.8 939.9,508.9" stroke="#0000ff" stroke-width="4.5"/>
</g>
<rect x="134.2" y="163.7" width="823.6" height="740.4" fill="none" stroke="#000" stroke-width="2"/>
<g font-family="DejaVu Serif, serif" font-size="31.85">
<text x="249.7" y="198.8" fill="#fff">Thermal overturning convection</text>
<text x="200.7" y="369.3" fill="#000">Stable</text>
<text x="512.9" y="369.3" fill="#000">Thermohaline</text>
<text transform="translate(906.6,242.9) rotate(90)" fill="#fff">Compositional overturning</text>
<text transform="translate(871.5,242.4) rotate(90)" fill="#fff" xml:space="preserve"> convection</text>
</g>
<line x1="168.5" y1="782.4" x2="255" y2="782.4" stroke="#ff1493" stroke-width="4"/>
<line x1="168.5" y1="843.8" x2="255" y2="843.8" stroke="#0000ff" stroke-width="4"/>
<text x="264.6" y="795.6" font-family="DejaVu Serif, serif" font-size="40.5">0.6</text>
<text x="331" y="795.6" font-family="Liberation Serif, serif" font-style="italic" font-size="42">M</text>
<text x="362.8" y="802.4" font-family="DejaVu Serif, serif" font-size="29.2">&#8857;</text>
<text x="264.6" y="857" font-family="DejaVu Serif, serif" font-size="40.5">0.9</text>
<text x="331" y="857" font-family="Liberation Serif, serif" font-style="italic" font-size="42">M</text>
<text x="362.8" y="863.8" font-family="DejaVu Serif, serif" font-size="29.2">&#8857;</text>
<text y="95.4" font-family="Liberation Serif, serif" font-size="46.6"><tspan x="153.8">10</tspan><tspan x="197.8" y="80.8" font-size="30.4" font-family="DejaVu Serif, serif">&#8722;</tspan><tspan x="221.8" y="79.8" font-size="32.6" font-family="Liberation Serif, serif">9</tspan></text>
<text y="95.4" font-family="Liberation Serif, serif" font-size="46.6"><tspan x="280.6">10</tspan><tspan x="324.6" y="80.8" font-size="30.4" font-family="DejaVu Serif, serif">&#8722;</tspan><tspan x="348.6" y="79.8" font-size="32.6" font-family="Liberation Serif, serif">7</tspan></text>
<text y="95.4" font-family="Liberation Serif, serif" font-size="46.6"><tspan x="407.3">10</tspan><tspan x="451.3" y="80.8" font-size="30.4" font-family="DejaVu Serif, serif">&#8722;</tspan><tspan x="475.3" y="79.8" font-size="32.6" font-family="Liberation Serif, serif">5</tspan></text>
<text y="95.4" font-family="Liberation Serif, serif" font-size="46.6"><tspan x="534.1">10</tspan><tspan x="578.1" y="80.8" font-size="30.4" font-family="DejaVu Serif, serif">&#8722;</tspan><tspan x="602.1" y="79.8" font-size="32.6" font-family="Liberation Serif, serif">3</tspan></text>
<text y="95.4" font-family="Liberation Serif, serif" font-size="46.6"><tspan x="663.3">10</tspan><tspan x="707.3" y="80.8" font-size="30.4" font-family="DejaVu Serif, serif">&#8722;</tspan><tspan x="728.8" y="79.8" font-size="32.6" font-family="Liberation Serif, serif">1</tspan></text>
<text y="95.4" font-family="Liberation Serif, serif" font-size="46.6"><tspan x="798.8">10</tspan><tspan x="844.1" y="79.8" font-size="32.6">1</tspan></text>
<text y="95.4" font-family="Liberation Serif, serif" font-size="46.6"><tspan x="925.5">10</tspan><tspan x="970.8" y="79.8" font-size="32.6">3</tspan></text>
<text y="858.4" font-family="Liberation Serif, serif" font-size="46.6"><tspan x="38.5">10</tspan><tspan x="82.5" y="843.8" font-size="30.4" font-family="DejaVu Serif, serif">&#8722;</tspan><tspan x="106.5" y="842.8" font-size="32.6" font-family="Liberation Serif, serif">3</tspan></text>
<text y="652.8" font-family="Liberation Serif, serif" font-size="46.6"><tspan x="38.5">10</tspan><tspan x="82.5" y="638.2" font-size="30.4" font-family="DejaVu Serif, serif">&#8722;</tspan><tspan x="106.5" y="637.2" font-size="32.6" font-family="Liberation Serif, serif">2</tspan></text>
<text y="447.3" font-family="Liberation Serif, serif" font-size="46.6"><tspan x="41">10</tspan><tspan x="85" y="432.7" font-size="30.4" font-family="DejaVu Serif, serif">&#8722;</tspan><tspan x="106.5" y="431.7" font-size="32.6" font-family="Liberation Serif, serif">1</tspan></text>
<text y="241.7" font-family="Liberation Serif, serif" font-size="46.6"><tspan x="61.2">10</tspan><tspan x="106.5" y="226.1" font-size="32.6">0</tspan></text>
<text y="946" font-family="Liberation Serif, serif" font-size="46.6"><tspan x="489.5">10</tspan><tspan x="533.5" y="931.4" font-size="30.4" font-family="DejaVu Serif, serif">&#8722;</tspan><tspan x="557.5" y="930.4" font-size="32.6" font-family="Liberation Serif, serif">4</tspan></text>
<text y="946" font-family="Liberation Serif, serif" font-size="46.6"><tspan x="624.2">10</tspan><tspan x="668.2" y="931.4" font-size="30.4" font-family="DejaVu Serif, serif">&#8722;</tspan><tspan x="692.2" y="930.4" font-size="32.6" font-family="Liberation Serif, serif">2</tspan></text>
<text y="946" font-family="Liberation Serif, serif" font-size="46.6"><tspan x="770.1">10</tspan><tspan x="815.4" y="930.4" font-size="32.6">0</tspan></text>
<text y="946" font-family="Liberation Serif, serif" font-size="46.6"><tspan x="904.8">10</tspan><tspan x="950.1" y="930.4" font-size="32.6">2</tspan></text>
<text x="197.2" y="946" font-family="Liberation Serif, serif" font-size="46.6">-</text>
<text y="946" font-family="Liberation Serif, serif" font-size="46.6"><tspan x="213.5">10</tspan><tspan x="257.5" y="931.4" font-size="30.4" font-family="DejaVu Serif, serif">&#8722;</tspan><tspan x="281.5" y="930.4" font-size="32.6" font-family="Liberation Serif, serif">4</tspan></text>
<text x="390.9" y="946" font-family="Liberation Serif, serif" font-size="46.6" text-anchor="middle">0</text>
<text x="533.8" y="999.5" font-family="Liberation Serif, serif" font-weight="bold" font-style="italic" font-size="45">&#964;</text>
<g transform="translate(32.6,609.1) rotate(-90)"><text x="-1" y="0" font-family="DejaVu Serif, serif" font-size="41.5" transform="translate(26.5,-0.6) scale(-1,1)">&#8711;</text><text x="28.8" y="5.2" font-family="Liberation Serif, serif" font-size="30">rad</text><text x="73.9" y="-1.1" font-family="Liberation Serif, serif" font-size="46">/</text><text x="-1" y="0" font-family="DejaVu Serif, serif" font-size="41.5" transform="translate(116,-0.6) scale(-1,1)">&#8711;</text><text x="120.75" y="5.2" font-family="Liberation Serif, serif" font-size="30">ad</text></g>
<g font-family="Liberation Serif, serif" font-size="46.6"><text x="443.4" y="38.1" textLength="20" lengthAdjust="spacingAndGlyphs">v</text><text x="464.3" y="43.9" font-size="32.6">c</text><text x="493.1" y="38.1">(</text><text x="507.1" y="38.1">cm</text><text x="575.5" y="38.1">s</text><text x="592.4" y="22.9" font-family="DejaVu Serif, serif" font-size="29.2">&#8722;</text><text x="616" y="21.8" font-size="32.6">1</text><text x="633.1" y="38.1">)</text></g>
</svg></body></html>
